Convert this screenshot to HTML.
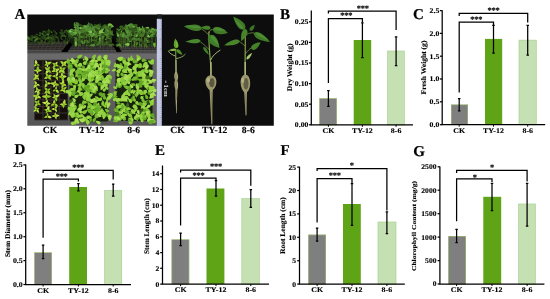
<!DOCTYPE html>
<html><head><meta charset="utf-8"><title>Figure</title>
<style>
html,body{margin:0;padding:0;background:#fff;}
body{width:550px;height:299px;overflow:hidden;font-family:"Liberation Serif", serif;}
svg{display:block;}
svg text{font-family:"Liberation Serif", serif;font-weight:bold;fill:#000;text-rendering:geometricPrecision;}
.t{font-size:7.2px;stroke:#000;stroke-width:0.12px;}
.t2{font-size:5.9px;stroke:#000;stroke-width:0.12px;}
.s{font-size:8.4px;letter-spacing:-0.25px;stroke:#000;stroke-width:0.15px;}
.L{font-size:15px;stroke:#000;stroke-width:0.2px;}
.p{font-size:9.3px;stroke:#000;stroke-width:0.15px;}
</style></head><body>
<svg width="550" height="299" viewBox="0 0 550 299">
<rect width="550" height="299" fill="#fff"/>
<defs><clipPath id="cpL"><rect x="27.3" y="14.4" width="134.7" height="111.4"/></clipPath><clipPath id="cpR"><rect x="162" y="14.4" width="111.8" height="111.4"/></clipPath><linearGradient id="flr" x1="0" y1="0" x2="0" y2="1"><stop offset="0.35" stop-color="#6b6b6b"/><stop offset="1" stop-color="#565656"/></linearGradient><filter id="bl" x="-5%" y="-5%" width="110%" height="110%"><feGaussianBlur stdDeviation="0.35"/></filter></defs>
<g id="photoA1" clip-path="url(#cpL)"><g filter="url(#bl)">
<rect x="26" y="13" width="137" height="114" fill="url(#flr)"/>
<rect x="26" y="13" width="137" height="39.8" fill="#070707"/>
<path d="M26 42.3L70.5 41.2L61.5 52L26 52Z" fill="#2a2724"/>
<path d="M73 43.5L111 44.5L119.5 52L67.5 52Z" fill="#2b2926"/>
<path d="M118 45.5L158 45.5L158 52L121.5 52Z" fill="#2d2b29"/>
<path d="M31.6 42L27.8 51.5" stroke="#4a4744" stroke-width="0.5"/>
<path d="M35.9 42L32.1 51.5" stroke="#4a4744" stroke-width="0.5"/>
<path d="M40.2 42L36.4 51.5" stroke="#4a4744" stroke-width="0.5"/>
<path d="M44.5 42L40.7 51.5" stroke="#4a4744" stroke-width="0.5"/>
<path d="M48.8 42L45.0 51.5" stroke="#4a4744" stroke-width="0.5"/>
<path d="M53.1 42L49.3 51.5" stroke="#4a4744" stroke-width="0.5"/>
<path d="M57.4 42L53.6 51.5" stroke="#4a4744" stroke-width="0.5"/>
<path d="M61.7 42L57.9 51.5" stroke="#4a4744" stroke-width="0.5"/>
<path d="M66.0 42L62.2 51.5" stroke="#4a4744" stroke-width="0.5"/>
<path d="M70.3 42L66.5 51.5" stroke="#4a4744" stroke-width="0.5"/>
<path d="M26 44.3L66.7 43.699999999999996" stroke="#4d4a47" stroke-width="0.5"/>
<path d="M26 46.8L64.7 46.199999999999996" stroke="#4d4a47" stroke-width="0.5"/>
<path d="M26 49.3L62.7 48.699999999999996" stroke="#4d4a47" stroke-width="0.5"/>
<path d="M75.0 44.5L73.8 51.5" stroke="#484644" stroke-width="0.5"/>
<path d="M79.0 44.5L78.0 51.5" stroke="#484644" stroke-width="0.5"/>
<path d="M83.0 44.5L82.2 51.5" stroke="#484644" stroke-width="0.5"/>
<path d="M87.0 44.5L86.5 51.5" stroke="#484644" stroke-width="0.5"/>
<path d="M91.0 44.5L90.8 51.5" stroke="#484644" stroke-width="0.5"/>
<path d="M95.0 44.5L95.0 51.5" stroke="#484644" stroke-width="0.5"/>
<path d="M99.0 44.5L99.2 51.5" stroke="#484644" stroke-width="0.5"/>
<path d="M103.0 44.5L103.5 51.5" stroke="#484644" stroke-width="0.5"/>
<path d="M107.0 44.5L107.8 51.5" stroke="#484644" stroke-width="0.5"/>
<path d="M111.0 44.5L112.0 51.5" stroke="#484644" stroke-width="0.5"/>
<path d="M121.0 46L121.8 51.5" stroke="#484644" stroke-width="0.5"/>
<path d="M124.9 46L125.7 51.5" stroke="#484644" stroke-width="0.5"/>
<path d="M128.8 46L129.6 51.5" stroke="#484644" stroke-width="0.5"/>
<path d="M132.7 46L133.5 51.5" stroke="#484644" stroke-width="0.5"/>
<path d="M136.6 46L137.4 51.5" stroke="#484644" stroke-width="0.5"/>
<path d="M140.5 46L141.3 51.5" stroke="#484644" stroke-width="0.5"/>
<path d="M144.4 46L145.2 51.5" stroke="#484644" stroke-width="0.5"/>
<path d="M148.3 46L149.1 51.5" stroke="#484644" stroke-width="0.5"/>
<path d="M152.2 46L153.0 51.5" stroke="#484644" stroke-width="0.5"/>
<path d="M156.1 46L156.9 51.5" stroke="#484644" stroke-width="0.5"/>
<path d="M70 48.2H115M120 48.6H157" stroke="#4c4a48" stroke-width="0.5"/>
<path d="M26 50.9H61.5M68 50.9H118.5M122 50.9H157" stroke="#5c5c5c" stroke-width="1.1"/>
<rect x="26" y="51.8" width="137" height="1.6" fill="#4a4a4a"/>
<path d="M61.2 52L70.6 40.8L73.4 42L67.4 52Z" fill="#040404"/>
<path d="M110.6 39L113 39L120.6 52L116.6 52Z" fill="#050505"/>
<path d="M70 42L72 33L78 29L96 28L110 30L112 40L112 45L72 44.5Z" fill="#16220f"/>
<path d="M117 45.5L116 32L124 27L140 27L156 31L157 46Z" fill="#17230f"/>
<path d="M89.6 33.4L90.2 45.9" stroke="#6f9c45" stroke-width="0.6" opacity="0.75"/>
<path d="M91.8 33.5L91.4 46.0" stroke="#6f9c45" stroke-width="0.6" opacity="0.75"/>
<path d="M96.6 34.8L96.1 45.4" stroke="#6f9c45" stroke-width="0.6" opacity="0.75"/>
<path d="M75.5 34.9L75.8 44.6" stroke="#6f9c45" stroke-width="0.6" opacity="0.75"/>
<path d="M110.3 35.8L110.5 46.3" stroke="#6f9c45" stroke-width="0.6" opacity="0.75"/>
<path d="M78.1 30.1L78.2 44.7" stroke="#6f9c45" stroke-width="0.6" opacity="0.75"/>
<path d="M79.4 31.5L78.9 45.9" stroke="#6f9c45" stroke-width="0.6" opacity="0.75"/>
<path d="M89.2 35.1L89.2 46.4" stroke="#6f9c45" stroke-width="0.6" opacity="0.75"/>
<path d="M91.5 34.0L91.4 45.3" stroke="#6f9c45" stroke-width="0.6" opacity="0.75"/>
<path d="M110.9 36.0L111.3 46.6" stroke="#6f9c45" stroke-width="0.6" opacity="0.75"/>
<path d="M84.3 31.4L84.0 44.7" stroke="#6f9c45" stroke-width="0.6" opacity="0.75"/>
<path d="M101.9 32.4L102.3 45.7" stroke="#6f9c45" stroke-width="0.6" opacity="0.75"/>
<path d="M109.4 35.1L108.8 45.1" stroke="#6f9c45" stroke-width="0.6" opacity="0.75"/>
<path d="M107.5 32.8L108.1 45.7" stroke="#6f9c45" stroke-width="0.6" opacity="0.75"/>
<path d="M74.8 33.8L75.2 45.3" stroke="#6f9c45" stroke-width="0.6" opacity="0.75"/>
<path d="M75.4 32.0L76.0 46.8" stroke="#6f9c45" stroke-width="0.6" opacity="0.75"/>
<path d="M76.6 31.5L76.1 44.7" stroke="#6f9c45" stroke-width="0.6" opacity="0.75"/>
<path d="M103.1 31.1L103.2 45.8" stroke="#6f9c45" stroke-width="0.6" opacity="0.75"/>
<path d="M79.4 34.4L79.0 46.4" stroke="#6f9c45" stroke-width="0.6" opacity="0.75"/>
<path d="M76.5 32.5L76.2 45.3" stroke="#6f9c45" stroke-width="0.6" opacity="0.75"/>
<path d="M109.9 34.8L109.6 47.2" stroke="#6f9c45" stroke-width="0.6" opacity="0.75"/>
<path d="M80.2 32.4L80.6 46.4" stroke="#6f9c45" stroke-width="0.6" opacity="0.75"/>
<path d="M75.9 35.9L75.6 45.3" stroke="#6f9c45" stroke-width="0.6" opacity="0.75"/>
<path d="M102.1 32.0L101.9 44.7" stroke="#6f9c45" stroke-width="0.6" opacity="0.75"/>
<path d="M75.5 33.5L75.2 46.3" stroke="#6f9c45" stroke-width="0.6" opacity="0.75"/>
<path d="M86.5 32.7L87.0 46.0" stroke="#6f9c45" stroke-width="0.6" opacity="0.75"/>
<path d="M94.4 35.2L94.0 45.0" stroke="#6f9c45" stroke-width="0.6" opacity="0.75"/>
<path d="M107.4 34.9L107.1 45.1" stroke="#6f9c45" stroke-width="0.6" opacity="0.75"/>
<path d="M100.8 35.6L100.5 47.4" stroke="#6f9c45" stroke-width="0.6" opacity="0.75"/>
<path d="M106.4 33.6L106.3 44.8" stroke="#6f9c45" stroke-width="0.6" opacity="0.75"/>
<path d="M119.5 36.8L119.2 47.3" stroke="#668f40" stroke-width="0.55" opacity="0.7"/>
<path d="M127.8 36.1L127.9 46.2" stroke="#668f40" stroke-width="0.55" opacity="0.7"/>
<path d="M124.7 35.6L124.2 46.1" stroke="#668f40" stroke-width="0.55" opacity="0.7"/>
<path d="M139.3 36.3L139.4 46.2" stroke="#668f40" stroke-width="0.55" opacity="0.7"/>
<path d="M152.9 33.0L152.4 46.2" stroke="#668f40" stroke-width="0.55" opacity="0.7"/>
<path d="M134.9 32.3L134.6 46.4" stroke="#668f40" stroke-width="0.55" opacity="0.7"/>
<path d="M139.7 32.7L139.6 47.7" stroke="#668f40" stroke-width="0.55" opacity="0.7"/>
<path d="M155.3 35.3L155.4 47.0" stroke="#668f40" stroke-width="0.55" opacity="0.7"/>
<path d="M123.3 32.2L122.9 47.8" stroke="#668f40" stroke-width="0.55" opacity="0.7"/>
<path d="M144.6 36.8L144.2 47.1" stroke="#668f40" stroke-width="0.55" opacity="0.7"/>
<path d="M136.3 35.7L136.1 48.0" stroke="#668f40" stroke-width="0.55" opacity="0.7"/>
<path d="M120.9 34.7L121.1 47.8" stroke="#668f40" stroke-width="0.55" opacity="0.7"/>
<path d="M146.0 35.5L146.3 47.8" stroke="#668f40" stroke-width="0.55" opacity="0.7"/>
<path d="M131.4 35.4L131.8 47.7" stroke="#668f40" stroke-width="0.55" opacity="0.7"/>
<path d="M133.9 36.0L134.2 46.9" stroke="#668f40" stroke-width="0.55" opacity="0.7"/>
<path d="M141.7 33.9L141.8 47.0" stroke="#668f40" stroke-width="0.55" opacity="0.7"/>
<path d="M121.0 35.2L121.5 47.7" stroke="#668f40" stroke-width="0.55" opacity="0.7"/>
<path d="M145.7 33.9L145.9 47.0" stroke="#668f40" stroke-width="0.55" opacity="0.7"/>
<path d="M134.7 36.2L134.3 47.4" stroke="#668f40" stroke-width="0.55" opacity="0.7"/>
<path d="M119.1 35.0L119.1 46.1" stroke="#668f40" stroke-width="0.55" opacity="0.7"/>
<path d="M144.5 34.5L144.7 47.8" stroke="#668f40" stroke-width="0.55" opacity="0.7"/>
<path d="M127.7 32.1L127.5 47.2" stroke="#668f40" stroke-width="0.55" opacity="0.7"/>
<path d="M125.7 32.8L126.1 47.1" stroke="#668f40" stroke-width="0.55" opacity="0.7"/>
<path d="M134.8 36.5L134.6 47.2" stroke="#668f40" stroke-width="0.55" opacity="0.7"/>
<path d="M125.5 34.2L125.8 47.8" stroke="#668f40" stroke-width="0.55" opacity="0.7"/>
<path d="M151.5 33.9L151.5 46.3" stroke="#668f40" stroke-width="0.55" opacity="0.7"/>
<path d="M123.2 34.5L123.5 47.6" stroke="#668f40" stroke-width="0.55" opacity="0.7"/>
<path d="M145.0 36.8L144.8 45.9" stroke="#668f40" stroke-width="0.55" opacity="0.7"/>
<path d="M135.1 33.4L134.8 46.5" stroke="#668f40" stroke-width="0.55" opacity="0.7"/>
<path d="M141.8 34.5L141.6 47.6" stroke="#668f40" stroke-width="0.55" opacity="0.7"/>
<path d="M65.3 38.4V42.7" stroke="#4d6e30" stroke-width="0.5" opacity="0.6"/>
<path d="M29.2 39.6V42.6" stroke="#4d6e30" stroke-width="0.5" opacity="0.6"/>
<path d="M54.9 38.7V43.3" stroke="#4d6e30" stroke-width="0.5" opacity="0.6"/>
<path d="M58.1 37.1V42.8" stroke="#4d6e30" stroke-width="0.5" opacity="0.6"/>
<path d="M45.3 37.1V44.6" stroke="#4d6e30" stroke-width="0.5" opacity="0.6"/>
<path d="M37.0 37.4V42.6" stroke="#4d6e30" stroke-width="0.5" opacity="0.6"/>
<path d="M51.9 38.3V44.1" stroke="#4d6e30" stroke-width="0.5" opacity="0.6"/>
<path d="M52.9 39.4V44.9" stroke="#4d6e30" stroke-width="0.5" opacity="0.6"/>
<path d="M54.0 37.6V43.7" stroke="#4d6e30" stroke-width="0.5" opacity="0.6"/>
<path d="M34.8 37.0V43.7" stroke="#4d6e30" stroke-width="0.5" opacity="0.6"/>
<path d="M55.1 37.5V43.2" stroke="#4d6e30" stroke-width="0.5" opacity="0.6"/>
<path d="M41.1 39.1V43.8" stroke="#4d6e30" stroke-width="0.5" opacity="0.6"/>
<path d="M51.3 39.3V43.5" stroke="#4d6e30" stroke-width="0.5" opacity="0.6"/>
<path d="M58.1 39.7V42.7" stroke="#4d6e30" stroke-width="0.5" opacity="0.6"/>
<path d="M63.4 39.2V42.8" stroke="#4d6e30" stroke-width="0.5" opacity="0.6"/>
<path d="M45.2 38.9V44.8" stroke="#4d6e30" stroke-width="0.5" opacity="0.6"/>
<path d="M42.3 38.7V44.7" stroke="#4d6e30" stroke-width="0.5" opacity="0.6"/>
<path d="M58.3 39.8V43.7" stroke="#4d6e30" stroke-width="0.5" opacity="0.6"/>
<path d="M52.8 37.6V44.3" stroke="#4d6e30" stroke-width="0.5" opacity="0.6"/>
<path d="M59.1 38.9V44.3" stroke="#4d6e30" stroke-width="0.5" opacity="0.6"/>
<path d="M36.1 39.7V45.0" stroke="#4d6e30" stroke-width="0.5" opacity="0.6"/>
<path d="M65.1 38.6V44.5" stroke="#4d6e30" stroke-width="0.5" opacity="0.6"/>
<path d="M40.2 39.7V44.6" stroke="#4d6e30" stroke-width="0.5" opacity="0.6"/>
<path d="M41.2 37.2V43.6" stroke="#4d6e30" stroke-width="0.5" opacity="0.6"/>
<path d="M48.9 39.3V43.7" stroke="#4d6e30" stroke-width="0.5" opacity="0.6"/>
<path d="M29.1 39.4V42.7" stroke="#4d6e30" stroke-width="0.5" opacity="0.6"/>
<path d="M61.2 36.5C60.2 36.7 60.5 37.9 61.2 38.9C61.9 37.9 62.2 36.8 61.2 36.5Z" fill="#223616"/>
<path d="M67.1 38.3C66.2 38.9 67.0 40.4 68.1 41.6C68.4 40.0 68.3 38.3 67.1 38.3Z" fill="#283d19"/>
<path d="M47.6 42.6C48.0 43.5 49.3 43.0 50.4 42.2C49.1 41.7 47.7 41.6 47.6 42.6Z" fill="#283d19"/>
<path d="M67.2 40.1C67.4 41.1 68.8 40.8 70.0 40.2C68.9 39.5 67.5 39.2 67.2 40.1Z" fill="#1f3014"/>
<path d="M47.8 38.0C47.0 38.9 48.2 40.0 49.6 40.6C49.5 39.0 49.0 37.5 47.8 38.0Z" fill="#223616"/>
<path d="M38.8 40.3C38.9 39.5 37.9 39.3 36.9 39.3C37.5 40.2 38.2 40.9 38.8 40.3Z" fill="#223616"/>
<path d="M52.8 42.0C52.1 42.5 52.7 43.3 53.6 43.9C53.8 42.9 53.7 41.9 52.8 42.0Z" fill="#2f4a1c"/>
<path d="M37.2 38.7C36.1 38.6 36.0 40.0 36.3 41.3C37.4 40.4 38.1 39.3 37.2 38.7Z" fill="#223616"/>
<path d="M25.4 41.1C25.7 42.4 27.2 42.1 28.7 41.3C27.3 40.3 25.8 39.8 25.4 41.1Z" fill="#34521f"/>
<path d="M53.9 43.0C54.1 42.1 53.1 41.9 51.9 42.0C52.5 43.0 53.3 43.7 53.9 43.0Z" fill="#3a621c"/>
<path d="M34.0 44.0C34.7 44.9 36.1 44.1 37.2 43.0C35.6 42.7 34.0 42.9 34.0 44.0Z" fill="#223616"/>
<path d="M50.9 40.9C50.3 40.3 49.5 41.0 48.9 42.0C50.0 42.0 51.1 41.8 50.9 40.9Z" fill="#44701f"/>
<path d="M29.5 39.7C29.6 40.9 31.1 40.9 32.6 40.4C31.5 39.3 30.1 38.6 29.5 39.7Z" fill="#34521f"/>
<path d="M54.2 42.3C53.6 41.6 52.6 42.4 51.8 43.4C53.0 43.5 54.3 43.2 54.2 42.3Z" fill="#2f5218"/>
<path d="M53.0 37.2C52.6 36.3 51.2 36.8 50.0 37.6C51.4 38.1 52.8 38.2 53.0 37.2Z" fill="#34521f"/>
<path d="M41.5 41.0C41.7 41.7 42.6 41.4 43.4 40.8C42.5 40.5 41.6 40.4 41.5 41.0Z" fill="#1f3014"/>
<path d="M50.1 37.3C50.4 35.9 48.7 35.6 47.0 35.9C47.9 37.4 49.2 38.5 50.1 37.3Z" fill="#283d19"/>
<path d="M49.7 43.9C49.8 42.7 48.2 42.6 46.6 42.9C47.7 44.0 49.1 44.8 49.7 43.9Z" fill="#2f4a1c"/>
<path d="M66.2 41.8C66.3 40.5 64.7 40.4 63.2 40.9C64.2 42.1 65.6 43.0 66.2 41.8Z" fill="#1f3014"/>
<path d="M27.7 40.5C28.1 39.4 26.7 38.9 25.2 39.0C25.9 40.3 26.9 41.3 27.7 40.5Z" fill="#223616"/>
<path d="M51.5 39.0C50.4 38.9 50.3 40.2 50.6 41.4C51.7 40.7 52.5 39.7 51.5 39.0Z" fill="#34521f"/>
<path d="M32.0 38.5C32.0 37.5 30.7 37.6 29.5 38.1C30.4 38.9 31.6 39.5 32.0 38.5Z" fill="#2f4a1c"/>
<path d="M48.8 39.1C48.3 40.4 49.9 41.0 51.6 41.1C51.0 39.5 49.8 38.2 48.8 39.1Z" fill="#1f3014"/>
<path d="M44.3 43.1C44.1 42.0 42.8 42.3 41.7 43.0C42.8 43.8 44.0 44.2 44.3 43.1Z" fill="#2c4a14"/>
<path d="M39.2 38.3C38.3 38.0 37.9 39.1 37.8 40.3C38.9 39.8 39.8 39.0 39.2 38.3Z" fill="#2f4a1c"/>
<path d="M28.6 42.4C28.5 41.2 27.1 41.2 25.8 41.7C26.8 42.7 28.0 43.4 28.6 42.4Z" fill="#1f3014"/>
<path d="M50.5 42.0C51.0 42.8 52.0 42.1 52.7 41.2C51.6 40.9 50.4 40.9 50.5 42.0Z" fill="#1f3014"/>
<path d="M66.6 40.4C65.7 41.2 66.7 42.1 67.9 42.7C68.0 41.3 67.7 40.0 66.6 40.4Z" fill="#1f3014"/>
<path d="M36.3 37.1C36.2 36.2 34.9 36.2 33.6 36.6C34.6 37.4 35.9 38.0 36.3 37.1Z" fill="#223616"/>
<path d="M42.0 40.1C40.9 40.4 41.3 42.0 42.1 43.3C42.7 41.9 43.0 40.4 42.0 40.1Z" fill="#4b7a22"/>
<path d="M52.3 38.9C52.5 39.9 53.6 39.7 54.7 39.1C53.7 38.4 52.6 38.0 52.3 38.9Z" fill="#283d19"/>
<path d="M47.0 40.9C47.1 41.8 48.2 41.7 49.2 41.2C48.4 40.5 47.4 40.1 47.0 40.9Z" fill="#1f3014"/>
<path d="M37.3 37.9C36.6 36.8 35.3 37.7 34.3 39.0C35.8 39.4 37.4 39.3 37.3 37.9Z" fill="#283d19"/>
<path d="M39.9 39.6C39.8 40.5 40.8 40.6 41.9 40.3C41.3 39.5 40.4 38.8 39.9 39.6Z" fill="#2f4a1c"/>
<path d="M42.1 37.4C42.2 38.3 43.3 38.2 44.2 37.7C43.4 37.0 42.4 36.6 42.1 37.4Z" fill="#2f4a1c"/>
<path d="M52.8 39.8C52.6 38.9 51.4 39.1 50.3 39.6C51.3 40.3 52.4 40.7 52.8 39.8Z" fill="#1f3014"/>
<path d="M30.8 39.1C30.8 38.1 29.3 38.0 27.9 38.3C28.9 39.3 30.2 40.0 30.8 39.1Z" fill="#3a621c"/>
<path d="M42.4 40.5C41.6 40.3 41.2 41.4 41.1 42.6C42.1 42.0 43.0 41.2 42.4 40.5Z" fill="#2c4a14"/>
<path d="M48.2 42.7C48.0 43.6 49.2 44.1 50.4 44.2C49.8 43.1 48.9 42.1 48.2 42.7Z" fill="#2f4a1c"/>
<path d="M25.7 41.0C25.6 42.3 27.0 42.3 28.4 41.9C27.5 40.7 26.3 40.0 25.7 41.0Z" fill="#4b7a22"/>
<path d="M32.6 36.6C32.4 37.8 33.7 37.9 35.0 37.6C34.3 36.5 33.2 35.7 32.6 36.6Z" fill="#1f3014"/>
<path d="M54.1 41.3C53.6 41.9 54.3 42.5 55.2 43.0C55.2 42.0 54.8 41.1 54.1 41.3Z" fill="#2f4a1c"/>
<path d="M29.3 40.3C28.6 40.8 29.3 41.6 30.1 42.2C30.3 41.2 30.2 40.2 29.3 40.3Z" fill="#223616"/>
<path d="M43.9 37.2C42.5 37.1 42.4 38.8 42.8 40.5C44.2 39.4 45.1 37.9 43.9 37.2Z" fill="#1f3014"/>
<path d="M44.8 41.0C43.6 40.6 43.2 42.0 43.3 43.6C44.7 42.9 45.8 41.9 44.8 41.0Z" fill="#34521f"/>
<path d="M41.5 35.7C40.8 36.2 41.5 37.0 42.4 37.5C42.5 36.4 42.3 35.4 41.5 35.7Z" fill="#283d19"/>
<path d="M41.5 39.2C41.2 38.2 39.9 38.6 38.7 39.3C39.9 39.9 41.3 40.1 41.5 39.2Z" fill="#283d19"/>
<path d="M67.1 41.6C66.7 40.9 65.9 41.3 65.2 42.0C66.1 42.3 67.0 42.3 67.1 41.6Z" fill="#283d19"/>
<path d="M53.8 39.6C53.4 38.7 52.1 39.2 51.0 40.0C52.3 40.5 53.6 40.7 53.8 39.6Z" fill="#34521f"/>
<path d="M48.8 38.4C48.5 37.0 46.9 37.3 45.4 38.2C46.8 39.3 48.4 39.9 48.8 38.4Z" fill="#2c4a14"/>
<path d="M26.6 43.1C26.9 44.3 28.4 44.0 29.8 43.2C28.5 42.4 26.9 42.0 26.6 43.1Z" fill="#283d19"/>
<path d="M67.0 42.5C66.5 41.2 64.9 41.8 63.6 42.8C65.1 43.5 66.7 43.7 67.0 42.5Z" fill="#2f4a1c"/>
<path d="M30.8 42.4C30.8 43.5 32.4 43.6 33.9 43.3C32.8 42.3 31.4 41.5 30.8 42.4Z" fill="#283d19"/>
<path d="M24.6 43.4C25.6 44.4 26.7 43.2 27.5 41.7C25.8 41.6 24.2 42.0 24.6 43.4Z" fill="#2c4a14"/>
<path d="M29.1 40.7C28.2 41.4 29.1 42.5 30.2 43.2C30.4 41.9 30.1 40.5 29.1 40.7Z" fill="#223616"/>
<path d="M33.9 39.8C33.8 40.7 35.1 41.0 36.4 40.8C35.6 39.8 34.5 39.0 33.9 39.8Z" fill="#223616"/>
<path d="M54.4 36.8C54.4 37.4 55.4 37.4 56.3 37.2C55.6 36.6 54.7 36.2 54.4 36.8Z" fill="#1f3014"/>
<path d="M64.6 40.3C63.7 40.1 63.3 41.4 63.4 42.7C64.5 42.0 65.3 41.0 64.6 40.3Z" fill="#34521f"/>
<path d="M31.2 40.0C30.8 41.4 32.4 41.9 34.2 41.8C33.4 40.2 32.3 39.0 31.2 40.0Z" fill="#283d19"/>
<path d="M43.7 37.5C43.7 36.6 42.5 36.7 41.4 37.1C42.3 37.8 43.4 38.2 43.7 37.5Z" fill="#283d19"/>
<path d="M53.3 36.0C52.3 36.3 52.7 37.7 53.4 38.9C54.0 37.6 54.3 36.2 53.3 36.0Z" fill="#283d19"/>
<path d="M26.1 43.7C26.6 44.7 27.8 44.1 28.7 43.2C27.5 42.7 26.2 42.6 26.1 43.7Z" fill="#283d19"/>
<path d="M61.1 39.9C61.8 40.5 62.6 39.6 63.1 38.5C62.0 38.6 60.8 39.0 61.1 39.9Z" fill="#34521f"/>
<path d="M50.4 38.4C50.2 37.6 49.2 37.8 48.2 38.2C49.1 38.8 50.1 39.1 50.4 38.4Z" fill="#2f5218"/>
<path d="M51.3 37.5C51.6 38.9 53.1 38.5 54.5 37.7C53.2 36.7 51.7 36.2 51.3 37.5Z" fill="#283d19"/>
<path d="M68.0 40.7C68.7 41.8 70.0 40.8 70.9 39.6C69.3 39.2 67.8 39.4 68.0 40.7Z" fill="#283d19"/>
<path d="M35.4 39.8C35.2 40.8 36.6 41.3 38.1 41.3C37.3 40.0 36.2 39.0 35.4 39.8Z" fill="#283d19"/>
<path d="M37.8 39.9C37.2 39.2 36.1 40.0 35.2 41.0C36.5 41.1 37.9 40.9 37.8 39.9Z" fill="#1f3014"/>
<path d="M66.4 35.2C65.6 35.9 66.6 37.1 67.8 37.9C67.9 36.4 67.5 35.0 66.4 35.2Z" fill="#1f3014"/>
<path d="M46.6 37.8C45.1 37.6 45.0 39.2 45.4 40.8C46.8 39.9 47.7 38.6 46.6 37.8Z" fill="#4b7a22"/>
<path d="M51.9 41.2C51.3 41.5 51.6 42.3 52.2 43.1C52.5 42.2 52.5 41.3 51.9 41.2Z" fill="#2f4a1c"/>
<path d="M47.5 38.1C47.6 39.1 49.0 39.0 50.3 38.6C49.2 37.7 47.9 37.2 47.5 38.1Z" fill="#223616"/>
<path d="M53.6 40.2C53.7 39.2 52.4 39.1 51.2 39.4C52.0 40.4 53.1 41.1 53.6 40.2Z" fill="#2c4a14"/>
<path d="M62.9 41.2C62.0 41.4 62.2 42.7 62.8 43.8C63.5 42.7 63.9 41.5 62.9 41.2Z" fill="#223616"/>
<path d="M66.7 39.0C66.8 38.2 65.8 38.2 64.8 38.5C65.5 39.2 66.3 39.7 66.7 39.0Z" fill="#2f5218"/>
<path d="M35.8 41.8C35.5 42.7 36.5 43.1 37.7 43.0C37.3 42.0 36.5 41.1 35.8 41.8Z" fill="#223616"/>
<path d="M67.5 40.9C66.0 41.1 66.4 42.9 67.3 44.4C68.3 43.0 68.9 41.3 67.5 40.9Z" fill="#3a621c"/>
<path d="M55.1 38.6C54.4 38.4 54.1 39.4 54.0 40.3C54.9 39.8 55.6 39.1 55.1 38.6Z" fill="#2f5218"/>
<path d="M38.1 41.7C38.3 42.3 39.2 42.0 40.0 41.5C39.2 41.2 38.2 41.0 38.1 41.7Z" fill="#34521f"/>
<path d="M37.4 38.1C36.7 37.4 35.7 38.2 35.0 39.2C36.2 39.3 37.5 39.0 37.4 38.1Z" fill="#3a621c"/>
<path d="M37.4 42.3C37.3 43.4 38.9 43.8 40.6 43.6C39.6 42.4 38.2 41.4 37.4 42.3Z" fill="#34521f"/>
<path d="M35.9 40.4C35.2 39.7 34.4 40.4 33.9 41.4C35.0 41.6 36.1 41.3 35.9 40.4Z" fill="#538c36"/>
<path d="M63.4 41.0C63.1 41.8 64.1 42.1 65.2 42.0C64.7 41.1 64.0 40.3 63.4 41.0Z" fill="#2f5218"/>
<path d="M57.1 36.8C56.4 37.1 56.8 38.1 57.5 38.9C57.8 38.0 57.8 36.9 57.1 36.8Z" fill="#1f3014"/>
<path d="M50.8 37.9C50.8 38.9 52.0 38.8 53.1 38.3C52.3 37.5 51.2 36.9 50.8 37.9Z" fill="#1f3014"/>
<path d="M44.9 38.9C44.2 39.4 44.9 40.6 45.8 41.5C46.0 40.2 45.8 38.9 44.9 38.9Z" fill="#2f4a1c"/>
<path d="M68.6 38.4C69.2 39.0 70.0 38.2 70.4 37.2C69.3 37.2 68.3 37.6 68.6 38.4Z" fill="#34521f"/>
<path d="M42.7 41.7C41.8 42.1 42.4 43.3 43.2 44.3C43.6 43.1 43.6 41.8 42.7 41.7Z" fill="#1f3014"/>
<path d="M47.1 40.0C47.4 41.3 49.0 40.9 50.4 40.1C49.0 39.2 47.4 38.7 47.1 40.0Z" fill="#223616"/>
<path d="M34.9 39.0C34.7 40.4 36.3 40.5 37.8 40.1C36.9 38.8 35.6 37.9 34.9 39.0Z" fill="#4b7a22"/>
<path d="M46.3 31.0C46.5 32.4 48.1 32.1 49.6 31.3C48.3 30.3 46.7 29.7 46.3 31.0Z" fill="#223616"/>
<path d="M50.0 35.6C49.1 34.6 47.6 35.7 46.4 37.1C48.2 37.2 50.1 36.9 50.0 35.6Z" fill="#1f3014"/>
<path d="M41.0 32.2C40.5 31.2 39.3 31.9 38.3 33.0C39.7 33.4 41.1 33.3 41.0 32.2Z" fill="#283d19"/>
<path d="M31.4 38.2C32.5 39.4 33.8 38.0 34.7 36.2C32.7 36.1 30.9 36.6 31.4 38.2Z" fill="#34521f"/>
<path d="M70.5 32.9C71.2 31.8 69.8 31.0 68.3 30.7C68.6 32.2 69.4 33.6 70.5 32.9Z" fill="#223616"/>
<path d="M45.8 31.3C45.8 30.3 44.7 30.3 43.6 30.7C44.3 31.6 45.3 32.2 45.8 31.3Z" fill="#1f3014"/>
<path d="M65.6 32.4C65.7 33.7 67.1 33.5 68.5 32.8C67.4 31.8 66.1 31.2 65.6 32.4Z" fill="#4b7a22"/>
<path d="M54.9 37.4C55.3 38.8 56.9 38.2 58.3 37.2C56.8 36.3 55.1 35.9 54.9 37.4Z" fill="#2f4a1c"/>
<path d="M37.8 39.2C38.8 38.1 37.5 36.8 35.9 35.9C35.9 37.8 36.4 39.6 37.8 39.2Z" fill="#6eae42"/>
<path d="M65.4 32.1C65.0 31.2 63.6 31.8 62.5 32.6C63.8 33.0 65.3 33.1 65.4 32.1Z" fill="#4b7a22"/>
<path d="M44.9 37.2C44.1 36.2 42.7 37.3 41.6 38.7C43.4 38.8 45.1 38.5 44.9 37.2Z" fill="#2f5218"/>
<path d="M25.6 37.0C25.4 38.0 26.8 38.3 28.2 38.3C27.4 37.2 26.3 36.3 25.6 37.0Z" fill="#34521f"/>
<path d="M37.7 34.1C37.2 33.2 36.1 33.8 35.3 34.7C36.4 35.1 37.7 35.1 37.7 34.1Z" fill="#34521f"/>
<path d="M38.4 38.5C39.2 37.5 37.9 36.3 36.5 35.5C36.7 37.2 37.3 38.8 38.4 38.5Z" fill="#2f4a1c"/>
<path d="M35.1 37.0C36.1 37.3 36.6 36.0 36.8 34.6C35.5 35.2 34.5 36.2 35.1 37.0Z" fill="#1f3014"/>
<path d="M64.9 30.4C64.5 31.8 66.2 32.3 68.0 32.3C67.2 30.7 66.0 29.4 64.9 30.4Z" fill="#2f5218"/>
<path d="M44.1 32.8C44.8 32.0 43.7 31.0 42.4 30.3C42.6 31.8 43.1 33.1 44.1 32.8Z" fill="#44701f"/>
<path d="M54.6 32.5C55.4 32.8 55.8 31.6 55.9 30.5C54.9 31.0 54.0 31.8 54.6 32.5Z" fill="#2f5218"/>
<path d="M64.3 32.5C65.8 33.4 66.8 31.6 67.1 29.6C65.1 30.0 63.4 31.0 64.3 32.5Z" fill="#2f5218"/>
<path d="M26.4 39.5C28.0 39.6 28.1 37.6 27.6 35.7C26.1 37.0 25.1 38.7 26.4 39.5Z" fill="#538c36"/>
<path d="M26.2 38.8C26.9 39.3 27.8 38.4 28.5 37.4C27.2 37.5 26.0 37.9 26.2 38.8Z" fill="#2c4a14"/>
<path d="M43.9 37.6C43.5 37.0 42.5 37.4 41.7 38.1C42.7 38.4 43.9 38.4 43.9 37.6Z" fill="#2f4a1c"/>
<path d="M34.7 37.2C34.9 38.0 36.2 37.8 37.4 37.3C36.3 36.7 35.0 36.4 34.7 37.2Z" fill="#34521f"/>
<path d="M66.2 37.5C66.9 36.3 65.4 35.3 63.6 34.6C64.0 36.4 64.9 38.1 66.2 37.5Z" fill="#3a621c"/>
<path d="M62.9 32.6C63.9 31.8 63.0 30.4 61.7 29.4C61.4 31.0 61.5 32.7 62.9 32.6Z" fill="#283d19"/>
<path d="M40.6 38.2C42.0 39.0 43.0 37.3 43.3 35.3C41.3 35.8 39.6 36.8 40.6 38.2Z" fill="#223616"/>
<path d="M49.2 36.8C49.8 36.1 48.9 35.4 47.9 34.9C47.9 36.1 48.3 37.1 49.2 36.8Z" fill="#2f4a1c"/>
<path d="M43.5 36.6C43.3 35.5 42.0 35.8 40.9 36.4C41.9 37.3 43.1 37.7 43.5 36.6Z" fill="#2f4a1c"/>
<path d="M62.6 29.8C61.9 28.8 60.7 29.7 59.9 30.9C61.3 31.2 62.8 31.0 62.6 29.8Z" fill="#2f4a1c"/>
<path d="M43.2 34.7C42.7 35.9 44.2 36.4 45.7 36.4C45.1 34.9 44.2 33.8 43.2 34.7Z" fill="#2f4a1c"/>
<path d="M57.6 39.5C58.4 39.7 58.8 38.6 58.8 37.4C57.8 38.0 57.0 38.9 57.6 39.5Z" fill="#2f4a1c"/>
<path d="M37.3 37.8C37.2 36.8 35.7 36.8 34.4 37.1C35.5 38.1 36.8 38.7 37.3 37.8Z" fill="#1f3014"/>
<path d="M49.8 39.4C51.3 39.6 51.5 37.6 51.2 35.7C49.7 36.9 48.6 38.5 49.8 39.4Z" fill="#2f4a1c"/>
<path d="M38.9 33.0C39.1 34.0 40.3 33.7 41.5 33.1C40.4 32.4 39.2 32.0 38.9 33.0Z" fill="#2f4a1c"/>
<path d="M46.0 38.5C46.3 39.6 47.5 39.2 48.6 38.5C47.5 37.7 46.2 37.4 46.0 38.5Z" fill="#34521f"/>
<path d="M53.7 34.5C53.4 35.7 54.8 35.9 56.1 35.7C55.5 34.5 54.4 33.5 53.7 34.5Z" fill="#1f3014"/>
<path d="M69.3 34.4C69.1 33.1 67.3 33.4 65.8 34.1C67.2 35.1 68.9 35.6 69.3 34.4Z" fill="#2f4a1c"/>
<path d="M24.7 37.6C24.6 39.2 26.5 39.2 28.3 38.6C27.1 37.2 25.5 36.1 24.7 37.6Z" fill="#40702a"/>
<path d="M43.3 37.5C44.4 37.6 44.5 36.3 44.1 34.9C43.0 35.7 42.3 36.8 43.3 37.5Z" fill="#2f4a1c"/>
<path d="M61.0 34.2C62.3 34.4 62.5 32.7 62.3 31.0C61.0 32.0 60.0 33.4 61.0 34.2Z" fill="#283d19"/>
<path d="M36.3 38.9C37.1 37.9 35.9 36.8 34.3 36.2C34.4 37.9 35.0 39.4 36.3 38.9Z" fill="#223616"/>
<path d="M46.9 33.1C46.6 34.2 47.9 34.6 49.3 34.6C48.7 33.4 47.7 32.4 46.9 33.1Z" fill="#2f4a1c"/>
<path d="M44.5 39.4C45.4 39.5 45.6 38.2 45.4 37.0C44.4 37.8 43.7 38.8 44.5 39.4Z" fill="#44701f"/>
<path d="M50.2 31.4C51.1 30.2 49.7 29.1 48.0 28.4C48.1 30.2 48.8 31.9 50.2 31.4Z" fill="#2c4a14"/>
<path d="M48.9 36.1C49.6 35.4 48.7 34.6 47.5 34.1C47.5 35.3 47.9 36.5 48.9 36.1Z" fill="#223616"/>
<path d="M51.5 36.5C52.5 36.8 53.1 35.3 53.3 33.8C52.0 34.6 50.9 35.7 51.5 36.5Z" fill="#223616"/>
<path d="M40.8 35.9C41.8 35.3 41.1 33.8 40.1 32.5C39.6 34.1 39.6 35.8 40.8 35.9Z" fill="#283d19"/>
<path d="M61.1 34.8C60.8 36.6 62.9 36.8 64.9 36.3C63.7 34.6 62.1 33.4 61.1 34.8Z" fill="#44701f"/>
<path d="M47.5 33.1C47.8 33.9 49.0 33.6 50.1 32.9C48.9 32.5 47.7 32.3 47.5 33.1Z" fill="#223616"/>
<path d="M64.2 32.9C65.3 32.8 65.3 31.2 64.9 29.8C64.0 30.9 63.3 32.3 64.2 32.9Z" fill="#2f4a1c"/>
<path d="M28.2 39.4C29.6 38.6 28.6 36.9 27.1 35.6C26.5 37.5 26.5 39.5 28.2 39.4Z" fill="#2f5218"/>
<path d="M30.2 39.7C31.2 39.2 30.6 37.7 29.6 36.5C29.1 38.0 29.0 39.6 30.2 39.7Z" fill="#2f4a1c"/>
<path d="M58.2 38.6C59.1 37.2 57.4 36.1 55.4 35.6C55.8 37.6 56.7 39.4 58.2 38.6Z" fill="#2f4a1c"/>
<path d="M30.1 39.7C31.2 40.2 31.9 38.7 32.1 37.0C30.6 37.7 29.3 38.7 30.1 39.7Z" fill="#2c4a14"/>
<path d="M33.5 34.9C33.6 35.9 34.9 35.8 36.2 35.3C35.1 34.5 33.9 34.0 33.5 34.9Z" fill="#223616"/>
<path d="M37.1 37.9C37.9 37.1 36.9 36.2 35.6 35.6C35.5 37.0 35.9 38.3 37.1 37.9Z" fill="#223616"/>
<path d="M51.3 34.5C51.8 35.3 52.8 34.7 53.6 33.9C52.5 33.6 51.3 33.6 51.3 34.5Z" fill="#283d19"/>
<path d="M25.0 38.1C25.5 39.5 27.1 38.8 28.3 37.6C26.8 36.8 25.1 36.6 25.0 38.1Z" fill="#1f3014"/>
<path d="M44.4 33.6C45.3 34.4 46.6 33.1 47.5 31.6C45.8 31.8 44.0 32.4 44.4 33.6Z" fill="#283d19"/>
<path d="M46.9 35.5C48.0 35.0 47.3 33.6 46.3 32.4C45.9 33.8 45.8 35.4 46.9 35.5Z" fill="#283d19"/>
<path d="M56.7 35.6C56.1 34.4 54.2 35.0 52.5 36.1C54.4 36.8 56.4 37.0 56.7 35.6Z" fill="#283d19"/>
<path d="M49.1 32.8C50.2 32.2 49.4 30.5 48.2 29.2C47.9 30.9 47.9 32.7 49.1 32.8Z" fill="#2f5218"/>
<path d="M43.7 31.2C43.6 32.3 45.0 32.5 46.4 32.3C45.6 31.2 44.4 30.3 43.7 31.2Z" fill="#2f5218"/>
<path d="M40.3 34.8C39.7 34.1 38.8 34.9 38.2 36.0C39.4 36.0 40.6 35.7 40.3 34.8Z" fill="#223616"/>
<path d="M48.0 37.7C47.3 36.8 46.0 37.9 45.0 39.2C46.6 39.2 48.2 38.8 48.0 37.7Z" fill="#34521f"/>
<path d="M47.7 32.4C47.2 33.8 48.8 34.3 50.5 34.3C49.9 32.7 48.7 31.4 47.7 32.4Z" fill="#2c4a14"/>
<path d="M31.8 36.8C32.2 37.5 33.2 37.0 34.0 36.3C32.9 36.1 31.8 36.1 31.8 36.8Z" fill="#2f4a1c"/>
<path d="M30.7 37.7C30.4 36.7 29.2 37.0 28.2 37.7C29.3 38.4 30.4 38.7 30.7 37.7Z" fill="#34521f"/>
<path d="M67.3 31.8C68.3 31.1 67.5 29.6 66.2 28.5C65.9 30.1 66.1 31.8 67.3 31.8Z" fill="#223616"/>
<path d="M39.4 34.0C40.1 34.9 41.2 34.0 42.0 32.9C40.6 32.7 39.2 32.9 39.4 34.0Z" fill="#2f5218"/>
<path d="M38.5 35.4C38.8 36.4 40.1 36.1 41.2 35.3C40.0 34.6 38.8 34.3 38.5 35.4Z" fill="#44701f"/>
<path d="M69.3 34.3C70.1 33.3 68.8 32.2 67.2 31.6C67.5 33.2 68.1 34.8 69.3 34.3Z" fill="#2f4a1c"/>
<path d="M27.4 38.2C28.2 38.7 28.9 37.5 29.3 36.3C28.0 36.7 26.9 37.4 27.4 38.2Z" fill="#1f3014"/>
<path d="M27.9 38.9C28.6 40.1 30.3 39.3 31.6 38.1C29.9 37.5 28.0 37.5 27.9 38.9Z" fill="#68a83c"/>
<path d="M26.5 37.7C26.6 39.1 28.2 39.0 29.7 38.2C28.5 37.0 27.0 36.3 26.5 37.7Z" fill="#2c4a14"/>
<path d="M45.1 37.9C46.7 36.9 45.4 35.2 43.7 33.9C43.2 36.0 43.3 38.1 45.1 37.9Z" fill="#2c4a14"/>
<path d="M59.4 32.5C59.1 34.2 61.1 34.5 63.1 34.1C62.0 32.5 60.4 31.2 59.4 32.5Z" fill="#2c4a14"/>
<path d="M38.1 38.8C38.9 40.0 40.2 39.0 41.2 37.6C39.6 37.2 37.9 37.3 38.1 38.8Z" fill="#2f4a1c"/>
<path d="M47.4 33.0C48.3 32.3 47.4 31.1 46.2 30.2C46.0 31.7 46.2 33.2 47.4 33.0Z" fill="#223616"/>
<path d="M31.4 39.1C32.0 38.3 31.0 37.5 29.9 37.0C30.0 38.3 30.4 39.5 31.4 39.1Z" fill="#34521f"/>
<path d="M62.0 34.5C63.2 35.0 63.9 33.5 64.1 31.8C62.6 32.4 61.2 33.5 62.0 34.5Z" fill="#223616"/>
<path d="M52.4 32.4C52.5 31.4 51.3 31.4 50.2 31.8C50.9 32.7 51.9 33.3 52.4 32.4Z" fill="#5a9439"/>
<path d="M45.1 35.7C46.1 36.2 46.7 35.1 47.0 33.7C45.7 34.0 44.5 34.7 45.1 35.7Z" fill="#34521f"/>
<path d="M49.1 34.4C48.4 33.2 47.1 33.9 46.1 35.1C47.5 35.7 49.1 35.8 49.1 34.4Z" fill="#4b7a22"/>
<path d="M40.6 35.0C41.5 35.1 41.8 33.8 41.6 32.6C40.7 33.4 40.0 34.4 40.6 35.0Z" fill="#2f4a1c"/>
<path d="M29.6 37.0C29.6 38.1 30.9 38.0 32.1 37.5C31.2 36.6 30.1 36.0 29.6 37.0Z" fill="#2f4a1c"/>
<path d="M62.2 38.0C62.0 37.1 60.8 37.4 59.7 37.9C60.7 38.6 61.9 38.9 62.2 38.0Z" fill="#34521f"/>
<path d="M59.7 33.2C60.7 33.3 60.8 32.2 60.5 31.0C59.5 31.7 58.9 32.7 59.7 33.2Z" fill="#283d19"/>
<path d="M65.9 34.5C66.6 35.5 68.0 34.6 69.1 33.4C67.5 33.1 65.9 33.3 65.9 34.5Z" fill="#1f3014"/>
<path d="M29.3 38.1C29.8 39.1 30.8 38.5 31.7 37.5C30.5 37.1 29.3 37.0 29.3 38.1Z" fill="#223616"/>
<path d="M52.9 38.4C52.6 36.9 50.9 37.3 49.3 38.3C50.8 39.4 52.5 39.9 52.9 38.4Z" fill="#2f4a1c"/>
<path d="M51.2 38.8C52.1 39.7 53.6 38.6 54.7 37.1C52.9 37.0 51.0 37.5 51.2 38.8Z" fill="#2f4a1c"/>
<path d="M35.9 34.4C36.1 35.3 37.5 35.1 38.6 34.5C37.5 33.9 36.2 33.5 35.9 34.4Z" fill="#34521f"/>
<path d="M68.0 36.0C68.9 37.1 70.5 35.9 71.7 34.4C69.8 34.2 67.8 34.5 68.0 36.0Z" fill="#2f4a1c"/>
<path d="M67.0 29.6C67.0 30.6 68.1 30.5 69.2 30.1C68.4 29.3 67.4 28.7 67.0 29.6Z" fill="#1f3014"/>
<path d="M69.6 31.1C68.9 30.2 67.7 31.0 66.8 32.1C68.2 32.3 69.6 32.1 69.6 31.1Z" fill="#34521f"/>
<path d="M43.7 37.6C44.0 36.4 42.4 36.0 40.9 35.9C41.7 37.3 42.8 38.4 43.7 37.6Z" fill="#223616"/>
<path d="M34.4 38.0C34.6 39.1 35.8 38.9 37.0 38.4C36.0 37.5 34.8 37.1 34.4 38.0Z" fill="#283d19"/>
<path d="M30.6 37.4C29.9 36.3 28.4 37.2 27.1 38.5C28.9 38.8 30.7 38.6 30.6 37.4Z" fill="#1f3014"/>
<path d="M45.4 39.2C45.8 38.2 44.4 37.7 43.0 37.6C43.6 38.9 44.6 39.9 45.4 39.2Z" fill="#283d19"/>
<path d="M43.5 35.2C44.6 34.2 43.4 33.0 41.8 32.2C41.8 33.9 42.2 35.6 43.5 35.2Z" fill="#40702a"/>
<path d="M67.4 31.5C67.7 30.4 66.4 30.1 65.1 30.2C65.7 31.4 66.6 32.3 67.4 31.5Z" fill="#44701f"/>
<path d="M66.7 31.9C67.5 32.5 68.2 31.4 68.5 30.3C67.3 30.5 66.2 31.0 66.7 31.9Z" fill="#44701f"/>
<path d="M31.6 39.9C33.3 40.2 33.6 38.1 33.3 36.1C31.5 37.3 30.2 38.9 31.6 39.9Z" fill="#34521f"/>
<path d="M63.8 33.7C63.6 32.4 61.8 32.5 60.0 33.0C61.4 34.2 63.2 34.9 63.8 33.7Z" fill="#2f4a1c"/>
<path d="M52.5 30.8C52.7 32.2 54.2 32.0 55.7 31.2C54.4 30.2 53.0 29.5 52.5 30.8Z" fill="#223616"/>
<path d="M70.7 29.9C69.9 28.8 68.4 29.9 67.3 31.3C69.1 31.6 70.9 31.2 70.7 29.9Z" fill="#44782e"/>
<path d="M34.1 37.8C34.4 39.1 36.0 38.6 37.3 37.7C35.9 36.9 34.3 36.6 34.1 37.8Z" fill="#34521f"/>
<path d="M51.3 36.9C52.2 36.2 51.3 35.2 50.1 34.5C50.0 35.8 50.2 37.1 51.3 36.9Z" fill="#223616"/>
<path d="M36.3 39.5C37.5 40.0 38.1 38.5 38.2 37.0C36.7 37.5 35.5 38.5 36.3 39.5Z" fill="#44701f"/>
<path d="M35.1 37.1C35.7 38.1 36.7 37.4 37.6 36.5C36.3 36.0 35.1 36.0 35.1 37.1Z" fill="#34521f"/>
<path d="M53.7 37.2C54.9 37.6 55.5 36.0 55.6 34.2C54.1 35.0 52.8 36.2 53.7 37.2Z" fill="#223616"/>
<path d="M29.2 38.4C29.9 37.9 29.2 37.0 28.2 36.4C28.1 37.5 28.4 38.6 29.2 38.4Z" fill="#44701f"/>
<path d="M33.7 38.0C34.5 38.4 35.1 37.4 35.4 36.3C34.3 36.6 33.3 37.2 33.7 38.0Z" fill="#4b7a22"/>
<path d="M49.8 37.5C49.1 36.2 47.6 37.1 46.4 38.4C48.1 38.9 49.8 38.9 49.8 37.5Z" fill="#44701f"/>
<path d="M60.7 37.5C61.6 38.1 62.3 37.0 62.6 35.8C61.3 36.0 60.2 36.6 60.7 37.5Z" fill="#34521f"/>
<path d="M57.0 34.5C58.1 33.1 56.4 31.9 54.4 31.3C54.6 33.4 55.4 35.3 57.0 34.5Z" fill="#283d19"/>
<path d="M53.6 37.9C54.4 37.1 53.4 36.2 52.1 35.6C52.1 37.0 52.5 38.3 53.6 37.9Z" fill="#2f5218"/>
<path d="M52.8 37.7C52.2 36.5 50.6 37.2 49.3 38.3C50.9 38.9 52.6 39.0 52.8 37.7Z" fill="#34521f"/>
<path d="M58.6 36.3C59.2 37.3 60.6 36.5 61.7 35.4C60.2 35.1 58.6 35.1 58.6 36.3Z" fill="#1f3014"/>
<path d="M67.4 33.8C68.4 32.5 66.7 31.3 64.8 30.6C65.1 32.6 65.9 34.5 67.4 33.8Z" fill="#1f3014"/>
<path d="M63.1 36.2C64.3 36.7 64.8 35.2 64.8 33.6C63.4 34.2 62.2 35.3 63.1 36.2Z" fill="#2f4a1c"/>
<path d="M29.4 38.8C30.2 37.7 28.9 36.8 27.2 36.4C27.4 38.0 28.1 39.5 29.4 38.8Z" fill="#44782e"/>
<path d="M30.0 38.2C31.3 39.1 32.2 37.6 32.7 35.8C30.9 36.1 29.3 36.9 30.0 38.2Z" fill="#223616"/>
<path d="M69.2 36.0C70.2 36.3 70.6 35.1 70.6 33.8C69.4 34.3 68.4 35.2 69.2 36.0Z" fill="#1f3014"/>
<path d="M55.5 33.9C55.9 34.9 57.3 34.5 58.6 33.8C57.3 33.2 55.8 32.9 55.5 33.9Z" fill="#223616"/>
<path d="M57.1 34.6C57.8 34.0 57.0 33.0 56.1 32.3C55.9 33.5 56.1 34.7 57.1 34.6Z" fill="#34521f"/>
<path d="M33.2 35.5C32.8 34.6 31.3 35.1 30.1 35.9C31.5 36.4 33.0 36.5 33.2 35.5Z" fill="#2c4a14"/>
<path d="M70.1 39.4C71.5 38.4 70.3 36.8 68.7 35.6C68.3 37.6 68.5 39.6 70.1 39.4Z" fill="#3a621c"/>
<path d="M35.5 37.7C36.1 38.9 37.8 38.2 39.1 37.1C37.5 36.5 35.7 36.3 35.5 37.7Z" fill="#2f4a1c"/>
<path d="M97.4 31.5C95.3 31.5 95.3 34.2 96.1 36.7C98.0 34.9 99.3 32.6 97.4 31.5Z" fill="#68a83c"/>
<path d="M110.0 34.2C109.7 32.9 107.9 33.1 106.2 33.7C107.7 34.8 109.4 35.4 110.0 34.2Z" fill="#44701f"/>
<path d="M82.0 43.2C82.1 41.1 79.7 41.2 77.4 42.0C79.0 43.9 81.0 45.1 82.0 43.2Z" fill="#223616"/>
<path d="M79.6 39.6C79.2 40.9 80.9 41.6 82.7 41.7C81.9 40.1 80.7 38.7 79.6 39.6Z" fill="#2f5218"/>
<path d="M106.0 41.5C104.3 41.3 104.2 43.4 104.6 45.5C106.2 44.2 107.4 42.4 106.0 41.5Z" fill="#44701f"/>
<path d="M99.8 37.7C97.9 38.7 99.0 40.7 100.9 42.3C101.8 40.0 101.9 37.7 99.8 37.7Z" fill="#2f5218"/>
<path d="M83.0 38.1C81.3 37.6 80.6 39.8 80.6 42.1C82.6 41.0 84.3 39.4 83.0 38.1Z" fill="#2c4a14"/>
<path d="M100.7 34.1C100.3 33.0 98.8 33.4 97.5 34.3C98.9 35.0 100.4 35.3 100.7 34.1Z" fill="#1f3014"/>
<path d="M75.8 36.4C75.0 34.4 72.6 35.4 70.7 37.1C73.0 38.2 75.6 38.5 75.8 36.4Z" fill="#4b7a22"/>
<path d="M68.6 38.3C69.4 39.8 71.7 38.7 73.5 37.1C71.2 36.5 68.7 36.5 68.6 38.3Z" fill="#1f3014"/>
<path d="M72.4 34.9C73.6 36.8 75.9 35.4 77.7 33.3C75.1 32.5 72.3 32.6 72.4 34.9Z" fill="#44701f"/>
<path d="M109.3 36.8C109.8 34.7 107.2 34.2 104.6 34.5C106.0 36.7 107.9 38.4 109.3 36.8Z" fill="#2f5218"/>
<path d="M88.1 40.9C86.5 42.1 88.0 44.0 89.9 45.4C90.3 43.0 90.0 40.7 88.1 40.9Z" fill="#2f4a1c"/>
<path d="M103.8 42.3C102.6 42.7 103.1 44.4 103.9 45.9C104.7 44.3 105.0 42.6 103.8 42.3Z" fill="#3a621c"/>
<path d="M103.8 34.2C101.6 34.3 101.6 37.1 102.4 39.7C104.4 37.8 105.7 35.3 103.8 34.2Z" fill="#4b7a22"/>
<path d="M112.5 33.3C112.1 31.7 110.1 32.2 108.4 33.3C110.2 34.4 112.1 34.9 112.5 33.3Z" fill="#1f3014"/>
<path d="M85.9 45.7C87.3 47.0 89.0 45.2 90.1 43.1C87.6 43.1 85.3 43.8 85.9 45.7Z" fill="#44701f"/>
<path d="M81.4 32.8C80.7 31.8 79.0 32.6 77.6 33.7C79.4 34.1 81.3 34.0 81.4 32.8Z" fill="#34521f"/>
<path d="M77.5 33.4C76.4 33.7 76.6 35.4 77.3 36.9C78.2 35.5 78.6 33.8 77.5 33.4Z" fill="#40702a"/>
<path d="M99.9 37.1C98.3 37.5 98.7 39.6 99.7 41.4C100.8 39.6 101.4 37.6 99.9 37.1Z" fill="#6eae42"/>
<path d="M84.4 36.6C83.9 34.9 81.9 35.6 80.1 36.8C82.0 37.9 84.0 38.3 84.4 36.6Z" fill="#5a9439"/>
<path d="M100.7 39.3C98.8 38.8 98.0 41.3 98.0 43.9C100.3 42.7 102.2 40.8 100.7 39.3Z" fill="#4b8232"/>
<path d="M74.7 33.4C72.4 32.9 71.6 35.8 71.7 38.7C74.3 37.3 76.4 35.1 74.7 33.4Z" fill="#1f3014"/>
<path d="M95.6 35.3C95.8 32.8 92.9 32.7 90.1 33.5C92.0 35.8 94.3 37.4 95.6 35.3Z" fill="#4b7a22"/>
<path d="M97.2 40.7C97.1 39.3 95.4 39.3 93.7 39.9C95.0 41.1 96.6 41.9 97.2 40.7Z" fill="#44701f"/>
<path d="M110.2 43.9C110.2 45.5 112.7 45.6 114.9 45.2C113.2 43.6 111.1 42.5 110.2 43.9Z" fill="#44701f"/>
<path d="M75.5 45.0C76.7 46.7 78.5 45.3 79.8 43.3C77.4 42.7 75.1 43.0 75.5 45.0Z" fill="#2f5218"/>
<path d="M86.1 39.8C84.0 39.2 83.3 41.7 83.4 44.3C85.8 43.2 87.7 41.4 86.1 39.8Z" fill="#538c36"/>
<path d="M105.3 41.7C103.4 41.7 103.3 44.4 103.9 46.8C105.7 45.0 107.0 42.7 105.3 41.7Z" fill="#2f4a1c"/>
<path d="M84.8 42.3C86.1 43.5 87.6 41.9 88.5 39.9C86.3 39.9 84.3 40.6 84.8 42.3Z" fill="#2f5218"/>
<path d="M81.2 39.6C79.3 39.7 79.5 41.8 80.4 43.8C82.0 42.2 82.9 40.4 81.2 39.6Z" fill="#2c4a14"/>
<path d="M108.7 36.8C108.9 38.0 110.4 37.8 111.7 37.2C110.5 36.3 109.1 35.8 108.7 36.8Z" fill="#34521f"/>
<path d="M87.6 36.5C86.7 35.3 85.4 36.4 84.3 37.8C86.1 38.1 87.8 37.8 87.6 36.5Z" fill="#4b7a22"/>
<path d="M98.9 39.8C99.2 38.4 97.2 37.6 95.0 37.4C96.1 39.2 97.7 40.8 98.9 39.8Z" fill="#2c4a14"/>
<path d="M94.3 43.7C95.9 45.3 97.8 43.4 98.9 40.9C96.2 40.8 93.7 41.6 94.3 43.7Z" fill="#2f5218"/>
<path d="M78.8 41.8C79.7 43.0 81.0 41.8 82.0 40.3C80.2 40.1 78.5 40.4 78.8 41.8Z" fill="#3a621c"/>
<path d="M81.6 33.9C80.7 34.7 81.8 36.0 83.1 36.9C83.1 35.3 82.7 33.7 81.6 33.9Z" fill="#40702a"/>
<path d="M74.1 40.2C74.6 41.8 76.8 41.2 78.7 40.0C76.8 39.0 74.5 38.5 74.1 40.2Z" fill="#44782e"/>
<path d="M86.9 40.3C85.4 41.7 87.2 43.9 89.5 45.4C89.6 42.7 88.9 40.0 86.9 40.3Z" fill="#44782e"/>
<path d="M109.6 31.6C108.2 31.6 108.1 33.6 108.5 35.4C109.9 34.1 110.8 32.4 109.6 31.6Z" fill="#223616"/>
<path d="M107.7 35.4C106.2 35.4 106.2 37.3 106.7 39.1C108.1 37.8 109.0 36.2 107.7 35.4Z" fill="#4b7a22"/>
<path d="M106.0 39.0C105.5 41.6 108.3 42.0 111.3 41.4C109.7 38.8 107.5 36.9 106.0 39.0Z" fill="#223616"/>
<path d="M93.6 32.0C92.1 33.0 93.2 35.4 94.9 37.3C95.5 34.8 95.4 32.1 93.6 32.0Z" fill="#2f4a1c"/>
<path d="M92.2 44.4C92.1 42.3 89.1 42.2 86.3 43.0C88.4 45.0 91.1 46.3 92.2 44.4Z" fill="#34521f"/>
<path d="M96.1 40.5C94.7 40.9 95.2 42.5 96.2 43.9C97.1 42.4 97.4 40.7 96.1 40.5Z" fill="#2f5218"/>
<path d="M91.3 44.4C90.7 42.6 88.1 43.3 85.8 44.6C88.1 45.7 90.8 46.2 91.3 44.4Z" fill="#223616"/>
<path d="M77.7 41.7C77.9 43.8 80.6 43.5 83.1 42.4C81.0 40.7 78.5 39.7 77.7 41.7Z" fill="#34521f"/>
<path d="M77.5 31.3C76.0 31.4 75.9 33.5 76.4 35.5C77.8 34.0 78.8 32.1 77.5 31.3Z" fill="#1f3014"/>
<path d="M107.7 35.5C108.7 37.0 110.9 35.7 112.6 34.0C110.2 33.5 107.7 33.7 107.7 35.5Z" fill="#1f3014"/>
<path d="M89.2 32.2C87.7 33.7 89.5 35.3 91.8 36.3C91.8 33.8 91.1 31.5 89.2 32.2Z" fill="#538c36"/>
<path d="M107.0 37.9C107.6 39.6 110.0 38.8 112.0 37.4C109.8 36.4 107.3 36.1 107.0 37.9Z" fill="#44701f"/>
<path d="M81.5 40.3C79.9 41.4 81.3 43.5 83.2 45.0C83.7 42.7 83.4 40.2 81.5 40.3Z" fill="#4b8232"/>
<path d="M93.4 34.7C93.8 33.4 92.2 32.8 90.5 32.8C91.2 34.3 92.3 35.6 93.4 34.7Z" fill="#34521f"/>
<path d="M93.9 42.8C93.2 41.0 91.3 41.9 89.6 43.3C91.6 44.3 93.7 44.7 93.9 42.8Z" fill="#1f3014"/>
<path d="M71.8 36.4C70.5 36.8 71.1 38.4 72.2 39.6C72.9 38.2 73.2 36.5 71.8 36.4Z" fill="#283d19"/>
<path d="M90.8 35.5C89.5 34.3 88.2 35.9 87.4 37.9C89.5 37.9 91.5 37.2 90.8 35.5Z" fill="#283d19"/>
<path d="M75.6 41.5C74.0 42.1 74.7 44.6 76.1 46.8C77.0 44.5 77.4 41.9 75.6 41.5Z" fill="#78b848"/>
<path d="M111.7 36.3C110.6 35.2 109.5 36.5 108.7 38.1C110.5 38.2 112.2 37.7 111.7 36.3Z" fill="#283d19"/>
<path d="M103.9 44.8C104.5 46.0 106.1 45.2 107.4 44.0C105.7 43.4 103.9 43.4 103.9 44.8Z" fill="#3a621c"/>
<path d="M109.6 39.1C108.5 40.4 110.1 41.6 112.0 42.3C111.9 40.3 111.1 38.5 109.6 39.1Z" fill="#34521f"/>
<path d="M93.9 40.7C94.1 39.4 92.2 38.9 90.4 39.0C91.5 40.5 93.0 41.7 93.9 40.7Z" fill="#44701f"/>
<path d="M96.4 45.4C98.0 46.8 100.1 44.8 101.5 42.3C98.7 42.5 95.9 43.4 96.4 45.4Z" fill="#40702a"/>
<path d="M104.7 39.7C105.4 40.6 106.9 39.7 108.1 38.5C106.4 38.2 104.6 38.5 104.7 39.7Z" fill="#4b7a22"/>
<path d="M95.1 45.0C94.4 42.7 91.7 43.7 89.5 45.5C92.0 46.8 94.7 47.4 95.1 45.0Z" fill="#538c36"/>
<path d="M77.5 36.6C77.4 34.9 75.2 34.9 73.1 35.6C74.7 37.2 76.7 38.2 77.5 36.6Z" fill="#1f3014"/>
<path d="M79.3 36.1C78.9 37.5 80.6 37.9 82.3 37.8C81.5 36.3 80.3 35.1 79.3 36.1Z" fill="#4b7a22"/>
<path d="M110.1 34.9C110.4 33.3 108.6 33.0 106.6 33.2C107.6 34.9 109.0 36.1 110.1 34.9Z" fill="#538c36"/>
<path d="M112.1 43.2C111.8 41.7 109.9 42.0 108.1 42.9C109.7 44.0 111.6 44.7 112.1 43.2Z" fill="#1f3014"/>
<path d="M90.7 33.9C90.1 31.9 87.5 32.7 85.4 34.1C87.7 35.4 90.3 36.0 90.7 33.9Z" fill="#223616"/>
<path d="M90.5 36.6C90.5 35.2 88.8 35.3 87.2 35.8C88.4 37.1 89.9 37.8 90.5 36.6Z" fill="#44782e"/>
<path d="M76.5 33.3C78.4 33.5 78.9 30.9 78.6 28.3C76.6 29.9 75.1 32.1 76.5 33.3Z" fill="#68a83c"/>
<path d="M99.3 31.9C101.2 30.1 99.0 27.8 96.2 26.3C96.0 29.5 96.8 32.6 99.3 31.9Z" fill="#283d19"/>
<path d="M101.0 36.8C104.0 37.0 104.1 33.5 103.1 30.1C100.3 32.3 98.5 35.3 101.0 36.8Z" fill="#44701f"/>
<path d="M107.0 26.1C105.6 24.8 103.6 26.7 102.1 28.9C104.8 28.7 107.4 27.9 107.0 26.1Z" fill="#5a9439"/>
<path d="M99.0 30.1C99.9 29.2 98.7 27.8 97.3 26.8C97.3 28.5 97.8 30.3 99.0 30.1Z" fill="#283d19"/>
<path d="M107.8 29.7C106.8 28.3 105.2 29.6 104.0 31.3C106.1 31.7 108.1 31.5 107.8 29.7Z" fill="#538c36"/>
<path d="M75.7 28.7C78.6 29.2 79.1 25.9 78.5 22.4C75.5 24.2 73.3 26.8 75.7 28.7Z" fill="#40702a"/>
<path d="M74.1 35.6C74.6 33.2 71.4 32.5 68.3 32.7C70.0 35.4 72.4 37.5 74.1 35.6Z" fill="#223616"/>
<path d="M96.8 33.5C95.5 31.4 93.2 33.0 91.6 35.3C94.3 36.1 97.1 35.9 96.8 33.5Z" fill="#44701f"/>
<path d="M106.6 24.8C105.1 22.9 102.7 24.7 101.0 27.1C103.9 27.6 106.9 27.2 106.6 24.8Z" fill="#2f5218"/>
<path d="M76.2 26.6C76.0 28.4 78.5 28.9 81.0 28.8C79.4 26.8 77.3 25.3 76.2 26.6Z" fill="#538c36"/>
<path d="M112.2 24.2C111.0 22.9 109.3 24.5 108.1 26.4C110.4 26.4 112.6 25.8 112.2 24.2Z" fill="#44701f"/>
<path d="M106.9 28.5C108.8 29.4 110.2 26.9 110.8 24.3C108.2 25.1 105.9 26.7 106.9 28.5Z" fill="#44701f"/>
<path d="M105.5 32.3C106.8 31.2 105.5 29.7 103.8 28.8C103.6 30.7 103.9 32.6 105.5 32.3Z" fill="#2f5218"/>
<path d="M101.3 26.9C101.0 28.5 103.1 29.2 105.3 29.2C104.2 27.3 102.5 25.8 101.3 26.9Z" fill="#2c4a14"/>
<path d="M101.5 27.1C101.5 29.0 104.3 29.3 107.0 28.9C105.1 27.0 102.6 25.6 101.5 27.1Z" fill="#44782e"/>
<path d="M84.0 31.6C85.8 32.0 86.7 29.5 87.0 26.9C84.8 28.3 82.9 30.2 84.0 31.6Z" fill="#44701f"/>
<path d="M88.5 32.0C88.3 34.9 91.6 34.9 94.8 33.8C92.7 31.2 89.9 29.4 88.5 32.0Z" fill="#80c04e"/>
<path d="M91.2 33.8C93.8 34.7 94.9 31.5 95.0 28.2C91.9 29.6 89.4 31.8 91.2 33.8Z" fill="#2c4a14"/>
<path d="M73.4 33.9C75.9 34.3 76.5 31.2 76.2 28.0C73.6 29.8 71.6 32.3 73.4 33.9Z" fill="#68a83c"/>
<path d="M98.6 31.7C98.9 33.3 100.8 32.8 102.4 31.8C100.8 30.6 99.0 30.0 98.6 31.7Z" fill="#40702a"/>
<path d="M111.6 28.0C112.8 26.6 111.0 24.9 108.7 23.7C109.0 26.2 109.9 28.6 111.6 28.0Z" fill="#4b8232"/>
<path d="M97.5 37.4C99.6 35.3 97.1 32.9 93.8 31.5C93.6 35.0 94.5 38.4 97.5 37.4Z" fill="#538c36"/>
<path d="M100.7 28.5C101.3 26.6 98.6 25.5 95.8 25.2C97.1 27.7 99.1 29.8 100.7 28.5Z" fill="#2f5218"/>
<path d="M102.4 35.8C103.8 36.3 104.8 34.4 105.2 32.2C103.3 33.1 101.6 34.5 102.4 35.8Z" fill="#5a9439"/>
<path d="M105.4 33.3C103.9 31.5 101.7 33.3 100.2 35.8C103.1 36.1 105.9 35.6 105.4 33.3Z" fill="#2f5218"/>
<path d="M107.8 32.9C107.3 35.8 110.6 36.1 113.9 35.5C112.1 32.7 109.5 30.6 107.8 32.9Z" fill="#1f3014"/>
<path d="M93.2 34.0C94.1 32.9 92.6 31.7 90.9 31.0C91.0 32.9 91.8 34.6 93.2 34.0Z" fill="#2f5218"/>
<path d="M100.1 26.8C99.5 29.1 102.4 30.0 105.4 30.0C103.9 27.4 101.8 25.2 100.1 26.8Z" fill="#2c4a14"/>
<path d="M111.6 33.6C111.3 31.8 109.3 32.1 107.5 33.1C109.1 34.5 111.0 35.3 111.6 33.6Z" fill="#5a9439"/>
<path d="M79.7 25.7C80.7 23.8 78.1 22.4 75.3 21.8C76.2 24.5 77.9 26.9 79.7 25.7Z" fill="#44782e"/>
<path d="M109.2 35.9C111.7 36.8 113.1 33.5 113.3 30.1C110.1 31.5 107.5 33.8 109.2 35.9Z" fill="#2f5218"/>
<path d="M99.5 29.5C100.7 27.8 98.5 26.3 96.0 25.5C96.4 28.1 97.7 30.4 99.5 29.5Z" fill="#5a9439"/>
<path d="M86.2 32.0C87.8 29.8 85.0 27.6 81.8 26.3C82.3 29.7 83.7 33.0 86.2 32.0Z" fill="#44782e"/>
<path d="M93.0 27.9C92.3 30.1 95.3 31.2 98.4 31.4C97.0 28.7 94.8 26.3 93.0 27.9Z" fill="#40702a"/>
<path d="M107.9 31.3C110.0 31.2 109.9 28.5 109.1 26.0C107.3 27.9 106.1 30.3 107.9 31.3Z" fill="#80c04e"/>
<path d="M77.9 25.7C76.7 24.4 74.8 26.0 73.5 28.0C75.9 28.1 78.3 27.5 77.9 25.7Z" fill="#64a23c"/>
<path d="M94.8 30.9C95.2 32.7 97.2 32.2 98.9 31.0C97.2 29.7 95.2 29.1 94.8 30.9Z" fill="#44782e"/>
<path d="M79.5 29.3C81.1 30.3 82.3 28.3 82.9 26.0C80.6 26.5 78.6 27.6 79.5 29.3Z" fill="#78b848"/>
<path d="M72.2 31.9C71.9 33.1 73.7 33.7 75.5 33.9C74.6 32.3 73.2 31.0 72.2 31.9Z" fill="#6eae42"/>
<path d="M69.3 34.8C70.2 37.1 73.2 36.2 75.9 34.3C73.0 32.9 69.8 32.3 69.3 34.8Z" fill="#64a23c"/>
<path d="M82.8 29.7C84.8 30.3 85.5 27.8 85.4 25.3C83.1 26.4 81.3 28.2 82.8 29.7Z" fill="#538c36"/>
<path d="M85.5 35.2C87.0 34.4 86.0 32.1 84.6 30.3C83.9 32.6 83.8 35.0 85.5 35.2Z" fill="#283d19"/>
<path d="M107.0 30.9C106.4 32.5 108.6 33.4 110.9 33.6C110.0 31.5 108.4 29.7 107.0 30.9Z" fill="#4b7a22"/>
<path d="M84.8 25.9C84.5 28.4 87.9 29.0 91.3 28.6C89.2 26.0 86.4 23.9 84.8 25.9Z" fill="#3a621c"/>
<path d="M83.0 30.4C81.3 28.2 78.8 30.3 77.0 33.1C80.3 33.6 83.5 33.1 83.0 30.4Z" fill="#44782e"/>
<path d="M103.7 35.4C105.0 36.2 106.2 34.4 106.9 32.4C104.8 33.0 103.0 34.1 103.7 35.4Z" fill="#223616"/>
<path d="M81.0 35.6C82.4 34.6 81.1 32.8 79.5 31.4C79.2 33.5 79.4 35.7 81.0 35.6Z" fill="#6eae42"/>
<path d="M96.4 35.1C97.3 33.6 95.4 32.4 93.2 31.8C93.7 34.0 94.8 36.0 96.4 35.1Z" fill="#3a621c"/>
<path d="M73.2 33.2C73.6 35.2 75.7 34.6 77.6 33.3C75.7 32.0 73.6 31.3 73.2 33.2Z" fill="#68a83c"/>
<path d="M111.0 31.7C111.5 29.3 108.2 28.2 104.8 28.0C106.6 31.0 109.1 33.4 111.0 31.7Z" fill="#538c36"/>
<path d="M107.0 30.9C105.7 29.6 103.7 31.2 102.2 33.2C104.7 33.3 107.2 32.7 107.0 30.9Z" fill="#40702a"/>
<path d="M76.6 30.7C78.1 29.9 77.2 28.3 75.8 27.1C75.1 28.8 75.0 30.7 76.6 30.7Z" fill="#6eae42"/>
<path d="M82.7 30.3C84.7 30.5 85.0 28.0 84.6 25.5C82.6 27.1 81.1 29.2 82.7 30.3Z" fill="#538c36"/>
<path d="M81.1 34.1C84.1 35.1 85.1 31.7 84.9 28.1C81.6 29.5 78.9 31.9 81.1 34.1Z" fill="#44782e"/>
<path d="M100.4 29.7C101.0 31.0 103.0 30.3 104.7 29.1C102.7 28.4 100.6 28.3 100.4 29.7Z" fill="#40702a"/>
<path d="M102.3 32.7C102.9 34.7 105.9 34.1 108.5 32.7C105.9 31.3 102.9 30.7 102.3 32.7Z" fill="#40702a"/>
<path d="M96.1 28.1C96.0 26.1 93.7 26.3 91.5 27.2C93.2 28.9 95.3 29.9 96.1 28.1Z" fill="#2f5218"/>
<path d="M109.2 34.8C108.7 32.8 105.9 33.2 103.4 34.4C105.7 35.9 108.4 36.7 109.2 34.8Z" fill="#4b8232"/>
<path d="M73.4 29.5C71.3 27.5 69.2 30.0 68.0 33.1C71.3 33.1 74.4 32.1 73.4 29.5Z" fill="#80c04e"/>
<path d="M80.6 33.4C82.4 34.1 83.3 32.0 83.4 29.7C81.2 30.4 79.4 31.8 80.6 33.4Z" fill="#4b7a22"/>
<path d="M92.4 29.8C93.9 31.3 96.1 29.4 97.7 27.1C94.8 27.0 92.0 27.7 92.4 29.8Z" fill="#3a621c"/>
<path d="M110.6 30.5C110.5 28.7 108.4 28.9 106.4 29.9C108.0 31.4 109.9 32.3 110.6 30.5Z" fill="#5a9439"/>
<path d="M94.1 24.4C93.5 26.4 96.2 27.4 98.9 27.7C97.7 25.2 95.7 23.1 94.1 24.4Z" fill="#2f5218"/>
<path d="M91.4 33.3C91.0 31.2 88.3 31.7 85.9 32.9C88.1 34.5 90.8 35.3 91.4 33.3Z" fill="#4b7a22"/>
<path d="M85.4 33.3C85.9 35.8 89.3 35.3 92.4 33.9C89.6 32.0 86.3 30.9 85.4 33.3Z" fill="#538c36"/>
<path d="M106.5 30.7C108.1 29.5 106.6 27.0 104.6 25.0C104.1 27.8 104.4 30.7 106.5 30.7Z" fill="#4b8232"/>
<path d="M85.7 30.7C85.3 28.6 82.4 28.9 79.7 30.0C82.1 31.7 84.9 32.6 85.7 30.7Z" fill="#44701f"/>
<path d="M101.1 32.6C103.7 33.3 104.6 30.1 104.5 26.7C101.6 28.3 99.2 30.7 101.1 32.6Z" fill="#40702a"/>
<path d="M89.3 26.5C91.1 25.7 90.1 23.6 88.4 21.9C87.5 24.1 87.3 26.4 89.3 26.5Z" fill="#5a9439"/>
<path d="M87.5 32.2C86.1 30.8 84.6 32.5 83.6 34.6C85.9 34.7 88.1 34.1 87.5 32.2Z" fill="#4b7a22"/>
<path d="M82.1 25.6C82.2 27.9 85.5 28.1 88.7 27.3C86.3 25.1 83.3 23.6 82.1 25.6Z" fill="#40702a"/>
<path d="M72.3 37.7C73.9 35.7 71.3 33.5 68.2 32.1C68.6 35.5 69.8 38.6 72.3 37.7Z" fill="#2f5218"/>
<path d="M95.4 38.0C97.5 37.9 97.8 34.7 97.4 31.7C95.2 33.9 93.7 36.7 95.4 38.0Z" fill="#4b7a22"/>
<path d="M108.9 30.0C110.4 28.3 108.3 26.3 105.7 25.0C105.8 27.9 106.7 30.7 108.9 30.0Z" fill="#44701f"/>
<path d="M88.3 33.1C90.6 34.2 91.7 31.4 91.8 28.4C89.0 29.3 86.6 31.1 88.3 33.1Z" fill="#2c4a14"/>
<path d="M93.7 36.6C94.6 34.4 91.9 33.4 89.0 33.3C90.1 35.9 92.0 38.1 93.7 36.6Z" fill="#5a9439"/>
<path d="M87.6 27.4C89.0 27.7 89.7 25.8 89.8 23.8C88.1 24.8 86.7 26.3 87.6 27.4Z" fill="#6eae42"/>
<path d="M112.4 26.5C112.4 24.1 109.8 24.3 107.3 25.3C109.1 27.3 111.4 28.6 112.4 26.5Z" fill="#44782e"/>
<path d="M100.6 27.7C101.6 26.1 99.6 24.7 97.3 24.0C97.8 26.4 98.9 28.5 100.6 27.7Z" fill="#40702a"/>
<path d="M80.6 32.8C81.9 33.3 82.7 31.6 83.0 29.7C81.2 30.5 79.7 31.7 80.6 32.8Z" fill="#44782e"/>
<path d="M81.9 36.0C83.2 37.6 85.2 36.0 86.8 34.0C84.2 33.6 81.6 34.0 81.9 36.0Z" fill="#2f5218"/>
<path d="M95.4 26.9C94.2 25.4 92.5 26.8 91.3 28.8C93.5 29.1 95.8 28.8 95.4 26.9Z" fill="#5a9439"/>
<path d="M80.9 33.0C81.2 31.0 78.6 30.7 76.2 31.1C77.7 33.1 79.7 34.6 80.9 33.0Z" fill="#4b7a22"/>
<path d="M82.8 27.0C83.8 25.1 81.5 24.1 79.0 23.8C79.6 26.3 81.0 28.3 82.8 27.0Z" fill="#2c4a14"/>
<path d="M95.3 34.0C95.8 36.1 98.8 35.5 101.4 34.2C98.8 32.7 96.0 31.9 95.3 34.0Z" fill="#538c36"/>
<path d="M93.7 29.2C95.1 27.5 92.9 25.4 90.3 23.9C90.5 26.9 91.6 29.8 93.7 29.2Z" fill="#538c36"/>
<path d="M96.0 28.5C96.5 26.7 94.0 25.9 91.4 25.7C92.7 28.0 94.6 29.8 96.0 28.5Z" fill="#44782e"/>
<path d="M88.0 36.2C89.8 34.9 88.1 32.3 86.0 30.2C85.5 33.2 85.9 36.2 88.0 36.2Z" fill="#44782e"/>
<path d="M96.0 31.3C96.1 29.6 93.6 29.1 91.1 29.3C92.8 31.2 94.9 32.6 96.0 31.3Z" fill="#4b8232"/>
<path d="M80.7 34.6C82.2 33.3 80.6 31.6 78.6 30.4C78.3 32.8 78.7 35.0 80.7 34.6Z" fill="#5a9439"/>
<path d="M84.0 25.6C83.6 27.3 85.5 27.7 87.5 27.5C86.5 25.7 85.1 24.4 84.0 25.6Z" fill="#4b8232"/>
<path d="M99.8 24.9C98.6 23.4 96.5 24.9 95.0 26.9C97.5 27.2 100.0 26.7 99.8 24.9Z" fill="#44701f"/>
<path d="M93.0 28.1C95.0 26.5 93.0 24.4 90.5 23.0C90.1 25.9 90.6 28.7 93.0 28.1Z" fill="#40702a"/>
<path d="M91.2 29.9C92.7 30.2 93.2 28.2 93.2 26.1C91.4 27.2 90.1 28.9 91.2 29.9Z" fill="#5a9439"/>
<path d="M107.7 24.5C107.3 27.6 110.7 27.8 114.1 26.9C112.1 24.0 109.4 22.0 107.7 24.5Z" fill="#78b848"/>
<path d="M112.2 34.3C114.1 32.1 111.6 30.1 108.5 28.9C108.5 32.2 109.6 35.3 112.2 34.3Z" fill="#44701f"/>
<path d="M99.7 36.5C101.4 35.1 99.7 33.2 97.4 31.8C97.1 34.5 97.6 37.0 99.7 36.5Z" fill="#64a23c"/>
<path d="M92.3 33.8C92.7 35.3 94.7 34.9 96.6 34.0C94.8 32.9 92.8 32.3 92.3 33.8Z" fill="#78b848"/>
<path d="M91.7 28.4C93.5 26.6 91.3 24.4 88.5 23.0C88.4 26.2 89.3 29.2 91.7 28.4Z" fill="#34521f"/>
<path d="M97.2 27.5C96.8 26.1 94.6 26.5 92.7 27.4C94.6 28.4 96.7 29.0 97.2 27.5Z" fill="#538c36"/>
<path d="M80.0 34.9C81.1 36.7 83.1 35.3 84.6 33.4C82.3 32.7 79.8 32.8 80.0 34.9Z" fill="#2c4a14"/>
<path d="M85.0 29.1C86.6 29.3 87.0 27.0 86.7 24.8C85.0 26.2 83.7 28.1 85.0 29.1Z" fill="#40702a"/>
<path d="M111.1 28.5C111.9 27.1 110.2 26.1 108.3 25.6C108.8 27.5 109.7 29.2 111.1 28.5Z" fill="#2f4a1c"/>
<path d="M91.9 29.8C92.4 31.9 94.8 31.2 96.8 29.7C94.7 28.3 92.4 27.7 91.9 29.8Z" fill="#4b8232"/>
<path d="M109.2 30.8C111.2 30.9 111.6 27.9 111.2 25.0C109.1 27.0 107.5 29.5 109.2 30.8Z" fill="#3a621c"/>
<path d="M69.9 32.8C69.4 35.4 72.4 35.7 75.4 35.1C73.7 32.5 71.4 30.7 69.9 32.8Z" fill="#4b8232"/>
<path d="M83.7 27.0C84.5 28.9 86.8 27.9 88.7 26.2C86.4 25.1 83.9 24.9 83.7 27.0Z" fill="#68a83c"/>
<path d="M70.9 30.0C70.8 32.0 73.4 32.3 75.9 31.9C74.2 29.9 72.0 28.5 70.9 30.0Z" fill="#44782e"/>
<path d="M86.3 35.0C87.8 34.9 87.8 32.9 87.2 31.1C85.9 32.5 85.0 34.2 86.3 35.0Z" fill="#80c04e"/>
<path d="M74.0 25.3C73.7 26.6 75.6 27.3 77.6 27.4C76.5 25.7 75.1 24.3 74.0 25.3Z" fill="#2f5218"/>
<path d="M103.3 32.5C105.0 32.7 105.4 30.4 105.2 28.1C103.4 29.5 102.0 31.4 103.3 32.5Z" fill="#1f3014"/>
<path d="M87.7 34.6C89.3 33.3 87.7 31.6 85.5 30.4C85.2 32.8 85.6 35.1 87.7 34.6Z" fill="#2f4a1c"/>
<path d="M92.3 32.4C92.7 29.9 89.5 29.3 86.3 29.7C88.2 32.4 90.8 34.4 92.3 32.4Z" fill="#80c04e"/>
<path d="M86.8 31.4C87.0 29.1 84.3 29.0 81.6 29.7C83.4 31.8 85.6 33.3 86.8 31.4Z" fill="#4b7a22"/>
<path d="M100.7 26.4C102.1 25.6 101.0 23.9 99.5 22.7C99.1 24.6 99.2 26.5 100.7 26.4Z" fill="#2f5218"/>
<path d="M89.5 23.9C88.2 22.6 86.8 24.2 85.9 26.2C88.1 26.3 90.1 25.6 89.5 23.9Z" fill="#44782e"/>
<path d="M75.3 29.8C76.3 31.3 78.6 30.0 80.3 28.3C77.9 27.8 75.3 28.0 75.3 29.8Z" fill="#538c36"/>
<path d="M98.8 33.4C100.8 34.6 102.8 31.9 104.0 28.8C100.8 29.6 97.8 31.2 98.8 33.4Z" fill="#78b848"/>
<path d="M98.7 31.2C98.7 33.1 101.6 33.4 104.2 32.9C102.3 31.0 99.8 29.6 98.7 31.2Z" fill="#80c04e"/>
<path d="M75.5 26.9C77.4 25.8 76.1 23.6 74.1 22.0C73.3 24.4 73.3 27.0 75.5 26.9Z" fill="#4b8232"/>
<path d="M89.8 30.4C90.4 27.5 87.1 27.0 83.8 27.7C85.5 30.6 88.0 32.7 89.8 30.4Z" fill="#538c36"/>
<path d="M77.5 30.2C78.6 29.3 77.6 27.7 76.2 26.5C75.9 28.3 76.1 30.2 77.5 30.2Z" fill="#44782e"/>
<path d="M88.8 31.2C91.3 31.5 91.6 28.6 90.9 25.7C88.5 27.4 86.7 29.8 88.8 31.2Z" fill="#538c36"/>
<path d="M97.3 34.7C99.4 33.0 97.3 30.2 94.5 28.2C94.0 31.6 94.5 35.1 97.3 34.7Z" fill="#78b848"/>
<path d="M113.8 35.2C114.1 33.7 111.9 33.0 109.7 32.9C110.9 34.8 112.6 36.3 113.8 35.2Z" fill="#44782e"/>
<path d="M99.7 34.8C99.5 33.4 97.7 33.6 96.0 34.2C97.4 35.4 99.1 36.1 99.7 34.8Z" fill="#34521f"/>
<path d="M98.0 33.7C100.1 31.8 97.7 29.1 94.7 27.3C94.5 30.8 95.4 34.3 98.0 33.7Z" fill="#2c4a14"/>
<path d="M96.2 34.2C97.6 33.0 96.1 31.2 94.2 30.0C93.9 32.3 94.4 34.5 96.2 34.2Z" fill="#5a9439"/>
<path d="M94.4 34.0C95.7 35.1 97.3 33.4 98.2 31.4C96.0 31.6 93.9 32.4 94.4 34.0Z" fill="#40702a"/>
<path d="M149.5 42.1C150.2 40.2 147.8 39.4 145.4 39.2C146.4 41.5 148.0 43.3 149.5 42.1Z" fill="#538c36"/>
<path d="M141.7 40.1C141.9 38.7 140.2 38.4 138.4 38.7C139.4 40.1 140.8 41.2 141.7 40.1Z" fill="#44701f"/>
<path d="M116.4 46.4C117.4 47.4 118.7 46.2 119.6 44.6C117.7 44.5 116.0 44.9 116.4 46.4Z" fill="#5a9439"/>
<path d="M132.0 36.3C131.0 36.1 130.6 37.5 130.5 39.0C131.7 38.2 132.7 37.1 132.0 36.3Z" fill="#1f3014"/>
<path d="M134.8 37.9C133.5 36.5 131.8 38.1 130.6 40.1C132.9 40.3 135.2 39.8 134.8 37.9Z" fill="#4b8232"/>
<path d="M124.9 40.6C124.8 41.7 126.5 42.0 128.0 41.8C127.0 40.6 125.6 39.7 124.9 40.6Z" fill="#2f5218"/>
<path d="M119.7 40.6C118.9 41.3 119.9 42.4 121.1 43.1C121.2 41.7 120.8 40.3 119.7 40.6Z" fill="#2f5218"/>
<path d="M127.3 39.0C127.8 40.8 130.0 40.2 132.0 39.0C130.0 37.8 127.8 37.2 127.3 39.0Z" fill="#4b7a22"/>
<path d="M136.5 37.0C136.8 35.6 135.2 35.2 133.4 35.3C134.3 36.8 135.5 38.0 136.5 37.0Z" fill="#40702a"/>
<path d="M122.3 42.2C123.2 43.8 124.9 42.7 126.2 41.0C124.2 40.4 122.2 40.5 122.3 42.2Z" fill="#3a621c"/>
<path d="M141.5 39.4C140.4 39.2 140.2 40.7 140.3 42.2C141.5 41.3 142.4 40.1 141.5 39.4Z" fill="#4b7a22"/>
<path d="M139.8 36.5C138.7 34.9 136.5 36.2 134.7 38.1C137.2 38.7 139.8 38.5 139.8 36.5Z" fill="#283d19"/>
<path d="M158.0 35.4C157.2 33.5 154.7 34.5 152.7 36.2C155.1 37.3 157.8 37.6 158.0 35.4Z" fill="#3a621c"/>
<path d="M138.4 34.0C137.9 32.5 135.8 33.0 134.0 34.1C135.9 35.1 138.0 35.5 138.4 34.0Z" fill="#2f4a1c"/>
<path d="M146.9 36.4C145.7 37.6 147.3 39.3 149.3 40.4C149.3 38.1 148.6 35.9 146.9 36.4Z" fill="#223616"/>
<path d="M137.6 42.1C135.7 41.9 135.6 44.0 136.2 46.2C138.0 44.9 139.2 43.1 137.6 42.1Z" fill="#4b7a22"/>
<path d="M148.3 44.0C147.4 45.1 148.9 46.4 150.6 47.2C150.4 45.3 149.7 43.5 148.3 44.0Z" fill="#2f4a1c"/>
<path d="M140.8 34.2C141.3 35.5 142.8 34.9 144.1 33.8C142.6 33.1 141.0 32.9 140.8 34.2Z" fill="#40702a"/>
<path d="M156.0 33.0C154.2 33.4 154.8 35.5 155.9 37.3C157.1 35.5 157.7 33.4 156.0 33.0Z" fill="#40702a"/>
<path d="M129.1 45.8C129.7 44.1 127.8 43.5 125.7 43.5C126.5 45.4 127.7 47.0 129.1 45.8Z" fill="#4b8232"/>
<path d="M139.3 44.5C139.2 45.6 140.7 46.0 142.2 45.9C141.3 44.7 140.1 43.7 139.3 44.5Z" fill="#538c36"/>
<path d="M121.3 32.5C120.1 33.5 121.4 35.1 123.1 36.1C123.3 34.2 122.8 32.2 121.3 32.5Z" fill="#2f4a1c"/>
<path d="M145.8 43.7C144.4 44.7 145.7 46.7 147.4 48.2C147.7 45.9 147.5 43.7 145.8 43.7Z" fill="#44701f"/>
<path d="M125.2 35.1C124.8 33.2 122.6 33.8 120.7 35.0C122.6 36.4 124.7 37.0 125.2 35.1Z" fill="#1f3014"/>
<path d="M115.6 45.4C116.4 47.2 118.6 46.1 120.3 44.5C118.1 43.5 115.7 43.4 115.6 45.4Z" fill="#3a621c"/>
<path d="M137.4 46.8C137.9 47.6 139.2 47.0 140.2 46.1C138.9 45.8 137.5 45.8 137.4 46.8Z" fill="#2f5218"/>
<path d="M150.5 34.6C150.7 36.0 152.3 35.7 153.7 34.9C152.4 33.9 151.0 33.3 150.5 34.6Z" fill="#5a9439"/>
<path d="M151.8 34.7C151.5 36.3 153.7 36.7 155.8 36.5C154.5 34.8 152.8 33.4 151.8 34.7Z" fill="#4b8232"/>
<path d="M128.6 37.8C129.1 35.4 126.4 35.0 123.7 35.5C125.1 37.9 127.2 39.7 128.6 37.8Z" fill="#4b8232"/>
<path d="M123.2 38.0C123.6 36.7 121.8 36.0 119.9 35.7C120.8 37.4 122.2 38.8 123.2 38.0Z" fill="#34521f"/>
<path d="M140.4 35.8C140.8 33.8 138.3 33.3 135.8 33.6C137.2 35.7 139.2 37.3 140.4 35.8Z" fill="#3a621c"/>
<path d="M144.9 38.8C145.3 39.8 146.8 39.3 148.1 38.4C146.7 37.8 145.1 37.6 144.9 38.8Z" fill="#4b7a22"/>
<path d="M149.5 43.9C149.5 45.2 151.4 45.3 153.3 44.9C151.9 43.6 150.2 42.7 149.5 43.9Z" fill="#283d19"/>
<path d="M129.1 38.4C129.2 39.9 130.8 39.8 132.4 39.1C131.2 37.9 129.8 37.1 129.1 38.4Z" fill="#283d19"/>
<path d="M118.9 40.2C118.0 39.3 116.6 40.5 115.7 42.0C117.4 42.0 119.2 41.4 118.9 40.2Z" fill="#2f4a1c"/>
<path d="M118.7 38.0C118.2 36.8 116.8 37.6 115.8 38.7C117.2 39.3 118.7 39.4 118.7 38.0Z" fill="#223616"/>
<path d="M128.8 42.2C128.2 42.9 129.2 43.9 130.5 44.6C130.3 43.2 129.8 41.9 128.8 42.2Z" fill="#3a621c"/>
<path d="M136.7 39.6C137.4 40.5 138.6 39.6 139.5 38.5C138.1 38.3 136.6 38.6 136.7 39.6Z" fill="#80c04e"/>
<path d="M121.2 43.0C119.1 42.9 119.3 45.2 120.1 47.3C121.9 45.8 123.0 43.8 121.2 43.0Z" fill="#34521f"/>
<path d="M139.5 35.5C139.3 33.3 136.7 33.7 134.4 34.8C136.3 36.5 138.7 37.5 139.5 35.5Z" fill="#2f5218"/>
<path d="M150.6 40.9C149.4 39.6 147.6 41.0 146.4 42.9C148.6 43.1 150.9 42.6 150.6 40.9Z" fill="#40702a"/>
<path d="M135.6 41.7C135.6 40.5 134.1 40.4 132.6 40.8C133.6 41.9 134.9 42.6 135.6 41.7Z" fill="#4b7a22"/>
<path d="M119.1 43.6C118.1 44.7 119.5 46.2 121.2 47.3C121.2 45.3 120.5 43.3 119.1 43.6Z" fill="#538c36"/>
<path d="M134.3 39.0C134.4 41.1 137.0 41.0 139.5 40.2C137.6 38.3 135.3 37.1 134.3 39.0Z" fill="#44782e"/>
<path d="M158.3 35.3C157.6 34.2 156.1 35.0 154.8 36.1C156.4 36.5 158.2 36.5 158.3 35.3Z" fill="#2f5218"/>
<path d="M120.0 39.9C120.7 41.3 122.3 40.4 123.6 39.0C121.9 38.4 120.0 38.3 120.0 39.9Z" fill="#2f4a1c"/>
<path d="M144.5 43.9C145.1 42.3 143.0 41.6 140.9 41.6C141.8 43.5 143.3 45.1 144.5 43.9Z" fill="#2f5218"/>
<path d="M143.8 35.8C145.1 37.4 146.9 35.9 148.1 33.8C145.7 33.3 143.4 33.7 143.8 35.8Z" fill="#44701f"/>
<path d="M132.6 34.2C131.7 33.2 130.6 34.3 129.9 35.7C131.5 35.9 133.0 35.5 132.6 34.2Z" fill="#283d19"/>
<path d="M134.8 45.0C134.3 44.1 133.1 44.7 132.0 45.7C133.3 46.0 134.8 46.0 134.8 45.0Z" fill="#4b7a22"/>
<path d="M147.0 33.1C145.4 33.9 146.3 35.8 147.8 37.3C148.6 35.3 148.7 33.2 147.0 33.1Z" fill="#3a621c"/>
<path d="M131.9 41.1C131.5 39.5 129.4 39.9 127.5 40.9C129.3 42.1 131.4 42.7 131.9 41.1Z" fill="#5a9439"/>
<path d="M142.4 35.5C141.4 35.4 141.2 36.9 141.3 38.3C142.3 37.4 143.2 36.1 142.4 35.5Z" fill="#44701f"/>
<path d="M143.4 35.9C143.6 34.4 141.8 34.0 139.9 34.3C140.9 35.8 142.4 37.0 143.4 35.9Z" fill="#34521f"/>
<path d="M144.3 41.4C143.3 39.8 141.5 41.1 140.2 43.0C142.4 43.5 144.6 43.4 144.3 41.4Z" fill="#223616"/>
<path d="M142.5 40.0C141.0 40.8 142.0 43.2 143.5 45.1C144.2 42.7 144.3 40.2 142.5 40.0Z" fill="#2f4a1c"/>
<path d="M117.0 38.2C115.5 39.7 117.4 41.6 119.7 42.8C119.7 40.2 119.0 37.7 117.0 38.2Z" fill="#2c4a14"/>
<path d="M129.7 44.5C129.1 42.3 126.7 43.0 124.5 44.5C126.7 46.0 129.2 46.7 129.7 44.5Z" fill="#80c04e"/>
<path d="M142.4 44.2C143.3 45.0 144.4 43.8 145.1 42.4C143.5 42.4 142.0 43.0 142.4 44.2Z" fill="#2f5218"/>
<path d="M129.3 40.7C130.1 41.5 131.4 40.5 132.3 39.2C130.7 39.2 129.2 39.6 129.3 40.7Z" fill="#2f5218"/>
<path d="M153.5 35.0C153.9 33.7 152.4 33.3 150.8 33.4C151.5 34.8 152.6 35.9 153.5 35.0Z" fill="#34521f"/>
<path d="M154.2 42.6C152.1 43.4 153.0 45.8 154.8 47.9C156.0 45.5 156.4 42.9 154.2 42.6Z" fill="#68a83c"/>
<path d="M138.0 33.8C137.9 35.5 139.9 35.5 141.8 34.8C140.5 33.3 138.8 32.3 138.0 33.8Z" fill="#2f5218"/>
<path d="M134.1 33.7C133.3 34.3 134.2 35.5 135.3 36.4C135.3 35.0 135.1 33.6 134.1 33.7Z" fill="#2f5218"/>
<path d="M154.5 34.1C153.3 33.5 152.6 35.1 152.3 36.8C153.9 36.2 155.3 35.1 154.5 34.1Z" fill="#4b7a22"/>
<path d="M142.9 33.4C142.3 35.2 144.8 36.1 147.4 36.3C146.2 34.0 144.4 32.1 142.9 33.4Z" fill="#2f4a1c"/>
<path d="M122.7 33.9C121.3 35.0 122.6 36.7 124.4 38.0C124.8 35.8 124.5 33.6 122.7 33.9Z" fill="#44782e"/>
<path d="M132.2 40.3C132.3 41.6 134.2 41.5 136.0 41.0C134.5 39.9 132.8 39.2 132.2 40.3Z" fill="#34521f"/>
<path d="M119.7 44.8C119.2 43.8 118.0 44.4 117.0 45.4C118.3 45.9 119.7 46.0 119.7 44.8Z" fill="#5a9439"/>
<path d="M148.3 41.2C149.4 42.3 151.3 41.0 152.8 39.2C150.5 39.1 148.2 39.6 148.3 41.2Z" fill="#223616"/>
<path d="M129.3 29.1C130.6 31.3 133.1 29.7 134.9 27.3C132.0 26.5 129.1 26.6 129.3 29.1Z" fill="#34521f"/>
<path d="M136.4 29.5C136.0 27.5 133.6 28.1 131.5 29.4C133.5 30.8 135.9 31.5 136.4 29.5Z" fill="#2f5218"/>
<path d="M130.0 36.0C130.0 34.1 127.8 34.2 125.7 35.0C127.2 36.7 129.1 37.8 130.0 36.0Z" fill="#4b8232"/>
<path d="M135.6 34.6C136.9 33.2 135.0 31.1 132.7 29.7C132.8 32.4 133.6 35.1 135.6 34.6Z" fill="#3a621c"/>
<path d="M150.5 33.2C151.8 33.5 152.3 31.8 152.2 30.0C150.7 31.0 149.5 32.3 150.5 33.2Z" fill="#4b8232"/>
<path d="M128.1 31.6C127.7 33.8 130.3 34.2 132.9 33.7C131.5 31.4 129.5 29.7 128.1 31.6Z" fill="#223616"/>
<path d="M140.3 34.7C140.2 33.2 138.4 33.3 136.8 34.0C138.1 35.3 139.7 36.0 140.3 34.7Z" fill="#223616"/>
<path d="M126.8 30.1C127.5 28.5 125.3 27.3 123.0 26.8C123.8 29.1 125.3 31.1 126.8 30.1Z" fill="#5a9439"/>
<path d="M138.4 34.0C140.4 35.1 141.4 32.7 141.6 30.1C139.1 30.8 137.0 32.2 138.4 34.0Z" fill="#4b8232"/>
<path d="M133.4 28.7C132.7 27.1 130.1 28.0 128.0 29.4C130.4 30.3 133.1 30.5 133.4 28.7Z" fill="#2f4a1c"/>
<path d="M153.5 32.2C153.1 29.5 150.0 30.0 147.2 31.5C149.6 33.6 152.6 34.7 153.5 32.2Z" fill="#40702a"/>
<path d="M132.0 35.0C133.6 34.1 132.5 32.2 130.8 30.6C130.1 32.8 130.1 35.0 132.0 35.0Z" fill="#2f5218"/>
<path d="M145.1 35.0C146.5 35.1 146.5 33.3 146.1 31.7C144.8 32.8 143.9 34.3 145.1 35.0Z" fill="#2c4a14"/>
<path d="M142.2 34.2C141.4 32.2 139.0 33.2 137.0 34.9C139.4 36.0 142.0 36.3 142.2 34.2Z" fill="#34521f"/>
<path d="M155.4 34.5C154.4 33.3 153.2 34.5 152.3 36.0C154.0 36.2 155.7 36.0 155.4 34.5Z" fill="#34521f"/>
<path d="M126.6 37.1C128.0 37.6 128.6 35.8 128.7 34.0C127.0 34.8 125.6 36.1 126.6 37.1Z" fill="#44782e"/>
<path d="M138.1 27.0C138.0 25.9 136.3 26.0 134.8 26.5C136.1 27.4 137.7 28.0 138.1 27.0Z" fill="#44701f"/>
<path d="M148.6 33.6C150.0 33.7 150.2 31.9 149.9 30.1C148.5 31.3 147.4 32.8 148.6 33.6Z" fill="#34521f"/>
<path d="M121.0 34.6C122.1 33.1 120.4 31.9 118.2 31.4C118.5 33.5 119.3 35.5 121.0 34.6Z" fill="#2f5218"/>
<path d="M129.2 27.9C131.2 29.2 132.6 26.7 133.1 24.0C130.3 24.5 127.9 25.9 129.2 27.9Z" fill="#5a9439"/>
<path d="M154.5 32.3C155.4 31.6 154.6 30.0 153.4 28.8C153.1 30.5 153.3 32.3 154.5 32.3Z" fill="#4b7a22"/>
<path d="M126.5 31.4C127.2 33.0 129.6 32.2 131.7 30.9C129.4 30.0 126.9 29.7 126.5 31.4Z" fill="#64a23c"/>
<path d="M140.9 28.7C140.4 31.0 143.4 31.6 146.5 31.4C144.8 28.8 142.4 26.8 140.9 28.7Z" fill="#538c36"/>
<path d="M149.8 32.5C150.3 30.4 147.7 29.8 145.0 29.9C146.4 32.2 148.4 34.0 149.8 32.5Z" fill="#4b7a22"/>
<path d="M117.6 34.7C119.2 35.0 119.6 33.0 119.5 31.0C117.8 32.0 116.4 33.6 117.6 34.7Z" fill="#2c4a14"/>
<path d="M124.3 28.0C124.2 29.7 126.5 29.9 128.7 29.4C127.2 27.7 125.3 26.5 124.3 28.0Z" fill="#80c04e"/>
<path d="M121.0 32.8C120.1 31.2 117.8 32.3 116.0 34.0C118.4 34.7 120.9 34.7 121.0 32.8Z" fill="#2f5218"/>
<path d="M132.3 36.0C133.1 35.0 131.6 33.8 130.0 33.1C130.3 34.8 131.1 36.5 132.3 36.0Z" fill="#5a9439"/>
<path d="M146.1 30.7C145.3 29.1 143.5 30.2 142.2 31.8C144.2 32.5 146.2 32.5 146.1 30.7Z" fill="#2f5218"/>
<path d="M153.0 29.8C153.9 28.8 152.7 27.7 151.2 27.1C151.3 28.7 151.8 30.2 153.0 29.8Z" fill="#40702a"/>
<path d="M153.7 31.0C153.9 28.6 150.9 28.3 148.0 29.0C149.9 31.2 152.4 32.9 153.7 31.0Z" fill="#40702a"/>
<path d="M116.3 33.6C117.6 33.8 118.1 32.1 118.0 30.4C116.5 31.3 115.4 32.7 116.3 33.6Z" fill="#2f5218"/>
<path d="M138.7 33.0C140.4 33.2 140.6 31.0 140.3 28.9C138.6 30.3 137.4 32.0 138.7 33.0Z" fill="#40702a"/>
<path d="M118.7 34.8C119.0 36.3 121.1 35.9 122.9 35.1C121.2 34.0 119.2 33.4 118.7 34.8Z" fill="#3a621c"/>
<path d="M141.9 29.6C142.4 31.4 144.9 30.9 147.2 29.6C145.0 28.3 142.5 27.7 141.9 29.6Z" fill="#4b7a22"/>
<path d="M121.1 29.1C122.2 28.3 121.1 27.0 119.7 26.0C119.5 27.7 119.8 29.4 121.1 29.1Z" fill="#44782e"/>
<path d="M126.0 28.9C125.8 30.3 127.4 30.5 129.0 30.2C128.0 28.8 126.8 27.9 126.0 28.9Z" fill="#4b8232"/>
<path d="M151.1 31.5C152.7 33.5 155.0 31.6 156.6 29.0C153.6 28.5 150.7 29.0 151.1 31.5Z" fill="#6eae42"/>
<path d="M122.1 34.6C122.8 36.0 125.1 35.2 127.0 33.9C124.8 33.2 122.4 33.0 122.1 34.6Z" fill="#34521f"/>
<path d="M129.6 34.4C130.7 32.5 128.3 31.0 125.6 30.4C126.2 33.1 127.6 35.5 129.6 34.4Z" fill="#538c36"/>
<path d="M136.0 25.0C135.1 23.3 132.7 24.3 130.8 25.9C133.1 26.8 135.7 26.9 136.0 25.0Z" fill="#2f5218"/>
<path d="M137.5 24.5C135.8 22.9 133.7 25.0 132.2 27.6C135.1 27.6 138.0 26.6 137.5 24.5Z" fill="#3a621c"/>
<path d="M136.4 32.3C137.5 31.5 136.4 29.9 135.1 28.6C134.8 30.5 135.1 32.4 136.4 32.3Z" fill="#538c36"/>
<path d="M150.2 34.3C152.2 32.7 150.2 30.4 147.6 28.9C147.2 31.9 147.7 34.9 150.2 34.3Z" fill="#223616"/>
<path d="M158.9 30.7C158.9 28.5 156.3 28.6 153.8 29.5C155.6 31.5 157.9 32.7 158.9 30.7Z" fill="#538c36"/>
<path d="M145.5 36.0C147.8 36.6 148.5 33.7 148.4 30.8C145.8 32.3 143.8 34.5 145.5 36.0Z" fill="#78b848"/>
<path d="M126.9 29.3C128.0 27.6 125.8 26.0 123.3 25.1C123.9 27.7 125.1 30.1 126.9 29.3Z" fill="#2c4a14"/>
<path d="M121.8 36.9C123.6 35.5 121.9 33.3 119.6 31.8C119.1 34.5 119.5 37.2 121.8 36.9Z" fill="#4b7a22"/>
<path d="M146.8 33.9C147.9 32.0 145.6 30.5 142.9 29.7C143.5 32.4 144.9 34.9 146.8 33.9Z" fill="#1f3014"/>
<path d="M127.0 31.0C127.4 33.3 130.3 32.8 132.9 31.5C130.6 29.8 127.8 28.8 127.0 31.0Z" fill="#44782e"/>
<path d="M146.0 34.2C145.1 33.4 143.8 34.7 142.9 36.3C144.7 36.1 146.4 35.4 146.0 34.2Z" fill="#44782e"/>
<path d="M138.2 30.9C137.4 29.3 135.3 30.2 133.6 31.8C135.7 32.6 138.1 32.8 138.2 30.9Z" fill="#2f4a1c"/>
<path d="M156.5 36.2C156.9 34.6 154.7 34.1 152.5 34.2C153.7 36.0 155.4 37.4 156.5 36.2Z" fill="#223616"/>
<path d="M125.2 34.3C125.9 33.1 124.1 31.8 122.2 31.1C122.8 33.1 123.9 34.9 125.2 34.3Z" fill="#2f4a1c"/>
<path d="M149.3 27.4C148.1 25.7 145.6 27.1 143.7 29.2C146.5 29.7 149.3 29.5 149.3 27.4Z" fill="#80c04e"/>
<path d="M117.9 34.4C118.9 33.6 117.9 32.2 116.6 31.0C116.3 32.8 116.5 34.5 117.9 34.4Z" fill="#538c36"/>
<path d="M128.9 25.5C129.4 27.3 131.9 26.7 134.1 25.5C131.9 24.3 129.4 23.7 128.9 25.5Z" fill="#40702a"/>
<path d="M136.8 35.6C136.5 34.0 134.5 34.3 132.6 35.3C134.3 36.5 136.3 37.1 136.8 35.6Z" fill="#4b8232"/>
<path d="M137.1 31.5C138.5 32.1 139.1 30.4 139.0 28.5C137.3 29.2 136.0 30.4 137.1 31.5Z" fill="#2c4a14"/>
<path d="M122.4 28.2C121.4 27.0 119.7 28.4 118.5 30.1C120.6 30.3 122.7 29.8 122.4 28.2Z" fill="#44701f"/>
<path d="M127.8 25.6C129.0 27.3 131.4 25.9 133.3 23.9C130.6 23.4 127.8 23.6 127.8 25.6Z" fill="#44782e"/>
<path d="M133.4 26.0C134.4 24.2 132.3 23.2 130.0 22.8C130.5 25.1 131.8 27.1 133.4 26.0Z" fill="#44701f"/>
<path d="M124.3 35.3C123.4 34.0 121.5 35.2 120.1 36.7C122.2 37.0 124.3 36.8 124.3 35.3Z" fill="#3a621c"/>
<path d="M127.3 33.5C128.1 34.7 129.7 33.7 131.0 32.3C129.2 31.9 127.3 32.0 127.3 33.5Z" fill="#5a9439"/>
<path d="M134.3 29.1C133.3 27.7 131.7 28.9 130.5 30.5C132.5 30.9 134.5 30.7 134.3 29.1Z" fill="#3a621c"/>
<path d="M128.5 25.6C129.4 27.5 131.6 26.3 133.3 24.4C130.9 23.5 128.5 23.4 128.5 25.6Z" fill="#538c36"/>
<path d="M142.1 28.7C141.7 27.2 139.6 27.6 137.8 28.6C139.6 29.6 141.6 30.2 142.1 28.7Z" fill="#2c4a14"/>
<path d="M121.5 29.3C122.3 30.4 123.7 29.3 124.8 27.9C123.0 27.6 121.3 27.9 121.5 29.3Z" fill="#40702a"/>
<path d="M120.2 33.1C121.4 33.5 122.1 31.9 122.3 30.1C120.7 30.9 119.4 32.1 120.2 33.1Z" fill="#68a83c"/>
<path d="M137.1 31.2C137.3 32.4 139.1 32.3 140.7 31.8C139.3 30.8 137.7 30.1 137.1 31.2Z" fill="#2c4a14"/>
<path d="M149.7 31.6C149.8 32.8 151.4 32.7 152.9 32.2C151.7 31.2 150.2 30.5 149.7 31.6Z" fill="#4b7a22"/>
<path d="M153.9 30.4C154.7 29.1 153.1 28.3 151.4 28.1C151.8 29.8 152.7 31.2 153.9 30.4Z" fill="#538c36"/>
<path d="M130.2 33.6C128.7 32.4 126.7 34.5 125.4 36.9C128.1 36.6 130.7 35.5 130.2 33.6Z" fill="#4b8232"/>
<path d="M116.9 36.1C117.6 37.6 119.3 36.8 120.7 35.4C119.0 34.7 117.0 34.5 116.9 36.1Z" fill="#40702a"/>
<path d="M142.3 32.8C144.7 33.8 145.8 30.8 145.9 27.6C142.9 28.8 140.5 30.8 142.3 32.8Z" fill="#538c36"/>
<path d="M134.3 30.4C134.0 31.8 135.6 32.0 137.2 31.8C136.4 30.3 135.2 29.3 134.3 30.4Z" fill="#4b8232"/>
<path d="M123.9 29.9C125.0 28.3 122.9 26.4 120.5 25.1C120.9 27.8 122.1 30.5 123.9 29.9Z" fill="#44701f"/>
<path d="M142.7 31.9C143.7 32.8 144.9 31.5 145.7 29.9C143.9 30.0 142.3 30.6 142.7 31.9Z" fill="#64a23c"/>
<path d="M145.5 34.3C144.6 36.8 147.5 37.6 150.5 37.5C149.3 34.8 147.3 32.5 145.5 34.3Z" fill="#80c04e"/>
<path d="M146.4 34.8C145.4 33.8 143.8 35.0 142.7 36.6C144.7 36.7 146.6 36.2 146.4 34.8Z" fill="#6eae42"/>
<path d="M119.5 27.5C120.6 29.1 122.3 27.7 123.4 25.8C121.3 25.4 119.1 25.6 119.5 27.5Z" fill="#3a621c"/>
<path d="M131.3 37.8C132.3 36.5 130.5 35.0 128.5 34.1C128.8 36.3 129.8 38.4 131.3 37.8Z" fill="#3a621c"/>
<path d="M145.5 30.2C146.4 31.8 148.5 30.6 150.2 28.8C147.8 28.2 145.4 28.3 145.5 30.2Z" fill="#2f4a1c"/>
<path d="M140.0 31.7C141.3 29.8 138.8 27.9 136.0 26.8C136.6 29.8 138.0 32.5 140.0 31.7Z" fill="#44782e"/>
<path d="M127.1 32.2C128.8 32.8 129.8 30.4 130.2 28.0C128.1 29.1 126.1 30.8 127.1 32.2Z" fill="#5a9439"/>
<path d="M151.1 30.8C149.9 29.6 147.9 31.1 146.3 33.0C148.8 33.1 151.3 32.5 151.1 30.8Z" fill="#44782e"/>
<path d="M152.0 32.2C151.0 31.3 149.4 32.7 148.3 34.4C150.3 34.3 152.3 33.6 152.0 32.2Z" fill="#3a621c"/>
<path d="M158.0 36.6C158.1 35.4 156.4 35.1 154.8 35.3C155.8 36.5 157.2 37.5 158.0 36.6Z" fill="#4b8232"/>
<path d="M124.4 31.4C125.8 30.4 124.5 28.4 122.8 26.9C122.4 29.2 122.6 31.5 124.4 31.4Z" fill="#1f3014"/>
<path d="M119.1 35.2C120.6 33.7 118.7 31.7 116.3 30.3C116.3 33.0 117.1 35.7 119.1 35.2Z" fill="#2f4a1c"/>
<path d="M132.4 28.2C133.4 26.6 131.4 25.3 129.2 24.7C129.7 26.9 130.8 29.0 132.4 28.2Z" fill="#44782e"/>
<path d="M145.1 34.3C146.4 33.1 145.0 31.7 143.2 30.8C143.0 32.8 143.5 34.7 145.1 34.3Z" fill="#6eae42"/>
<path d="M150.2 32.4C152.2 33.3 153.6 30.6 154.1 27.7C151.3 28.7 148.9 30.5 150.2 32.4Z" fill="#68a83c"/>
<path d="M128.7 30.3C129.8 28.6 127.9 27.4 125.6 26.8C125.9 29.2 127.0 31.2 128.7 30.3Z" fill="#44782e"/>
<path d="M118.4 36.9C120.1 36.0 118.9 34.1 117.3 32.7C116.5 34.8 116.5 36.9 118.4 36.9Z" fill="#68a83c"/>
<path d="M120.2 30.5C120.5 28.6 118.1 28.2 115.7 28.5C117.1 30.5 119.0 32.0 120.2 30.5Z" fill="#40702a"/>
<path d="M155.5 34.8C155.5 32.9 153.1 32.8 150.7 33.4C152.4 35.2 154.5 36.4 155.5 34.8Z" fill="#1f3014"/>
<path d="M135.7 31.1C136.7 29.8 135.2 28.8 133.4 28.2C133.5 30.1 134.2 31.8 135.7 31.1Z" fill="#2f5218"/>
<path d="M142.5 33.2C143.5 34.7 145.9 33.5 147.8 31.8C145.3 31.2 142.6 31.4 142.5 33.2Z" fill="#44782e"/>
<path d="M140.1 34.1C141.2 32.6 139.4 31.3 137.2 30.5C137.4 32.8 138.3 34.9 140.1 34.1Z" fill="#538c36"/>
<path d="M151.4 29.8C150.1 28.2 148.1 29.9 146.7 32.1C149.3 32.4 151.9 32.0 151.4 29.8Z" fill="#4b7a22"/>
<path d="M155.0 34.6C156.2 32.5 153.6 31.0 150.7 30.4C151.3 33.4 152.8 35.9 155.0 34.6Z" fill="#4b7a22"/>
<path d="M120.1 28.1C120.0 29.5 121.7 29.6 123.4 29.1C122.3 27.7 120.9 26.8 120.1 28.1Z" fill="#2c4a14"/>
<path d="M119.7 32.1C119.4 33.8 121.9 34.3 124.3 34.2C122.8 32.3 120.8 30.8 119.7 32.1Z" fill="#44701f"/>
<path d="M127.5 29.1C129.4 27.8 127.8 25.5 125.6 23.7C124.9 26.5 125.1 29.3 127.5 29.1Z" fill="#4b8232"/>
<path d="M136.3 37.1C137.9 37.2 138.3 34.9 138.2 32.6C136.5 34.1 135.1 36.1 136.3 37.1Z" fill="#78b848"/>
<path d="M130.8 30.5C131.9 29.0 129.9 27.5 127.7 26.6C128.0 29.0 129.1 31.2 130.8 30.5Z" fill="#2f5218"/>
<path d="M149.9 36.6C151.4 38.0 153.6 35.9 155.1 33.5C152.3 33.7 149.5 34.7 149.9 36.6Z" fill="#538c36"/>
<path d="M118.8 34.0C120.4 34.4 120.9 32.4 120.9 30.4C119.1 31.3 117.6 32.8 118.8 34.0Z" fill="#2c4a14"/>
<path d="M137.7 30.1C138.7 31.6 141.0 30.4 142.9 28.8C140.4 28.2 137.8 28.3 137.7 30.1Z" fill="#6eae42"/>
<path d="M137.9 29.6C139.4 30.3 140.1 28.4 140.2 26.5C138.4 27.1 136.8 28.3 137.9 29.6Z" fill="#64a23c"/>
<path d="M123.0 37.5C125.3 37.3 125.1 34.6 124.0 32.1C122.1 34.1 120.9 36.5 123.0 37.5Z" fill="#5a9439"/>
<path d="M125.4 28.3C124.8 27.1 123.3 27.9 122.0 29.0C123.6 29.6 125.4 29.7 125.4 28.3Z" fill="#4b7a22"/>
<path d="M154.1 31.6C153.8 29.7 151.7 30.1 149.7 31.1C151.4 32.5 153.5 33.3 154.1 31.6Z" fill="#68a83c"/>
<path d="M126.9 25.9C127.6 27.4 129.8 26.5 131.5 25.1C129.4 24.4 127.1 24.3 126.9 25.9Z" fill="#5a9439"/>
<path d="M155.8 37.8C157.1 37.2 156.3 35.5 155.1 34.0C154.5 35.8 154.4 37.7 155.8 37.8Z" fill="#223616"/>
<path d="M138.4 31.3C140.1 30.4 139.0 28.2 137.3 26.5C136.5 28.8 136.4 31.3 138.4 31.3Z" fill="#4b8232"/>
<path d="M144.9 36.9C147.3 38.0 148.4 35.1 148.6 32.0C145.6 33.0 143.2 34.9 144.9 36.9Z" fill="#40702a"/>
<path d="M136.4 34.2C137.7 35.9 139.6 34.3 140.9 32.2C138.5 31.8 136.0 32.2 136.4 34.2Z" fill="#40702a"/>
<path d="M143.6 33.8C144.9 32.5 143.3 30.8 141.4 29.6C141.3 31.9 141.9 34.2 143.6 33.8Z" fill="#44701f"/>
<path d="M144.6 37.5C147.0 37.5 147.0 34.6 146.1 31.9C144.0 33.8 142.5 36.3 144.6 37.5Z" fill="#223616"/>
<path d="M132.3 26.2C132.1 27.5 133.9 27.7 135.6 27.5C134.6 26.1 133.1 25.1 132.3 26.2Z" fill="#78b848"/>
<path d="M129.6 36.2C131.4 34.9 129.8 32.2 127.6 30.2C127.1 33.1 127.4 36.2 129.6 36.2Z" fill="#4b8232"/>
<path d="M147.7 32.0C149.0 30.3 146.7 28.2 144.0 26.8C144.4 29.8 145.6 32.7 147.7 32.0Z" fill="#2c4a14"/>
<path d="M154.4 31.1C154.3 29.6 152.4 29.8 150.7 30.6C152.1 31.9 153.9 32.6 154.4 31.1Z" fill="#44782e"/>
<path d="M127.8 33.6C129.1 32.3 127.3 30.4 125.2 29.0C125.2 31.5 126.0 34.1 127.8 33.6Z" fill="#5a9439"/>
<path d="M154.1 31.8C153.6 33.4 155.8 34.2 158.0 34.4C157.0 32.4 155.4 30.7 154.1 31.8Z" fill="#34521f"/>
<path d="M139.4 36.0C140.5 38.0 143.0 36.6 144.9 34.5C142.2 33.7 139.3 33.8 139.4 36.0Z" fill="#4b7a22"/>
<path d="M153.7 32.3C154.7 33.6 156.6 32.4 158.1 30.7C155.9 30.4 153.6 30.6 153.7 32.3Z" fill="#40702a"/>
<path d="M143.4 28.8C144.5 27.9 143.3 26.4 141.9 25.2C141.7 27.1 142.1 29.0 143.4 28.8Z" fill="#5a9439"/>
<rect x="34.2" y="59.800000000000004" width="33.800000000000004" height="60.599999999999994" fill="#2f2f2f"/>
<rect x="35.0" y="60.6" width="32.2" height="58.99999999999999" fill="#19110b"/>
<path d="M43.0 60.6V119.6" stroke="#3c3a38" stroke-width="0.8"/>
<path d="M51.1 60.6V119.6" stroke="#3c3a38" stroke-width="0.8"/>
<path d="M59.2 60.6V119.6" stroke="#3c3a38" stroke-width="0.8"/>
<path d="M35.0 67.2H67.2" stroke="#3c3a38" stroke-width="0.8"/>
<path d="M35.0 73.7H67.2" stroke="#3c3a38" stroke-width="0.8"/>
<path d="M35.0 80.3H67.2" stroke="#3c3a38" stroke-width="0.8"/>
<path d="M35.0 86.8H67.2" stroke="#3c3a38" stroke-width="0.8"/>
<path d="M35.0 93.4H67.2" stroke="#3c3a38" stroke-width="0.8"/>
<path d="M35.0 99.9H67.2" stroke="#3c3a38" stroke-width="0.8"/>
<path d="M35.0 106.5H67.2" stroke="#3c3a38" stroke-width="0.8"/>
<path d="M35.0 113.0H67.2" stroke="#3c3a38" stroke-width="0.8"/>
<path d="M36.7 64.4C36.5 66.0 38.2 66.0 39.8 65.5C38.9 64.1 37.6 63.1 36.7 64.4Z" fill="#8cc428"/>
<path d="M36.4 64.4C35.3 63.3 34.3 64.6 33.7 66.2C35.4 66.3 37.0 65.9 36.4 64.4Z" fill="#a6d634"/>
<path d="M36.5 64.1C38.5 63.3 37.4 61.3 35.6 59.7C34.6 61.8 34.4 64.1 36.5 64.1Z" fill="#c0e650"/>
<path d="M47.3 64.2C45.8 64.6 46.4 66.3 47.5 67.6C48.5 66.2 48.9 64.5 47.3 64.2Z" fill="#c0e650"/>
<path d="M47.2 64.1C46.3 62.9 45.0 64.0 44.2 65.5C45.9 65.9 47.5 65.6 47.2 64.1Z" fill="#8cc428"/>
<path d="M47.2 63.9C48.6 62.7 47.3 61.4 45.5 60.6C45.2 62.5 45.5 64.4 47.2 63.9Z" fill="#c0e650"/>
<path d="M47.5 64.0C48.8 65.7 50.6 64.2 51.7 62.1C49.4 61.6 47.1 61.8 47.5 64.0Z" fill="#a6d634"/>
<path d="M55.7 64.6C55.1 66.3 56.9 66.7 58.8 66.4C58.1 64.7 56.8 63.4 55.7 64.6Z" fill="#a6d634"/>
<path d="M55.4 64.7C53.7 63.9 53.0 65.7 52.9 67.8C54.9 67.3 56.6 66.2 55.4 64.7Z" fill="#8cc428"/>
<path d="M55.3 64.5C55.8 62.8 54.0 62.5 52.1 62.9C53.0 64.6 54.3 65.8 55.3 64.5Z" fill="#8cc428"/>
<path d="M55.6 64.4C57.1 65.1 57.7 63.4 57.6 61.6C55.9 62.2 54.5 63.2 55.6 64.4Z" fill="#c0e650"/>
<path d="M63.9 64.1C63.1 65.5 64.7 66.2 66.5 66.4C66.1 64.6 65.3 63.2 63.9 64.1Z" fill="#a6d634"/>
<path d="M63.7 64.1C62.3 63.3 61.5 64.9 61.4 66.7C63.2 66.4 64.7 65.5 63.7 64.1Z" fill="#b4e03e"/>
<path d="M63.7 63.8C64.7 62.0 62.6 61.1 60.3 60.9C60.8 63.2 61.9 65.1 63.7 63.8Z" fill="#a6d634"/>
<path d="M64.0 63.8C65.7 65.0 66.8 63.1 67.1 60.8C64.8 61.1 62.9 62.1 64.0 63.8Z" fill="#b4e03e"/>
<path d="M37.7 70.4C38.0 72.4 40.1 71.8 42.0 70.6C40.2 69.1 38.2 68.4 37.7 70.4Z" fill="#a6d634"/>
<path d="M37.5 70.6C35.8 70.9 36.3 72.6 37.4 74.1C38.5 72.7 39.1 71.0 37.5 70.6Z" fill="#b4e03e"/>
<path d="M37.3 70.4C36.9 68.8 35.3 69.4 33.9 70.5C35.4 71.5 37.0 72.0 37.3 70.4Z" fill="#b4e03e"/>
<path d="M37.5 70.2C39.7 70.0 39.3 67.8 38.1 65.7C36.5 67.4 35.5 69.4 37.5 70.2Z" fill="#8cc428"/>
<path d="M48.1 70.2C47.2 71.9 49.2 72.7 51.3 72.8C50.8 70.7 49.6 68.9 48.1 70.2Z" fill="#8cc428"/>
<path d="M47.9 70.2C45.8 69.7 45.4 71.9 45.8 74.2C47.9 73.1 49.5 71.6 47.9 70.2Z" fill="#c0e650"/>
<path d="M47.8 69.9C48.7 68.3 46.9 67.4 44.8 67.3C45.2 69.3 46.3 71.0 47.8 69.9Z" fill="#a6d634"/>
<path d="M48.0 69.9C49.9 70.3 50.2 68.3 49.7 66.2C47.9 67.2 46.5 68.7 48.0 69.9Z" fill="#8cc428"/>
<path d="M55.6 70.6C54.6 71.9 56.1 72.8 57.9 73.3C57.8 71.4 57.1 69.7 55.6 70.6Z" fill="#b4e03e"/>
<path d="M55.3 70.5C54.3 68.9 52.7 70.1 51.5 71.8C53.5 72.4 55.5 72.4 55.3 70.5Z" fill="#a6d634"/>
<path d="M55.3 70.2C56.7 68.7 54.9 67.4 52.7 66.8C52.7 69.1 53.5 71.1 55.3 70.2Z" fill="#98cc2c"/>
<path d="M55.7 70.3C56.8 72.1 58.6 70.7 59.8 68.8C57.6 68.1 55.4 68.3 55.7 70.3Z" fill="#b4e03e"/>
<path d="M62.3 69.9C60.7 71.4 62.4 72.9 64.6 73.8C64.9 71.5 64.4 69.3 62.3 69.9Z" fill="#a6d634"/>
<path d="M62.0 69.9C60.3 68.6 59.1 70.5 58.5 72.8C60.9 72.7 63.0 71.8 62.0 69.9Z" fill="#a6d634"/>
<path d="M62.1 69.6C63.4 68.0 61.6 66.8 59.4 66.2C59.5 68.5 60.2 70.5 62.1 69.6Z" fill="#98cc2c"/>
<path d="M62.4 69.6C63.6 71.0 64.9 69.6 65.7 67.7C63.7 67.4 61.8 67.9 62.4 69.6Z" fill="#8cc428"/>
<path d="M37.1 77.3C36.0 78.5 37.4 79.5 39.1 80.0C39.1 78.3 38.6 76.7 37.1 77.3Z" fill="#a6d634"/>
<path d="M36.8 77.3C35.2 75.9 33.9 77.7 33.2 79.9C35.5 80.0 37.7 79.3 36.8 77.3Z" fill="#a6d634"/>
<path d="M36.9 77.0C38.2 75.5 36.4 74.3 34.3 73.7C34.3 75.9 35.1 77.9 36.9 77.0Z" fill="#b4e03e"/>
<path d="M37.1 77.0C38.5 77.5 38.9 76.0 38.7 74.3C37.2 74.9 36.0 76.0 37.1 77.0Z" fill="#b4e03e"/>
<path d="M48.2 76.8C47.1 78.5 49.0 79.5 51.2 79.8C50.9 77.6 49.9 75.7 48.2 76.8Z" fill="#98cc2c"/>
<path d="M47.8 76.8C46.4 75.2 44.9 76.9 44.0 79.0C46.3 79.3 48.5 78.8 47.8 76.8Z" fill="#98cc2c"/>
<path d="M47.9 76.5C49.3 75.1 47.8 73.7 45.7 73.0C45.5 75.1 46.1 77.2 47.9 76.5Z" fill="#8cc428"/>
<path d="M48.2 76.6C49.2 78.2 50.8 76.9 51.9 75.2C49.9 74.6 47.9 74.7 48.2 76.6Z" fill="#a6d634"/>
<path d="M56.2 76.2C54.5 77.5 55.9 79.1 57.9 80.2C58.4 78.0 58.2 75.8 56.2 76.2Z" fill="#98cc2c"/>
<path d="M55.9 76.1C55.4 74.2 53.5 74.9 51.9 76.3C53.6 77.5 55.6 77.9 55.9 76.1Z" fill="#98cc2c"/>
<path d="M56.2 75.9C57.9 76.4 58.3 74.5 58.1 72.5C56.2 73.3 54.8 74.7 56.2 75.9Z" fill="#c0e650"/>
<path d="M62.5 76.7C60.4 77.4 61.4 79.5 63.0 81.3C64.2 79.2 64.7 77.0 62.5 76.7Z" fill="#8cc428"/>
<path d="M62.3 76.5C61.6 74.8 59.8 75.6 58.4 77.1C60.2 78.1 62.2 78.4 62.3 76.5Z" fill="#98cc2c"/>
<path d="M62.4 76.3C64.2 75.5 63.2 73.7 61.5 72.3C60.6 74.3 60.5 76.3 62.4 76.3Z" fill="#a6d634"/>
<path d="M62.7 76.5C63.2 78.4 65.1 77.7 66.8 76.4C65.1 75.1 63.0 74.6 62.7 76.5Z" fill="#c0e650"/>
<path d="M36.8 84.4C36.7 86.0 38.3 86.0 40.0 85.4C38.9 84.0 37.6 83.0 36.8 84.4Z" fill="#c0e650"/>
<path d="M36.5 84.5C34.6 83.5 33.7 85.6 33.6 87.9C35.9 87.4 37.8 86.2 36.5 84.5Z" fill="#b4e03e"/>
<path d="M36.5 84.2C37.9 82.9 36.5 81.6 34.5 80.7C34.3 82.8 34.7 84.8 36.5 84.2Z" fill="#b4e03e"/>
<path d="M47.2 83.3C47.5 85.1 49.4 84.7 51.2 83.5C49.6 82.2 47.7 81.4 47.2 83.3Z" fill="#c0e650"/>
<path d="M46.9 83.4C44.8 82.9 44.4 85.1 44.8 87.5C47.0 86.5 48.6 84.8 46.9 83.4Z" fill="#a6d634"/>
<path d="M46.9 83.1C48.1 82.0 46.8 80.9 45.1 80.2C45.0 82.0 45.4 83.6 46.9 83.1Z" fill="#98cc2c"/>
<path d="M54.9 84.0C54.7 86.2 57.0 86.1 59.2 85.3C57.8 83.4 55.9 82.2 54.9 84.0Z" fill="#98cc2c"/>
<path d="M54.6 84.2C52.9 84.0 52.9 85.8 53.6 87.6C55.1 86.5 56.1 85.0 54.6 84.2Z" fill="#c0e650"/>
<path d="M54.5 83.9C54.4 81.9 52.3 82.1 50.2 83.1C51.7 84.8 53.6 85.8 54.5 83.9Z" fill="#b4e03e"/>
<path d="M54.7 83.8C56.5 83.8 56.3 81.9 55.5 80.2C54.0 81.5 53.1 83.1 54.7 83.8Z" fill="#a6d634"/>
<path d="M63.1 84.2C62.8 85.9 64.6 86.1 66.4 85.7C65.5 84.0 64.2 82.8 63.1 84.2Z" fill="#a6d634"/>
<path d="M62.9 84.3C61.0 84.4 61.3 86.4 62.3 88.3C63.8 86.8 64.7 85.0 62.9 84.3Z" fill="#a6d634"/>
<path d="M62.8 84.0C63.1 82.3 61.2 82.2 59.3 82.7C60.4 84.4 61.9 85.5 62.8 84.0Z" fill="#a6d634"/>
<path d="M63.0 83.9C65.0 83.6 64.5 81.4 63.2 79.5C61.8 81.3 61.0 83.3 63.0 83.9Z" fill="#b4e03e"/>
<path d="M37.6 90.9C36.1 92.1 37.5 93.6 39.4 94.6C39.8 92.5 39.5 90.4 37.6 90.9Z" fill="#c0e650"/>
<path d="M37.4 90.8C36.3 89.6 35.2 90.9 34.5 92.5C36.2 92.7 37.9 92.3 37.4 90.8Z" fill="#c0e650"/>
<path d="M37.5 90.5C39.1 89.6 38.0 88.0 36.3 86.8C35.6 88.7 35.6 90.7 37.5 90.5Z" fill="#98cc2c"/>
<path d="M37.7 90.7C38.5 92.2 40.0 91.2 41.1 89.8C39.4 89.1 37.6 89.0 37.7 90.7Z" fill="#98cc2c"/>
<path d="M47.7 90.7C46.2 92.3 48.0 93.7 50.2 94.5C50.4 92.1 49.7 89.9 47.7 90.7Z" fill="#98cc2c"/>
<path d="M47.4 90.7C45.7 89.6 44.7 91.5 44.3 93.7C46.6 93.4 48.5 92.5 47.4 90.7Z" fill="#98cc2c"/>
<path d="M47.4 90.4C48.4 88.7 46.5 87.8 44.3 87.6C44.7 89.7 45.8 91.6 47.4 90.4Z" fill="#8cc428"/>
<path d="M47.7 90.5C49.0 91.5 50.1 90.0 50.5 88.2C48.7 88.3 47.0 88.9 47.7 90.5Z" fill="#8cc428"/>
<path d="M55.9 89.9C54.8 91.6 56.7 92.6 59.0 92.9C58.6 90.7 57.6 88.7 55.9 89.9Z" fill="#b4e03e"/>
<path d="M55.5 89.8C54.5 88.6 53.3 89.8 52.5 91.4C54.3 91.7 56.0 91.4 55.5 89.8Z" fill="#8cc428"/>
<path d="M55.7 89.6C57.5 89.7 57.4 87.8 56.7 86.1C55.2 87.2 54.2 88.8 55.7 89.6Z" fill="#8cc428"/>
<path d="M63.5 89.6C62.0 90.9 63.5 92.4 65.5 93.2C65.8 91.1 65.4 89.0 63.5 89.6Z" fill="#b4e03e"/>
<path d="M63.2 89.5C62.1 88.1 60.7 89.4 59.8 91.2C61.8 91.6 63.7 91.3 63.2 89.5Z" fill="#a6d634"/>
<path d="M63.3 89.3C64.3 88.1 63.0 87.2 61.3 86.7C61.3 88.4 61.9 89.9 63.3 89.3Z" fill="#8cc428"/>
<path d="M63.5 89.3C65.1 90.5 66.2 88.8 66.8 86.7C64.6 86.8 62.7 87.5 63.5 89.3Z" fill="#98cc2c"/>
<path d="M37.6 96.3C37.0 98.2 39.0 98.5 41.1 98.2C40.2 96.3 38.8 94.9 37.6 96.3Z" fill="#c0e650"/>
<path d="M37.3 96.4C35.3 95.7 34.8 97.9 35.0 100.2C37.2 99.3 38.8 97.9 37.3 96.4Z" fill="#b4e03e"/>
<path d="M37.2 96.2C36.9 94.0 34.7 94.5 32.6 95.7C34.4 97.4 36.5 98.3 37.2 96.2Z" fill="#98cc2c"/>
<path d="M37.4 96.0C39.4 96.1 39.4 94.1 38.6 92.0C36.8 93.4 35.7 95.1 37.4 96.0Z" fill="#98cc2c"/>
<path d="M46.9 96.8C47.6 98.8 49.6 97.9 51.3 96.3C49.3 95.2 47.1 94.7 46.9 96.8Z" fill="#8cc428"/>
<path d="M46.7 97.0C45.0 97.0 45.2 98.8 45.9 100.4C47.3 99.2 48.2 97.7 46.7 97.0Z" fill="#8cc428"/>
<path d="M46.5 96.8C46.3 94.7 44.0 95.1 41.9 96.3C43.6 98.0 45.8 98.9 46.5 96.8Z" fill="#a6d634"/>
<path d="M46.7 96.7C48.4 96.2 47.7 94.4 46.4 92.9C45.3 94.5 44.9 96.4 46.7 96.7Z" fill="#a6d634"/>
<path d="M55.7 97.3C53.8 98.2 54.9 100.2 56.7 101.7C57.7 99.5 57.9 97.3 55.7 97.3Z" fill="#8cc428"/>
<path d="M55.5 97.1C54.8 95.5 53.2 96.4 52.0 97.8C53.7 98.6 55.4 98.8 55.5 97.1Z" fill="#a6d634"/>
<path d="M55.6 96.9C56.8 95.7 55.4 94.5 53.6 93.7C53.4 95.7 53.9 97.5 55.6 96.9Z" fill="#a6d634"/>
<path d="M55.8 97.0C57.3 98.4 58.7 96.8 59.6 94.6C57.3 94.4 55.1 95.0 55.8 97.0Z" fill="#c0e650"/>
<path d="M37.6 103.3C37.0 105.1 38.9 105.5 40.9 105.3C40.1 103.4 38.8 102.0 37.6 103.3Z" fill="#8cc428"/>
<path d="M37.3 103.4C35.5 102.7 34.9 104.6 34.9 106.8C37.0 106.1 38.6 104.8 37.3 103.4Z" fill="#a6d634"/>
<path d="M37.3 103.1C38.2 101.6 36.4 100.7 34.4 100.6C34.8 102.5 35.8 104.2 37.3 103.1Z" fill="#8cc428"/>
<path d="M37.5 103.1C39.1 103.7 39.5 101.9 39.4 100.0C37.6 100.7 36.3 101.9 37.5 103.1Z" fill="#8cc428"/>
<path d="M46.5 103.4C44.7 104.1 45.6 106.0 47.2 107.5C48.2 105.6 48.5 103.5 46.5 103.4Z" fill="#98cc2c"/>
<path d="M46.3 103.2C46.3 101.2 44.2 101.4 42.1 102.3C43.6 104.0 45.5 105.0 46.3 103.2Z" fill="#c0e650"/>
<path d="M46.5 103.1C48.3 103.1 48.2 101.2 47.4 99.4C45.9 100.7 44.9 102.3 46.5 103.1Z" fill="#c0e650"/>
<path d="M46.7 103.3C46.9 105.2 48.9 104.8 50.7 103.8C49.2 102.3 47.3 101.4 46.7 103.3Z" fill="#c0e650"/>
<path d="M54.5 104.0C53.8 105.9 55.9 106.4 58.2 106.2C57.3 104.1 55.9 102.5 54.5 104.0Z" fill="#98cc2c"/>
<path d="M54.1 103.9C53.1 102.5 51.7 103.8 50.8 105.5C52.7 105.9 54.5 105.7 54.1 103.9Z" fill="#98cc2c"/>
<path d="M54.3 103.7C56.2 103.2 55.6 101.2 54.2 99.4C52.9 101.2 52.3 103.3 54.3 103.7Z" fill="#a6d634"/>
<path d="M63.9 104.2C64.0 105.7 65.7 105.4 67.2 104.5C65.9 103.3 64.4 102.6 63.9 104.2Z" fill="#98cc2c"/>
<path d="M63.7 104.3C61.8 104.5 62.2 106.4 63.3 108.2C64.6 106.7 65.4 104.9 63.7 104.3Z" fill="#98cc2c"/>
<path d="M63.5 104.2C63.0 102.5 61.2 103.2 59.8 104.5C61.5 105.6 63.3 105.9 63.5 104.2Z" fill="#b4e03e"/>
<path d="M63.8 103.9C65.9 104.1 65.9 101.7 65.0 99.5C63.1 101.0 61.8 102.9 63.8 103.9Z" fill="#b4e03e"/>
<path d="M36.7 109.8C35.5 111.2 37.1 112.3 39.0 112.9C39.0 110.8 38.3 109.0 36.7 109.8Z" fill="#b4e03e"/>
<path d="M36.4 109.7C35.2 108.4 33.9 109.8 33.2 111.6C35.1 111.8 36.9 111.4 36.4 109.7Z" fill="#b4e03e"/>
<path d="M36.4 109.4C37.8 108.2 36.3 106.9 34.4 106.1C34.2 108.1 34.7 110.0 36.4 109.4Z" fill="#a6d634"/>
<path d="M36.7 109.5C37.7 110.7 38.8 109.5 39.5 108.0C37.8 107.8 36.3 108.1 36.7 109.5Z" fill="#8cc428"/>
<path d="M47.8 110.4C47.7 112.5 50.0 112.4 52.1 111.5C50.6 109.6 48.7 108.5 47.8 110.4Z" fill="#8cc428"/>
<path d="M47.5 110.5C46.0 110.0 45.6 111.6 45.8 113.4C47.5 112.7 48.7 111.5 47.5 110.5Z" fill="#8cc428"/>
<path d="M47.4 110.3C47.5 108.6 45.8 108.7 44.1 109.5C45.2 110.9 46.7 111.7 47.4 110.3Z" fill="#a6d634"/>
<path d="M47.7 110.1C49.8 110.4 49.9 108.1 49.2 105.8C47.2 107.1 45.8 109.0 47.7 110.1Z" fill="#c0e650"/>
<path d="M55.2 109.1C54.0 110.3 55.3 111.4 57.1 112.1C57.2 110.3 56.8 108.5 55.2 109.1Z" fill="#b4e03e"/>
<path d="M54.9 109.0C54.4 107.4 52.8 108.1 51.4 109.3C53.0 110.3 54.8 110.6 54.9 109.0Z" fill="#b4e03e"/>
<path d="M55.2 108.8C57.0 109.3 57.4 107.4 57.1 105.3C55.2 106.2 53.8 107.5 55.2 108.8Z" fill="#98cc2c"/>
<path d="M47.8 116.2C47.3 118.1 49.4 118.5 51.6 118.1C50.6 116.1 49.1 114.6 47.8 116.2Z" fill="#c0e650"/>
<path d="M47.5 116.2C46.3 114.8 44.9 116.1 44.1 117.9C46.0 118.2 47.9 117.9 47.5 116.2Z" fill="#8cc428"/>
<path d="M47.6 115.9C49.1 115.5 48.5 114.0 47.5 112.7C46.5 114.1 46.1 115.7 47.6 115.9Z" fill="#8cc428"/>
<path d="M55.4 116.1C54.0 116.9 54.9 118.3 56.3 119.5C57.0 117.8 57.1 116.1 55.4 116.1Z" fill="#a6d634"/>
<path d="M55.2 116.0C54.8 114.3 53.1 114.9 51.6 116.1C53.2 117.2 54.9 117.6 55.2 116.0Z" fill="#b4e03e"/>
<path d="M55.4 115.8C57.0 115.5 56.5 113.8 55.4 112.3C54.3 113.7 53.8 115.4 55.4 115.8Z" fill="#a6d634"/>
<path d="M55.6 115.9C56.3 117.7 58.1 116.7 59.5 115.2C57.6 114.3 55.6 114.0 55.6 115.9Z" fill="#c0e650"/>
<rect x="69.5" y="58.5" width="39.0" height="63.0" rx="2" fill="#17210c"/>
<path d="M77.5 108.6C75.5 110.7 78.0 112.7 81.0 113.9C81.1 110.6 80.2 107.5 77.5 108.6Z" fill="#62a626"/>
<path d="M105.3 114.6C103.0 113.9 102.5 116.4 102.9 119.0C105.2 117.9 107.1 116.1 105.3 114.6Z" fill="#8ed03c"/>
<path d="M88.5 75.4C87.9 72.9 84.8 73.6 82.2 75.3C84.8 77.1 87.8 77.9 88.5 75.4Z" fill="#5c9e24"/>
<path d="M93.0 105.4C90.7 104.6 90.1 107.1 90.4 109.8C92.9 108.8 94.8 107.1 93.0 105.4Z" fill="#94d440"/>
<path d="M102.9 112.1C104.4 110.7 102.7 109.0 100.6 108.0C100.3 110.4 100.9 112.7 102.9 112.1Z" fill="#9cd848"/>
<path d="M108.1 86.0C108.1 84.1 105.8 84.1 103.7 84.9C105.2 86.6 107.2 87.7 108.1 86.0Z" fill="#5c9e24"/>
<path d="M80.5 85.9C78.3 88.0 80.7 89.9 83.7 90.9C84.1 87.7 83.3 84.8 80.5 85.9Z" fill="#3a621c"/>
<path d="M78.8 123.5C80.7 121.2 78.1 119.4 75.0 118.4C75.0 121.7 76.2 124.7 78.8 123.5Z" fill="#9cd848"/>
<path d="M70.3 90.8C67.1 91.2 67.9 94.5 69.8 97.5C72.1 94.8 73.4 91.7 70.3 90.8Z" fill="#9cd848"/>
<path d="M80.4 79.1C81.6 77.2 79.3 75.9 76.7 75.3C77.2 77.9 78.4 80.3 80.4 79.1Z" fill="#78bc30"/>
<path d="M86.1 117.4C86.8 120.1 89.7 119.1 92.3 117.2C89.6 115.4 86.6 114.6 86.1 117.4Z" fill="#9cd848"/>
<path d="M97.7 108.8C99.3 110.2 101.0 108.2 101.9 105.8C99.3 105.9 97.0 106.8 97.7 108.8Z" fill="#86c834"/>
<path d="M97.4 113.1C98.4 111.1 96.0 110.1 93.5 109.9C94.2 112.4 95.6 114.4 97.4 113.1Z" fill="#8ed03c"/>
<path d="M107.1 101.3C109.4 101.1 109.0 98.6 107.8 96.2C106.0 98.2 104.9 100.5 107.1 101.3Z" fill="#86c834"/>
<path d="M70.6 89.5C71.1 91.9 73.5 91.2 75.6 89.6C73.5 88.0 71.2 87.2 70.6 89.5Z" fill="#8ed03c"/>
<path d="M71.7 79.8C70.3 82.0 72.8 83.4 75.7 83.9C75.2 81.0 73.9 78.5 71.7 79.8Z" fill="#86c834"/>
<path d="M90.6 72.3C93.3 71.8 92.6 68.7 90.9 65.9C89.0 68.5 88.0 71.6 90.6 72.3Z" fill="#8ed03c"/>
<path d="M87.9 85.4C90.0 86.2 90.5 84.0 90.3 81.7C88.1 82.4 86.3 83.9 87.9 85.4Z" fill="#8ed03c"/>
<path d="M100.2 111.2C99.0 113.1 101.2 114.4 103.7 115.1C103.3 112.5 102.1 110.2 100.2 111.2Z" fill="#9cd848"/>
<path d="M73.6 65.1C74.5 67.0 76.5 65.8 78.1 63.9C75.9 63.1 73.5 63.0 73.6 65.1Z" fill="#44701f"/>
<path d="M74.4 80.2C72.8 81.4 74.2 83.3 76.1 84.7C76.6 82.4 76.4 80.0 74.4 80.2Z" fill="#86c834"/>
<path d="M70.6 80.0C71.4 82.5 73.8 81.4 75.8 79.3C73.4 77.8 70.8 77.3 70.6 80.0Z" fill="#a8de54"/>
<path d="M82.7 118.8C83.9 120.9 86.0 119.5 87.6 117.4C85.1 116.4 82.6 116.4 82.7 118.8Z" fill="#86c834"/>
<path d="M103.8 113.8C101.2 114.3 102.0 117.0 103.8 119.3C105.6 117.0 106.5 114.4 103.8 113.8Z" fill="#9cd848"/>
<path d="M74.5 124.6C76.5 125.3 77.2 123.0 77.2 120.5C74.9 121.4 73.0 123.0 74.5 124.6Z" fill="#86c834"/>
<path d="M103.7 76.6C102.7 74.1 100.1 75.5 98.0 77.6C100.7 79.0 103.6 79.3 103.7 76.6Z" fill="#94d440"/>
<path d="M84.3 76.1C81.5 75.7 81.2 78.8 81.8 82.0C84.6 80.3 86.6 77.8 84.3 76.1Z" fill="#9cd848"/>
<path d="M104.8 68.0C104.0 70.7 107.1 71.4 110.2 71.0C108.8 68.1 106.6 65.9 104.8 68.0Z" fill="#9cd848"/>
<path d="M98.7 75.6C96.5 77.7 98.9 79.9 102.0 81.2C102.3 77.8 101.5 74.7 98.7 75.6Z" fill="#5c9e24"/>
<path d="M91.4 103.8C88.6 102.3 87.2 105.4 87.0 109.0C90.5 108.2 93.4 106.4 91.4 103.8Z" fill="#86c834"/>
<path d="M93.3 77.8C90.9 76.8 90.1 79.4 90.3 82.2C93.0 81.4 95.2 79.8 93.3 77.8Z" fill="#8ed03c"/>
<path d="M91.4 77.9C93.7 79.6 95.3 77.0 95.9 73.9C92.8 74.2 90.1 75.5 91.4 77.9Z" fill="#86c834"/>
<path d="M84.3 119.3C83.7 121.7 86.6 122.3 89.6 122.0C88.1 119.3 85.9 117.3 84.3 119.3Z" fill="#8ed03c"/>
<path d="M86.0 122.5C87.2 120.3 84.7 119.2 82.0 119.1C82.6 121.8 84.0 124.0 86.0 122.5Z" fill="#44701f"/>
<path d="M95.8 110.6C95.5 113.5 98.6 113.5 101.7 112.6C99.8 109.9 97.3 108.1 95.8 110.6Z" fill="#8ed03c"/>
<path d="M73.1 104.9C71.4 107.0 73.7 108.4 76.5 108.9C76.4 106.1 75.5 103.6 73.1 104.9Z" fill="#94d440"/>
<path d="M107.7 100.9C105.4 100.2 104.6 103.0 104.8 105.9C107.5 104.6 109.5 102.6 107.7 100.9Z" fill="#94d440"/>
<path d="M98.8 67.2C96.3 69.1 98.5 71.4 101.5 72.9C102.3 69.6 101.8 66.4 98.8 67.2Z" fill="#94d440"/>
<path d="M83.5 94.4C83.8 91.7 80.9 91.6 78.0 92.6C79.7 95.1 82.1 96.8 83.5 94.4Z" fill="#9cd848"/>
<path d="M88.1 68.7C91.3 69.7 91.9 66.4 91.2 62.9C87.9 64.3 85.5 66.5 88.1 68.7Z" fill="#70b42c"/>
<path d="M96.2 115.1C96.4 117.9 99.3 117.6 102.0 116.2C99.9 113.9 97.3 112.6 96.2 115.1Z" fill="#a8de54"/>
<path d="M96.0 62.8C94.0 64.6 96.2 66.8 99.0 68.2C99.3 65.1 98.6 62.1 96.0 62.8Z" fill="#a8de54"/>
<path d="M104.5 99.7C107.0 99.2 106.2 96.9 104.5 94.8C102.9 96.9 102.1 99.2 104.5 99.7Z" fill="#70b42c"/>
<path d="M83.2 58.8C82.0 60.6 84.1 61.6 86.5 61.9C86.1 59.5 85.1 57.5 83.2 58.8Z" fill="#a8de54"/>
<path d="M72.8 113.6C75.4 113.4 74.9 110.6 73.5 108.0C71.5 110.1 70.3 112.7 72.8 113.6Z" fill="#9cd848"/>
<path d="M95.9 118.3C99.2 118.5 99.0 115.2 97.6 111.9C94.8 114.1 93.0 116.9 95.9 118.3Z" fill="#78bc30"/>
<path d="M99.7 116.1C102.7 115.4 101.6 112.5 99.4 110.1C97.4 112.7 96.6 115.7 99.7 116.1Z" fill="#9cd848"/>
<path d="M87.0 87.2C89.5 89.1 91.2 86.3 91.9 82.9C88.5 83.2 85.5 84.5 87.0 87.2Z" fill="#8ed03c"/>
<path d="M93.8 64.6C94.3 66.7 96.8 66.0 99.0 64.5C96.8 63.1 94.3 62.5 93.8 64.6Z" fill="#66aa28"/>
<path d="M108.1 103.6C105.5 104.0 106.2 106.6 107.8 108.9C109.6 106.7 110.5 104.2 108.1 103.6Z" fill="#a8de54"/>
<path d="M88.2 78.4C89.2 81.1 91.9 79.8 94.0 77.5C91.3 76.0 88.4 75.5 88.2 78.4Z" fill="#62a626"/>
<path d="M75.3 105.0C72.1 104.9 72.2 108.3 73.6 111.5C76.3 109.3 78.1 106.4 75.3 105.0Z" fill="#86c834"/>
<path d="M83.4 114.9C82.0 113.2 80.4 114.8 79.4 117.1C81.8 117.5 84.0 117.0 83.4 114.9Z" fill="#8ed03c"/>
<path d="M106.2 82.6C108.3 84.9 110.6 82.4 111.9 79.2C108.4 78.9 105.2 79.7 106.2 82.6Z" fill="#62a626"/>
<path d="M89.6 84.4C89.7 87.8 93.1 87.2 96.2 85.4C93.8 82.7 90.8 81.2 89.6 84.4Z" fill="#94d440"/>
<path d="M97.4 107.3C100.0 107.5 99.8 105.0 98.8 102.6C96.6 104.1 95.2 106.2 97.4 107.3Z" fill="#9cd848"/>
<path d="M93.7 59.5C90.8 60.6 92.3 63.4 94.7 65.6C96.3 62.7 96.8 59.7 93.7 59.5Z" fill="#62a626"/>
<path d="M108.8 112.2C110.2 109.9 107.7 108.7 104.8 108.4C105.3 111.3 106.6 113.7 108.8 112.2Z" fill="#78bc30"/>
<path d="M91.0 74.3C91.7 77.1 94.6 76.1 97.1 74.1C94.5 72.3 91.5 71.5 91.0 74.3Z" fill="#66aa28"/>
<path d="M77.4 57.9C79.4 60.0 81.5 57.8 82.7 54.8C79.5 54.5 76.5 55.2 77.4 57.9Z" fill="#86c834"/>
<path d="M82.1 84.1C80.9 81.7 78.4 83.2 76.4 85.5C79.2 86.6 82.2 86.8 82.1 84.1Z" fill="#5c9e24"/>
<path d="M70.0 103.1C70.5 106.1 73.6 105.3 76.3 103.4C73.8 101.2 70.8 100.1 70.0 103.1Z" fill="#62a626"/>
<path d="M90.9 65.7C92.9 67.6 94.6 65.3 95.5 62.5C92.5 62.4 89.8 63.2 90.9 65.7Z" fill="#66aa28"/>
<path d="M92.0 88.1C89.7 88.4 90.1 91.0 91.5 93.3C93.2 91.3 94.2 88.9 92.0 88.1Z" fill="#5c9e24"/>
<path d="M100.4 123.8C101.2 121.4 98.5 120.7 95.6 120.8C96.7 123.5 98.6 125.6 100.4 123.8Z" fill="#9cd848"/>
<path d="M104.5 60.5C102.9 62.7 105.6 64.6 108.8 65.5C108.4 62.2 107.0 59.2 104.5 60.5Z" fill="#8ed03c"/>
<path d="M73.8 87.2C71.9 88.3 73.2 90.3 75.1 91.8C76.0 89.4 76.0 87.1 73.8 87.2Z" fill="#8ed03c"/>
<path d="M78.9 95.2C80.3 97.4 82.4 95.7 83.9 93.3C81.2 92.5 78.4 92.7 78.9 95.2Z" fill="#8ed03c"/>
<path d="M83.5 95.0C81.1 96.1 82.4 98.4 84.6 100.3C85.9 97.8 86.2 95.0 83.5 95.0Z" fill="#86c834"/>
<path d="M79.5 91.6C77.2 90.0 75.8 92.5 75.2 95.5C78.2 95.3 80.9 94.0 79.5 91.6Z" fill="#94d440"/>
<path d="M85.7 98.1C85.0 100.6 87.5 100.9 90.1 100.4C89.0 97.9 87.2 96.1 85.7 98.1Z" fill="#a8de54"/>
<path d="M99.9 76.6C98.7 79.2 101.7 80.4 104.9 80.6C103.9 77.5 102.0 74.9 99.9 76.6Z" fill="#86c834"/>
<path d="M98.7 99.5C99.9 97.5 97.6 96.3 94.9 95.9C95.4 98.5 96.7 100.8 98.7 99.5Z" fill="#8ed03c"/>
<path d="M97.8 111.6C95.7 112.1 96.5 114.2 97.9 116.0C99.3 114.1 99.9 112.0 97.8 111.6Z" fill="#a8de54"/>
<path d="M100.1 112.6C102.3 113.2 102.9 110.6 102.6 107.9C100.2 109.2 98.4 111.1 100.1 112.6Z" fill="#62a626"/>
<path d="M108.7 63.5C110.8 61.4 108.5 59.6 105.5 58.7C105.2 61.8 105.9 64.6 108.7 63.5Z" fill="#a8de54"/>
<path d="M100.6 77.3C98.5 75.9 97.0 78.4 96.2 81.3C99.1 80.8 101.7 79.4 100.6 77.3Z" fill="#8ed03c"/>
<path d="M78.7 66.2C76.3 66.7 77.1 69.2 78.8 71.3C80.5 69.1 81.2 66.6 78.7 66.2Z" fill="#86c834"/>
<path d="M106.6 107.2C107.2 105.2 104.8 104.5 102.3 104.6C103.4 106.9 105.2 108.7 106.6 107.2Z" fill="#86c834"/>
<path d="M93.8 99.2C93.6 101.8 96.1 101.7 98.7 100.7C97.2 98.5 95.1 97.0 93.8 99.2Z" fill="#62a626"/>
<path d="M83.5 107.5C84.6 105.0 81.9 104.1 78.9 104.1C79.7 107.0 81.4 109.3 83.5 107.5Z" fill="#8ed03c"/>
<path d="M97.3 91.2C99.3 89.6 97.4 87.6 94.9 86.2C94.3 89.0 94.8 91.8 97.3 91.2Z" fill="#78bc30"/>
<path d="M77.5 93.5C80.1 94.4 80.9 91.4 80.7 88.2C77.8 89.4 75.5 91.5 77.5 93.5Z" fill="#9cd848"/>
<path d="M84.2 64.2C85.3 66.2 87.5 64.8 89.2 62.7C86.6 61.8 84.0 61.9 84.2 64.2Z" fill="#66aa28"/>
<path d="M89.5 73.7C91.8 72.0 89.8 69.6 87.1 68.0C86.4 71.1 86.7 74.2 89.5 73.7Z" fill="#86c834"/>
<path d="M86.8 95.3C85.0 93.8 83.8 95.8 83.3 98.2C85.7 98.1 87.9 97.3 86.8 95.3Z" fill="#8ed03c"/>
<path d="M94.4 106.9C97.8 107.2 97.7 103.9 96.4 100.6C93.5 102.5 91.5 105.2 94.4 106.9Z" fill="#5c9e24"/>
<path d="M90.4 105.9C92.0 104.2 89.9 102.6 87.4 101.7C87.4 104.4 88.3 106.8 90.4 105.9Z" fill="#78bc30"/>
<path d="M89.8 100.8C90.4 98.1 87.7 97.8 84.9 98.4C86.2 101.0 88.1 102.9 89.8 100.8Z" fill="#8ed03c"/>
<path d="M104.8 62.8C102.2 62.6 102.1 65.5 103.1 68.3C105.5 66.5 107.1 64.1 104.8 62.8Z" fill="#66aa28"/>
<path d="M78.4 93.0C76.4 90.6 74.2 92.9 72.9 96.0C76.2 96.6 79.4 96.0 78.4 93.0Z" fill="#62a626"/>
<path d="M83.2 105.0C85.4 104.6 84.7 102.4 83.2 100.5C81.6 102.4 80.9 104.6 83.2 105.0Z" fill="#78bc30"/>
<path d="M96.1 67.9C94.9 65.5 92.6 67.0 90.8 69.2C93.4 70.4 96.2 70.6 96.1 67.9Z" fill="#62a626"/>
<path d="M96.0 86.9C97.7 85.3 95.9 83.4 93.5 82.1C93.2 84.8 93.8 87.5 96.0 86.9Z" fill="#62a626"/>
<path d="M82.7 83.4C80.6 84.5 81.9 86.9 83.9 88.9C84.9 86.3 85.1 83.5 82.7 83.4Z" fill="#86c834"/>
<path d="M87.0 119.8C84.6 120.7 85.8 123.1 87.8 125.0C89.2 122.6 89.6 119.9 87.0 119.8Z" fill="#8ed03c"/>
<path d="M88.9 87.3C87.4 85.5 85.9 87.1 84.9 89.3C87.3 89.8 89.5 89.5 88.9 87.3Z" fill="#94d440"/>
<path d="M82.0 81.0C84.3 82.4 85.5 79.8 85.9 76.8C83.0 77.4 80.5 78.8 82.0 81.0Z" fill="#8ed03c"/>
<path d="M75.3 101.8C76.9 100.0 74.9 98.5 72.4 97.8C72.3 100.4 73.0 102.8 75.3 101.8Z" fill="#a8de54"/>
<path d="M88.8 91.5C90.8 93.0 92.5 90.6 93.3 87.7C90.4 88.1 87.7 89.3 88.8 91.5Z" fill="#66aa28"/>
<path d="M89.5 93.1C86.3 92.3 85.9 95.5 86.7 98.8C89.8 97.3 92.0 95.0 89.5 93.1Z" fill="#8ed03c"/>
<path d="M89.4 86.7C88.7 84.7 86.6 85.6 84.8 87.2C86.9 88.4 89.2 88.7 89.4 86.7Z" fill="#9cd848"/>
<path d="M72.3 70.0C69.2 69.5 68.9 72.9 69.7 76.3C72.7 74.4 74.8 71.8 72.3 70.0Z" fill="#94d440"/>
<path d="M77.5 65.3C75.2 67.4 77.5 69.4 80.5 70.5C81.0 67.3 80.3 64.4 77.5 65.3Z" fill="#5c9e24"/>
<path d="M85.6 105.3C83.7 104.4 82.9 106.7 82.9 109.1C85.2 108.3 87.0 106.9 85.6 105.3Z" fill="#9cd848"/>
<path d="M85.1 90.6C87.3 90.7 87.4 88.2 86.6 85.7C84.5 87.3 83.1 89.4 85.1 90.6Z" fill="#62a626"/>
<path d="M91.7 107.2C92.0 109.8 94.9 109.2 97.6 107.7C95.2 105.7 92.5 104.6 91.7 107.2Z" fill="#94d440"/>
<path d="M78.8 87.1C81.3 88.1 82.0 85.4 81.7 82.6C79.0 83.5 76.9 85.3 78.8 87.1Z" fill="#8ed03c"/>
<path d="M85.5 79.1C88.2 79.1 87.8 76.5 86.5 74.0C84.3 75.8 83.0 78.1 85.5 79.1Z" fill="#78bc30"/>
<path d="M78.5 116.8C80.0 119.0 82.0 117.2 83.2 114.7C80.5 114.0 77.8 114.2 78.5 116.8Z" fill="#94d440"/>
<path d="M98.4 76.5C100.6 78.1 102.0 75.6 102.6 72.6C99.6 72.9 97.0 74.2 98.4 76.5Z" fill="#70b42c"/>
<path d="M89.5 87.1C87.4 85.8 85.9 88.2 85.2 91.0C88.1 90.6 90.7 89.3 89.5 87.1Z" fill="#8ed03c"/>
<path d="M71.0 111.6C68.9 110.7 68.2 113.0 68.2 115.5C70.7 114.8 72.6 113.3 71.0 111.6Z" fill="#a8de54"/>
<path d="M69.3 68.3C72.4 68.0 71.7 65.1 69.9 62.4C67.6 64.7 66.4 67.4 69.3 68.3Z" fill="#78bc30"/>
<path d="M93.0 121.7C95.4 122.6 96.2 119.9 96.1 117.0C93.4 118.1 91.3 119.9 93.0 121.7Z" fill="#70b42c"/>
<path d="M90.5 71.6C90.0 69.3 87.7 70.0 85.8 71.5C87.7 73.1 90.0 73.8 90.5 71.6Z" fill="#78bc30"/>
<path d="M105.4 69.5C105.6 66.5 102.7 66.8 99.8 68.1C101.7 70.6 104.1 72.2 105.4 69.5Z" fill="#8ed03c"/>
<path d="M105.7 81.0C106.9 78.3 104.2 77.5 101.1 77.8C102.0 80.7 103.7 83.0 105.7 81.0Z" fill="#8ed03c"/>
<path d="M83.8 65.6C81.1 65.5 81.2 68.7 82.2 71.7C84.6 69.6 86.2 66.8 83.8 65.6Z" fill="#66aa28"/>
<path d="M88.4 109.7C87.0 111.1 88.7 112.8 91.0 113.8C91.1 111.4 90.4 109.0 88.4 109.7Z" fill="#94d440"/>
<path d="M74.5 90.2C71.6 89.6 71.2 92.9 71.8 96.3C74.8 94.5 76.9 92.0 74.5 90.2Z" fill="#66aa28"/>
<path d="M96.7 58.6C96.7 61.9 100.1 61.6 103.3 60.1C101.0 57.4 98.1 55.6 96.7 58.6Z" fill="#78bc30"/>
<path d="M107.8 84.5C106.5 82.1 104.0 83.8 102.1 86.2C105.0 87.2 108.0 87.2 107.8 84.5Z" fill="#9cd848"/>
<path d="M74.0 117.1C74.9 114.7 72.4 114.0 69.7 114.3C70.6 116.9 72.2 118.9 74.0 117.1Z" fill="#94d440"/>
<path d="M78.5 59.0C76.0 57.6 74.6 60.4 74.2 63.7C77.4 63.0 80.1 61.4 78.5 59.0Z" fill="#70b42c"/>
<path d="M76.3 84.4C78.8 84.1 78.3 81.2 76.9 78.6C75.1 80.9 74.0 83.6 76.3 84.4Z" fill="#86c834"/>
<path d="M89.7 90.5C89.9 87.4 86.6 87.5 83.4 88.7C85.5 91.4 88.3 93.2 89.7 90.5Z" fill="#5c9e24"/>
<path d="M98.5 112.7C98.1 110.5 95.6 111.0 93.4 112.3C95.4 114.0 97.8 114.8 98.5 112.7Z" fill="#5c9e24"/>
<path d="M88.2 71.6C90.3 73.0 91.8 70.5 92.3 67.7C89.5 68.1 86.9 69.5 88.2 71.6Z" fill="#78bc30"/>
<path d="M101.4 71.7C101.1 68.8 98.0 69.4 95.3 71.0C97.6 73.3 100.4 74.5 101.4 71.7Z" fill="#8ed03c"/>
<path d="M105.2 73.2C107.7 74.6 109.1 71.7 109.6 68.4C106.4 69.1 103.6 70.8 105.2 73.2Z" fill="#86c834"/>
<path d="M113.3 95.4C113.1 92.2 109.9 92.8 107.0 94.6C109.4 97.0 112.3 98.4 113.3 95.4Z" fill="#94d440"/>
<path d="M86.2 86.2C86.1 89.4 89.4 89.2 92.6 87.8C90.4 85.0 87.6 83.3 86.2 86.2Z" fill="#8ed03c"/>
<path d="M81.9 63.6C80.2 61.4 78.2 63.4 77.0 66.0C79.9 66.6 82.6 66.2 81.9 63.6Z" fill="#94d440"/>
<path d="M84.5 121.5C87.1 120.4 85.6 117.5 83.2 115.2C81.9 118.2 81.6 121.4 84.5 121.5Z" fill="#9cd848"/>
<path d="M103.2 76.9C101.4 76.0 100.4 78.1 100.2 80.4C102.5 79.8 104.4 78.6 103.2 76.9Z" fill="#86c834"/>
<path d="M107.6 75.1C106.1 77.6 108.9 78.8 112.0 79.0C111.4 75.9 109.9 73.3 107.6 75.1Z" fill="#8ed03c"/>
<path d="M97.9 71.5C97.7 73.9 100.0 73.7 102.3 72.7C100.8 70.7 98.9 69.5 97.9 71.5Z" fill="#62a626"/>
<path d="M71.5 63.4C72.7 65.6 74.7 64.1 76.1 62.0C73.7 61.1 71.3 61.0 71.5 63.4Z" fill="#8ed03c"/>
<path d="M68.3 81.9C67.0 84.4 69.9 85.6 73.0 85.8C72.2 82.7 70.4 80.2 68.3 81.9Z" fill="#70b42c"/>
<path d="M99.9 77.7C99.2 79.6 101.3 80.3 103.6 80.3C102.8 78.1 101.4 76.4 99.9 77.7Z" fill="#70b42c"/>
<path d="M107.2 67.6C109.9 66.5 108.5 63.7 106.1 61.4C104.6 64.3 104.2 67.5 107.2 67.6Z" fill="#94d440"/>
<path d="M99.2 72.9C100.1 75.5 102.7 74.3 104.9 72.2C102.2 70.6 99.4 70.0 99.2 72.9Z" fill="#94d440"/>
<path d="M98.7 108.3C96.1 108.7 96.7 111.4 98.3 113.9C100.2 111.7 101.2 109.0 98.7 108.3Z" fill="#a8de54"/>
<path d="M105.9 77.1C106.7 80.1 109.6 78.9 112.0 76.7C109.3 74.8 106.3 74.0 105.9 77.1Z" fill="#94d440"/>
<path d="M108.4 59.8C105.2 60.8 106.6 64.0 109.0 66.6C110.9 63.5 111.7 60.2 108.4 59.8Z" fill="#9cd848"/>
<path d="M101.9 81.7C102.2 84.1 104.9 83.7 107.5 82.4C105.3 80.5 102.7 79.5 101.9 81.7Z" fill="#94d440"/>
<path d="M69.0 76.9C65.9 77.3 66.7 80.3 68.7 83.0C70.9 80.6 72.0 77.7 69.0 76.9Z" fill="#9cd848"/>
<path d="M98.2 72.1C96.9 70.3 95.2 71.8 94.1 73.9C96.4 74.5 98.7 74.2 98.2 72.1Z" fill="#9cd848"/>
<path d="M70.2 106.8C72.8 107.4 73.3 104.4 72.8 101.5C70.2 102.9 68.2 105.1 70.2 106.8Z" fill="#94d440"/>
<path d="M73.7 108.2C71.7 106.6 69.9 109.0 68.8 111.9C71.9 111.7 74.7 110.5 73.7 108.2Z" fill="#8ed03c"/>
<path d="M88.7 76.7C85.9 78.1 87.7 80.7 90.4 82.7C91.7 79.6 91.9 76.4 88.7 76.7Z" fill="#8ed03c"/>
<path d="M68.4 63.8C71.0 62.9 69.8 60.3 67.7 58.2C66.1 60.8 65.6 63.6 68.4 63.8Z" fill="#78bc30"/>
<path d="M98.5 93.5C98.2 96.5 101.6 96.6 104.9 95.6C102.9 92.8 100.1 90.9 98.5 93.5Z" fill="#62a626"/>
<path d="M74.8 84.7C72.3 85.0 72.9 87.4 74.4 89.5C76.2 87.7 77.2 85.4 74.8 84.7Z" fill="#94d440"/>
<path d="M94.2 73.7C91.8 71.8 90.2 74.4 89.5 77.6C92.8 77.6 95.7 76.5 94.2 73.7Z" fill="#9cd848"/>
<path d="M82.0 68.8C80.1 66.5 77.8 68.7 76.2 71.7C79.5 72.2 82.7 71.6 82.0 68.8Z" fill="#a8de54"/>
<path d="M71.4 57.9C69.9 59.4 71.7 60.9 73.9 61.7C74.0 59.3 73.4 57.1 71.4 57.9Z" fill="#9cd848"/>
<path d="M103.0 91.2C105.0 92.6 106.1 90.5 106.4 88.0C103.9 88.1 101.7 89.1 103.0 91.2Z" fill="#8ed03c"/>
<path d="M104.3 58.4C102.9 60.0 104.8 61.6 107.2 62.4C107.2 59.9 106.3 57.5 104.3 58.4Z" fill="#94d440"/>
<path d="M97.9 78.0C95.6 78.5 96.4 80.7 98.0 82.5C99.5 80.6 100.2 78.4 97.9 78.0Z" fill="#86c834"/>
<path d="M103.7 80.3C101.2 81.4 102.6 83.9 104.9 85.8C106.1 83.1 106.4 80.3 103.7 80.3Z" fill="#a8de54"/>
<path d="M88.1 97.0C90.0 98.7 92.0 96.4 93.2 93.6C90.1 93.6 87.2 94.6 88.1 97.0Z" fill="#9cd848"/>
<path d="M76.6 118.1C78.8 117.3 77.8 114.9 76.0 112.8C74.7 115.2 74.3 117.9 76.6 118.1Z" fill="#66aa28"/>
<path d="M82.8 113.5C84.9 115.5 86.7 113.1 87.6 110.1C84.5 109.9 81.7 110.8 82.8 113.5Z" fill="#86c834"/>
<path d="M100.9 73.6C103.0 74.4 103.9 72.0 104.0 69.3C101.6 70.3 99.5 72.0 100.9 73.6Z" fill="#70b42c"/>
<path d="M95.0 92.8C96.2 90.6 93.8 89.6 91.0 89.3C91.6 92.0 93.0 94.3 95.0 92.8Z" fill="#86c834"/>
<path d="M82.5 65.6C82.1 63.7 79.9 64.1 78.0 65.4C79.8 66.8 81.9 67.6 82.5 65.6Z" fill="#94d440"/>
<path d="M86.8 103.1C87.5 100.7 85.0 100.2 82.3 100.6C83.4 103.1 85.1 105.0 86.8 103.1Z" fill="#86c834"/>
<path d="M96.2 108.7C99.2 109.3 99.6 106.2 98.8 102.9C95.9 104.5 93.7 106.8 96.2 108.7Z" fill="#8ed03c"/>
<path d="M73.6 79.8C71.9 77.5 69.5 79.6 67.9 82.4C71.1 83.1 74.2 82.6 73.6 79.8Z" fill="#8ed03c"/>
<path d="M105.3 60.0C103.2 58.6 101.7 61.1 101.1 63.9C104.0 63.5 106.5 62.2 105.3 60.0Z" fill="#78bc30"/>
<path d="M103.6 66.4C104.0 69.3 107.1 68.6 109.8 66.7C107.3 64.6 104.4 63.5 103.6 66.4Z" fill="#62a626"/>
<path d="M78.2 62.8C78.9 60.1 75.7 59.5 72.5 59.8C74.1 62.6 76.4 64.8 78.2 62.8Z" fill="#86c834"/>
<path d="M108.7 119.4C111.0 120.5 112.0 118.0 112.0 115.2C109.2 115.8 107.0 117.4 108.7 119.4Z" fill="#86c834"/>
<path d="M90.9 114.9C93.7 116.8 95.2 113.8 95.5 110.2C91.9 110.6 89.0 112.1 90.9 114.9Z" fill="#9cd848"/>
<path d="M100.4 70.8C102.9 70.4 102.3 67.7 100.7 65.3C98.9 67.5 98.0 70.1 100.4 70.8Z" fill="#a8de54"/>
<path d="M83.5 59.9C81.6 62.5 84.4 64.2 87.8 64.9C87.6 61.4 86.3 58.4 83.5 59.9Z" fill="#2f5218"/>
<path d="M104.2 83.9C101.7 83.0 100.9 85.9 101.0 89.0C103.8 87.8 106.1 85.7 104.2 83.9Z" fill="#9cd848"/>
<path d="M87.6 110.9C88.7 113.7 91.7 112.4 94.2 110.1C91.2 108.5 87.9 108.0 87.6 110.9Z" fill="#86c834"/>
<path d="M91.1 72.1C88.2 71.4 87.6 74.5 88.1 77.8C91.0 76.3 93.3 74.0 91.1 72.1Z" fill="#a8de54"/>
<path d="M97.7 80.5C99.9 79.7 98.8 77.7 96.9 76.1C95.7 78.2 95.3 80.5 97.7 80.5Z" fill="#8ed03c"/>
<path d="M82.5 113.2C83.7 111.3 81.6 110.2 79.2 109.9C79.5 112.4 80.5 114.5 82.5 113.2Z" fill="#9cd848"/>
<path d="M107.4 112.9C105.1 113.4 105.9 115.6 107.5 117.5C109.0 115.5 109.7 113.3 107.4 112.9Z" fill="#66aa28"/>
<path d="M110.6 83.8C111.9 81.8 109.4 80.4 106.7 79.8C107.2 82.6 108.5 85.0 110.6 83.8Z" fill="#70b42c"/>
<path d="M73.2 74.0C70.7 72.8 69.4 75.8 69.2 79.0C72.3 78.0 74.9 76.1 73.2 74.0Z" fill="#9cd848"/>
<path d="M87.2 96.2C89.5 97.1 90.2 94.5 90.0 91.8C87.5 92.8 85.5 94.5 87.2 96.2Z" fill="#70b42c"/>
<path d="M72.0 76.7C70.3 78.8 72.7 80.6 75.6 81.5C75.5 78.5 74.4 75.7 72.0 76.7Z" fill="#a8de54"/>
<path d="M77.6 118.3C75.0 117.1 74.1 119.9 74.3 123.0C77.2 122.1 79.5 120.3 77.6 118.3Z" fill="#a8de54"/>
<path d="M88.7 120.7C86.3 120.4 86.4 122.8 87.3 125.1C89.4 123.7 90.7 121.9 88.7 120.7Z" fill="#8ed03c"/>
<path d="M83.3 78.0C86.1 77.2 84.9 74.2 82.9 71.7C81.2 74.5 80.6 77.6 83.3 78.0Z" fill="#70b42c"/>
<path d="M97.5 76.0C100.2 74.6 98.4 71.8 95.7 69.7C94.5 72.9 94.5 76.2 97.5 76.0Z" fill="#8ed03c"/>
<path d="M75.1 114.2C74.6 111.0 71.5 112.0 68.8 114.0C71.4 116.2 74.4 117.3 75.1 114.2Z" fill="#9cd848"/>
<path d="M92.1 84.6C91.0 86.6 93.1 87.5 95.6 87.6C95.1 85.2 93.9 83.2 92.1 84.6Z" fill="#9cd848"/>
<path d="M95.2 111.2C98.1 110.7 97.4 107.5 95.6 104.7C93.5 107.3 92.4 110.4 95.2 111.2Z" fill="#5c9e24"/>
<path d="M99.5 63.5C98.2 65.3 100.1 66.5 102.5 66.9C102.3 64.5 101.5 62.4 99.5 63.5Z" fill="#a8de54"/>
<path d="M109.9 81.0C108.5 77.9 105.8 79.7 103.7 82.5C106.8 84.0 110.0 84.3 109.9 81.0Z" fill="#a8de54"/>
<path d="M107.8 56.5C107.8 54.3 105.6 54.5 103.4 55.5C105.0 57.3 106.9 58.5 107.8 56.5Z" fill="#94d440"/>
<path d="M103.4 84.4C100.4 83.7 100.0 87.0 100.7 90.3C103.7 88.7 105.9 86.2 103.4 84.4Z" fill="#9cd848"/>
<path d="M96.9 65.9C95.6 63.3 93.2 64.9 91.3 67.4C94.1 68.6 97.1 68.8 96.9 65.9Z" fill="#8ed03c"/>
<path d="M95.1 59.8C96.1 58.2 94.2 57.0 92.0 56.5C92.4 58.7 93.5 60.7 95.1 59.8Z" fill="#8ed03c"/>
<path d="M70.9 123.8C72.2 126.3 74.9 124.7 77.0 122.1C73.9 121.0 70.7 120.9 70.9 123.8Z" fill="#94d440"/>
<path d="M72.3 65.2C70.5 64.1 69.5 66.1 69.2 68.4C71.6 68.1 73.5 67.0 72.3 65.2Z" fill="#86c834"/>
<path d="M89.4 87.6C89.8 84.9 86.8 84.7 83.8 85.5C85.5 88.1 87.8 90.0 89.4 87.6Z" fill="#66aa28"/>
<path d="M85.1 71.9C87.1 72.1 87.2 69.9 86.5 67.6C84.6 69.0 83.3 70.8 85.1 71.9Z" fill="#78bc30"/>
<path d="M96.4 93.3C97.4 91.1 94.8 90.2 92.1 90.1C92.9 92.7 94.5 94.9 96.4 93.3Z" fill="#66aa28"/>
<path d="M86.3 91.5C83.7 91.1 83.2 94.1 83.7 97.1C86.4 95.5 88.3 93.1 86.3 91.5Z" fill="#8ed03c"/>
<path d="M95.6 73.2C93.8 74.5 95.3 76.4 97.4 77.8C98.0 75.3 97.7 72.9 95.6 73.2Z" fill="#a8de54"/>
<path d="M106.5 115.2C106.5 112.5 103.6 112.7 100.7 113.9C102.8 116.2 105.4 117.6 106.5 115.2Z" fill="#8ed03c"/>
<path d="M102.9 57.8C103.8 59.8 106.1 58.7 107.9 56.9C105.6 55.8 103.1 55.5 102.9 57.8Z" fill="#8ed03c"/>
<path d="M97.4 83.7C97.9 86.9 101.1 86.0 104.0 84.0C101.3 81.7 98.2 80.5 97.4 83.7Z" fill="#62a626"/>
<path d="M99.6 109.0C101.4 107.1 99.2 105.1 96.3 104.0C96.3 107.0 97.2 109.9 99.6 109.0Z" fill="#70b42c"/>
<path d="M90.0 83.4C87.4 85.3 89.6 87.9 92.7 89.6C93.6 86.1 93.2 82.7 90.0 83.4Z" fill="#94d440"/>
<path d="M97.4 86.5C95.2 84.5 93.4 86.9 92.5 90.1C95.7 90.2 98.7 89.3 97.4 86.5Z" fill="#a8de54"/>
<path d="M95.4 70.1C92.9 71.9 95.1 74.5 98.0 76.2C98.8 72.9 98.4 69.6 95.4 70.1Z" fill="#8ed03c"/>
<path d="M91.6 110.8C88.8 111.5 89.8 114.1 91.8 116.4C93.7 114.0 94.5 111.3 91.6 110.8Z" fill="#62a626"/>
<path d="M97.9 61.7C98.0 59.4 95.5 59.4 93.0 60.3C94.6 62.4 96.8 63.7 97.9 61.7Z" fill="#a8de54"/>
<path d="M109.3 114.4C106.8 115.3 107.9 118.3 109.9 120.9C111.5 118.0 112.0 114.8 109.3 114.4Z" fill="#a8de54"/>
<path d="M85.5 71.4C83.9 72.6 85.4 74.5 87.4 75.9C87.9 73.5 87.6 71.0 85.5 71.4Z" fill="#94d440"/>
<path d="M92.5 67.0C95.1 64.9 92.6 62.6 89.3 61.2C88.7 64.7 89.4 68.0 92.5 67.0Z" fill="#5c9e24"/>
<path d="M88.7 67.1C86.3 67.5 87.0 70.0 88.5 72.1C90.3 70.1 91.2 67.7 88.7 67.1Z" fill="#8ed03c"/>
<path d="M77.6 73.5C75.6 72.9 75.0 75.2 75.2 77.6C77.4 76.5 79.0 74.9 77.6 73.5Z" fill="#86c834"/>
<path d="M104.8 93.5C102.2 91.9 101.0 94.6 100.9 97.7C104.0 97.3 106.5 95.9 104.8 93.5Z" fill="#66aa28"/>
<path d="M73.5 88.6C72.1 86.8 70.0 88.4 68.6 90.7C71.2 91.2 73.9 90.9 73.5 88.6Z" fill="#8ed03c"/>
<path d="M86.8 70.4C86.5 67.8 83.5 68.2 80.6 69.6C83.0 71.6 85.9 72.8 86.8 70.4Z" fill="#9cd848"/>
<path d="M101.9 59.6C99.6 60.7 101.0 63.1 103.2 64.9C104.3 62.3 104.5 59.6 101.9 59.6Z" fill="#86c834"/>
<path d="M75.6 109.3C74.9 106.8 72.2 107.8 70.0 109.7C72.5 111.3 75.2 111.9 75.6 109.3Z" fill="#9cd848"/>
<path d="M102.2 98.4C100.6 96.4 98.6 98.2 97.3 100.8C100.1 101.3 102.8 101.0 102.2 98.4Z" fill="#8ed03c"/>
<path d="M78.1 87.4C77.1 89.6 79.6 90.5 82.4 90.5C81.5 87.9 79.9 85.8 78.1 87.4Z" fill="#86c834"/>
<path d="M88.0 85.0C86.0 86.4 87.7 88.5 90.1 90.0C90.7 87.3 90.4 84.6 88.0 85.0Z" fill="#5c9e24"/>
<path d="M72.0 64.8C72.5 62.7 70.2 62.4 67.8 62.8C69.0 64.9 70.7 66.4 72.0 64.8Z" fill="#5c9e24"/>
<path d="M100.6 55.3C97.8 54.7 97.2 57.9 97.6 61.3C100.5 59.6 102.7 57.1 100.6 55.3Z" fill="#8ed03c"/>
<path d="M80.8 103.7C78.8 103.1 78.4 105.3 78.7 107.6C80.8 106.6 82.3 105.0 80.8 103.7Z" fill="#86c834"/>
<path d="M68.3 102.4C70.0 104.5 72.1 102.5 73.5 99.8C70.5 99.2 67.6 99.7 68.3 102.4Z" fill="#3a621c"/>
<path d="M103.0 105.9C105.6 105.2 104.6 102.5 102.7 100.1C101.1 102.6 100.4 105.5 103.0 105.9Z" fill="#86c834"/>
<path d="M97.1 63.0C94.2 62.2 93.9 65.1 94.6 68.1C97.4 66.8 99.4 64.7 97.1 63.0Z" fill="#a8de54"/>
<path d="M72.3 107.2C74.8 106.9 74.3 104.1 72.9 101.6C71.0 103.8 70.0 106.4 72.3 107.2Z" fill="#a8de54"/>
<path d="M94.3 78.9C94.0 81.4 96.5 81.3 99.0 80.3C97.5 78.1 95.5 76.7 94.3 78.9Z" fill="#62a626"/>
<path d="M78.7 114.0C78.7 111.8 76.4 112.1 74.3 113.3C75.9 115.1 77.9 116.1 78.7 114.0Z" fill="#8ed03c"/>
<path d="M87.8 60.8C89.7 58.9 87.4 56.9 84.5 55.7C84.4 58.8 85.3 61.7 87.8 60.8Z" fill="#9cd848"/>
<path d="M87.9 67.1C85.9 66.9 85.7 69.2 86.3 71.5C88.2 70.1 89.6 68.2 87.9 67.1Z" fill="#a8de54"/>
<path d="M75.1 61.1C75.0 58.1 71.8 58.6 68.9 60.1C71.2 62.5 74.0 63.9 75.1 61.1Z" fill="#a8de54"/>
<path d="M93.7 87.2C92.6 85.0 90.3 86.3 88.5 88.4C91.1 89.5 93.7 89.7 93.7 87.2Z" fill="#8ed03c"/>
<path d="M91.5 102.6C93.6 101.0 91.7 98.9 89.1 97.6C88.5 100.5 89.0 103.3 91.5 102.6Z" fill="#8ed03c"/>
<path d="M94.8 63.6C96.8 61.6 94.4 59.5 91.5 58.3C91.3 61.5 92.1 64.5 94.8 63.6Z" fill="#70b42c"/>
<path d="M94.6 60.8C93.7 58.6 91.3 59.8 89.3 61.7C91.8 62.8 94.4 63.2 94.6 60.8Z" fill="#a8de54"/>
<path d="M90.3 117.4C88.2 118.3 89.3 120.5 91.1 122.2C92.3 120.0 92.6 117.5 90.3 117.4Z" fill="#66aa28"/>
<path d="M100.0 108.7C98.0 106.2 95.7 108.5 94.2 111.7C97.6 112.3 100.8 111.8 100.0 108.7Z" fill="#66aa28"/>
<path d="M100.7 64.4C102.3 65.7 103.7 63.7 104.5 61.4C102.1 61.7 99.9 62.6 100.7 64.4Z" fill="#94d440"/>
<path d="M75.4 70.0C74.8 67.3 71.7 68.2 69.1 70.0C71.7 71.9 74.8 72.8 75.4 70.0Z" fill="#94d440"/>
<path d="M86.7 72.9C89.1 73.8 90.1 71.0 90.1 68.0C87.3 69.1 85.0 71.0 86.7 72.9Z" fill="#78bc30"/>
<path d="M75.2 73.1C76.5 76.1 79.4 74.4 81.6 71.7C78.5 70.2 75.1 69.8 75.2 73.1Z" fill="#78bc30"/>
<path d="M102.0 76.7C102.2 73.8 99.3 73.9 96.4 75.0C98.2 77.5 100.6 79.2 102.0 76.7Z" fill="#8ed03c"/>
<path d="M78.9 79.1C77.2 80.1 78.5 82.0 80.4 83.4C81.1 81.1 81.0 78.9 78.9 79.1Z" fill="#9cd848"/>
<path d="M92.1 111.9C92.9 108.7 89.7 108.3 86.4 109.0C87.8 112.1 90.1 114.4 92.1 111.9Z" fill="#70b42c"/>
<path d="M91.0 102.8C93.7 104.2 95.1 101.2 95.4 97.7C92.0 98.5 89.1 100.3 91.0 102.8Z" fill="#a8de54"/>
<path d="M79.4 74.2C76.8 75.0 77.9 77.6 80.0 79.8C81.6 77.3 82.2 74.5 79.4 74.2Z" fill="#62a626"/>
<path d="M75.1 115.3C73.8 114.0 72.3 115.6 71.3 117.7C73.6 117.8 75.8 117.2 75.1 115.3Z" fill="#8ed03c"/>
<path d="M95.5 106.0C93.7 104.9 92.4 107.1 91.8 109.6C94.4 109.1 96.6 107.9 95.5 106.0Z" fill="#8ed03c"/>
<path d="M93.0 58.0C95.1 59.2 95.9 57.0 95.9 54.5C93.4 55.0 91.5 56.2 93.0 58.0Z" fill="#86c834"/>
<path d="M107.4 99.1C109.6 101.0 111.5 98.4 112.5 95.2C109.2 95.3 106.2 96.5 107.4 99.1Z" fill="#9cd848"/>
<path d="M72.3 67.0C70.8 65.1 69.2 66.8 68.1 69.1C70.6 69.6 73.0 69.3 72.3 67.0Z" fill="#66aa28"/>
<path d="M80.3 70.0C78.9 68.0 76.6 69.7 75.0 72.0C77.8 72.6 80.6 72.4 80.3 70.0Z" fill="#78bc30"/>
<path d="M95.7 90.9C95.7 87.6 92.4 88.0 89.2 89.6C91.5 92.3 94.4 94.0 95.7 90.9Z" fill="#9cd848"/>
<path d="M105.6 112.4C104.4 110.5 102.7 111.9 101.5 114.0C103.8 114.7 106.0 114.6 105.6 112.4Z" fill="#8ed03c"/>
<path d="M100.9 79.7C101.9 76.7 98.8 76.1 95.5 76.6C96.7 79.8 98.8 82.1 100.9 79.7Z" fill="#94d440"/>
<path d="M90.8 71.2C90.6 74.0 93.9 74.1 97.1 73.2C95.0 70.6 92.2 68.8 90.8 71.2Z" fill="#9cd848"/>
<path d="M79.5 69.4C77.2 71.2 79.3 73.6 82.2 75.2C82.8 71.9 82.4 68.7 79.5 69.4Z" fill="#70b42c"/>
<path d="M65.6 91.1C65.3 93.8 68.1 93.8 70.8 92.7C69.2 90.2 66.9 88.6 65.6 91.1Z" fill="#9cd848"/>
<path d="M95.5 83.1C97.6 84.2 98.5 81.8 98.7 79.1C96.1 79.8 94.0 81.3 95.5 83.1Z" fill="#9cd848"/>
<path d="M88.9 64.4C86.8 65.2 87.9 67.4 89.7 69.3C90.8 67.0 91.1 64.5 88.9 64.4Z" fill="#a8de54"/>
<path d="M84.3 121.1C84.8 117.9 81.6 117.8 78.4 119.0C80.1 121.9 82.6 123.8 84.3 121.1Z" fill="#a8de54"/>
<path d="M72.0 69.3C73.6 67.9 71.9 66.3 69.8 65.2C69.5 67.6 70.1 69.9 72.0 69.3Z" fill="#66aa28"/>
<path d="M88.8 90.3C86.3 89.0 85.1 91.8 84.9 94.9C87.9 94.2 90.5 92.6 88.8 90.3Z" fill="#94d440"/>
<path d="M81.6 83.8C83.7 82.2 81.7 79.8 79.0 78.1C78.5 81.2 79.0 84.3 81.6 83.8Z" fill="#86c834"/>
<path d="M109.6 102.4C107.5 102.1 107.3 104.5 107.9 106.9C109.9 105.5 111.4 103.6 109.6 102.4Z" fill="#a8de54"/>
<path d="M104.8 77.6C104.2 80.0 107.0 80.7 109.9 80.5C108.6 77.9 106.5 75.8 104.8 77.6Z" fill="#9cd848"/>
<path d="M85.9 99.9C87.8 101.6 89.7 99.3 90.8 96.5C87.8 96.5 84.9 97.6 85.9 99.9Z" fill="#8ed03c"/>
<path d="M73.1 108.3C69.8 107.7 69.7 111.0 70.8 114.3C73.9 112.5 75.9 110.0 73.1 108.3Z" fill="#8ed03c"/>
<path d="M103.4 109.9C100.8 108.0 99.2 110.9 98.6 114.3C102.0 114.0 105.0 112.6 103.4 109.9Z" fill="#94d440"/>
<path d="M83.1 64.3C85.2 66.0 86.6 63.7 87.2 60.9C84.3 61.0 81.9 62.0 83.1 64.3Z" fill="#94d440"/>
<path d="M98.2 75.1C95.6 74.6 95.3 77.3 96.1 80.0C98.6 78.7 100.4 76.6 98.2 75.1Z" fill="#a8de54"/>
<path d="M79.0 92.9C77.2 91.0 75.4 93.1 74.4 95.8C77.2 96.1 79.9 95.4 79.0 92.9Z" fill="#2f5218"/>
<path d="M77.3 113.4C75.3 114.5 76.7 116.8 78.7 118.5C79.5 115.9 79.5 113.3 77.3 113.4Z" fill="#8ed03c"/>
<path d="M82.5 82.9C80.1 84.3 81.8 86.6 84.3 88.2C85.2 85.4 85.2 82.6 82.5 82.9Z" fill="#86c834"/>
<path d="M73.3 74.8C71.4 73.5 70.3 75.7 69.9 78.1C72.4 77.8 74.5 76.7 73.3 74.8Z" fill="#70b42c"/>
<path d="M82.5 72.7C83.2 75.6 86.4 74.7 89.3 72.8C86.5 70.7 83.3 69.7 82.5 72.7Z" fill="#62a626"/>
<path d="M74.4 97.4C76.0 99.2 77.9 97.4 79.1 94.9C76.4 94.5 73.8 95.0 74.4 97.4Z" fill="#9cd848"/>
<path d="M78.3 110.6C80.9 112.5 82.6 109.6 83.2 106.2C79.7 106.4 76.7 107.8 78.3 110.6Z" fill="#a8de54"/>
<path d="M108.2 89.5C109.4 87.5 107.0 86.1 104.2 85.6C104.8 88.3 106.2 90.7 108.2 89.5Z" fill="#8ed03c"/>
<path d="M93.8 63.5C92.9 61.0 90.6 62.2 88.7 64.3C91.1 65.7 93.7 66.2 93.8 63.5Z" fill="#8ed03c"/>
<path d="M86.1 90.6C86.9 93.5 90.1 92.3 92.7 90.2C89.8 88.4 86.6 87.6 86.1 90.6Z" fill="#66aa28"/>
<path d="M92.6 100.8C93.4 103.7 96.3 102.7 98.8 100.6C96.1 98.7 93.1 97.9 92.6 100.8Z" fill="#9cd848"/>
<path d="M103.5 57.0C103.0 59.0 105.4 59.5 107.8 59.1C106.6 56.9 104.8 55.3 103.5 57.0Z" fill="#a8de54"/>
<path d="M102.9 72.7C105.5 73.3 105.7 70.6 105.1 67.9C102.5 69.2 100.7 71.2 102.9 72.7Z" fill="#5c9e24"/>
<path d="M87.8 92.7C85.6 93.3 86.4 95.8 88.0 97.9C89.4 95.7 90.0 93.2 87.8 92.7Z" fill="#9cd848"/>
<path d="M75.4 63.0C73.2 64.0 74.5 66.0 76.5 67.5C77.6 65.2 77.8 62.9 75.4 63.0Z" fill="#94d440"/>
<path d="M67.6 109.1C68.9 111.9 71.6 110.3 73.6 107.7C70.6 106.2 67.5 105.9 67.6 109.1Z" fill="#8ed03c"/>
<rect x="115.5" y="59.5" width="37.0" height="61.5" rx="2" fill="#17210c"/>
<path d="M143.3 78.5C145.4 79.6 146.3 77.3 146.5 74.6C143.9 75.2 141.8 76.6 143.3 78.5Z" fill="#5c9e24"/>
<path d="M143.7 102.0C141.0 102.8 142.0 105.7 143.9 108.3C145.7 105.6 146.5 102.6 143.7 102.0Z" fill="#94d440"/>
<path d="M149.4 93.3C151.5 94.3 152.2 92.1 152.2 89.6C149.7 90.2 147.8 91.5 149.4 93.3Z" fill="#9cd848"/>
<path d="M126.0 76.1C124.0 77.6 125.8 79.8 128.3 81.2C128.9 78.4 128.5 75.6 126.0 76.1Z" fill="#94d440"/>
<path d="M141.3 81.8C140.0 84.6 143.0 85.8 146.4 86.0C145.6 82.7 143.7 79.9 141.3 81.8Z" fill="#86c834"/>
<path d="M120.7 78.2C120.7 80.4 123.0 80.2 125.3 79.2C123.7 77.3 121.6 76.1 120.7 78.2Z" fill="#9cd848"/>
<path d="M129.2 65.4C130.4 62.2 127.1 61.5 123.6 62.0C124.8 65.3 127.0 67.9 129.2 65.4Z" fill="#8ed03c"/>
<path d="M123.8 103.4C121.0 101.9 119.8 105.0 119.7 108.4C123.1 107.6 125.8 105.8 123.8 103.4Z" fill="#86c834"/>
<path d="M138.3 117.7C140.0 116.2 138.2 114.3 135.9 113.0C135.6 115.7 136.2 118.2 138.3 117.7Z" fill="#a8de54"/>
<path d="M140.1 60.0C142.3 57.8 139.8 55.7 136.5 54.6C136.3 58.0 137.1 61.2 140.1 60.0Z" fill="#86c834"/>
<path d="M143.8 108.1C143.5 110.8 146.6 111.0 149.7 110.1C147.8 107.6 145.2 105.8 143.8 108.1Z" fill="#70b42c"/>
<path d="M142.2 92.2C142.6 89.9 140.0 89.6 137.3 90.0C138.7 92.3 140.8 94.0 142.2 92.2Z" fill="#3a621c"/>
<path d="M124.8 120.6C127.0 119.6 125.7 117.5 123.6 116.0C122.5 118.3 122.3 120.8 124.8 120.6Z" fill="#9cd848"/>
<path d="M133.6 58.7C132.3 57.1 130.7 58.5 129.5 60.6C131.8 61.0 134.0 60.7 133.6 58.7Z" fill="#9cd848"/>
<path d="M116.4 102.9C116.4 105.1 118.8 104.9 121.1 103.9C119.4 102.0 117.3 100.9 116.4 102.9Z" fill="#66aa28"/>
<path d="M127.0 81.0C124.8 80.6 124.5 83.0 125.0 85.5C127.1 84.2 128.7 82.3 127.0 81.0Z" fill="#8ed03c"/>
<path d="M131.6 87.1C130.0 84.4 127.6 86.3 125.8 89.1C128.9 90.1 132.0 90.1 131.6 87.1Z" fill="#66aa28"/>
<path d="M123.9 99.6C122.6 97.5 120.3 99.1 118.6 101.3C121.3 102.1 124.1 101.9 123.9 99.6Z" fill="#70b42c"/>
<path d="M151.9 93.1C151.1 95.4 153.6 96.1 156.3 95.9C155.3 93.3 153.6 91.3 151.9 93.1Z" fill="#a8de54"/>
<path d="M136.9 95.8C139.4 95.6 139.0 92.8 137.7 90.3C135.7 92.4 134.5 94.9 136.9 95.8Z" fill="#a8de54"/>
<path d="M120.7 72.9C119.2 75.1 121.8 76.6 124.7 77.2C124.3 74.2 123.0 71.5 120.7 72.9Z" fill="#70b42c"/>
<path d="M123.2 95.1C125.2 96.6 126.9 94.2 127.8 91.4C124.8 91.7 122.2 92.8 123.2 95.1Z" fill="#a8de54"/>
<path d="M126.8 94.9C129.6 94.7 129.0 91.9 127.4 89.3C125.3 91.5 124.2 94.1 126.8 94.9Z" fill="#a8de54"/>
<path d="M123.3 111.5C121.8 108.8 119.0 110.6 116.9 113.3C120.1 114.5 123.4 114.5 123.3 111.5Z" fill="#9cd848"/>
<path d="M140.1 71.1C137.2 70.3 136.5 73.5 136.8 76.9C139.8 75.4 142.2 73.1 140.1 71.1Z" fill="#94d440"/>
<path d="M147.8 64.3C145.0 63.9 144.6 67.2 145.4 70.5C148.1 68.6 150.1 65.9 147.8 64.3Z" fill="#a8de54"/>
<path d="M147.9 110.9C146.6 108.6 144.0 110.3 142.1 112.7C145.1 113.6 148.1 113.6 147.9 110.9Z" fill="#70b42c"/>
<path d="M121.7 71.0C122.4 74.0 125.3 72.9 127.7 70.8C125.1 68.9 122.2 68.1 121.7 71.0Z" fill="#86c834"/>
<path d="M123.5 58.1C121.5 56.6 120.0 58.8 119.3 61.5C122.1 61.3 124.6 60.3 123.5 58.1Z" fill="#86c834"/>
<path d="M147.6 73.1C149.5 70.6 146.7 69.0 143.3 68.4C143.6 71.8 144.9 74.8 147.6 73.1Z" fill="#2f5218"/>
<path d="M138.0 109.8C136.0 111.0 137.4 112.8 139.5 114.2C140.4 111.8 140.4 109.5 138.0 109.8Z" fill="#8ed03c"/>
<path d="M155.2 122.2C156.0 119.2 152.8 118.5 149.3 119.0C150.8 122.2 153.1 124.5 155.2 122.2Z" fill="#9cd848"/>
<path d="M144.5 114.2C145.5 111.8 142.8 110.8 139.8 110.9C140.8 113.7 142.6 115.9 144.5 114.2Z" fill="#9cd848"/>
<path d="M151.2 94.5C152.0 92.2 149.7 91.7 147.1 92.2C148.1 94.6 149.7 96.3 151.2 94.5Z" fill="#5c9e24"/>
<path d="M136.3 108.3C134.0 107.8 133.5 110.4 133.9 113.1C136.3 111.8 138.1 109.8 136.3 108.3Z" fill="#8ed03c"/>
<path d="M118.5 120.2C117.4 117.9 114.7 119.3 112.5 121.5C115.4 122.6 118.5 122.8 118.5 120.2Z" fill="#70b42c"/>
<path d="M132.9 87.9C134.4 85.9 132.2 84.6 129.7 84.1C129.8 86.7 130.8 89.0 132.9 87.9Z" fill="#a8de54"/>
<path d="M130.0 124.6C133.4 124.9 133.3 121.5 131.9 118.1C128.9 120.2 126.9 123.0 130.0 124.6Z" fill="#8ed03c"/>
<path d="M135.6 85.2C135.8 83.0 133.3 82.8 130.8 83.5C132.3 85.6 134.4 87.1 135.6 85.2Z" fill="#78bc30"/>
<path d="M129.1 68.5C128.1 66.0 125.2 67.2 122.7 69.3C125.6 70.7 128.8 71.2 129.1 68.5Z" fill="#8ed03c"/>
<path d="M129.8 87.7C127.1 87.9 127.6 90.6 129.2 93.1C131.3 91.1 132.4 88.6 129.8 87.7Z" fill="#5c9e24"/>
<path d="M126.2 62.9C125.9 65.8 128.7 65.7 131.5 64.5C129.8 62.0 127.5 60.4 126.2 62.9Z" fill="#a8de54"/>
<path d="M138.1 89.4C140.8 87.9 139.1 85.2 136.4 83.1C135.2 86.3 135.1 89.6 138.1 89.4Z" fill="#9cd848"/>
<path d="M130.0 112.1C130.0 115.1 132.9 114.7 135.6 113.2C133.6 110.8 131.1 109.4 130.0 112.1Z" fill="#5c9e24"/>
<path d="M125.1 63.5C127.5 62.4 126.2 59.6 124.1 57.2C122.8 60.1 122.5 63.3 125.1 63.5Z" fill="#66aa28"/>
<path d="M123.0 108.8C121.3 107.3 119.9 109.2 119.2 111.5C121.7 111.6 123.9 110.9 123.0 108.8Z" fill="#66aa28"/>
<path d="M138.7 68.3C140.7 68.2 140.5 65.8 139.6 63.7C138.0 65.4 137.0 67.5 138.7 68.3Z" fill="#5c9e24"/>
<path d="M146.3 111.5C148.2 110.2 146.6 108.1 144.4 106.6C143.8 109.2 144.0 111.8 146.3 111.5Z" fill="#86c834"/>
<path d="M125.0 97.9C123.5 99.4 125.3 101.1 127.5 102.1C127.6 99.7 127.0 97.3 125.0 97.9Z" fill="#a8de54"/>
<path d="M144.8 119.6C147.9 119.3 147.1 116.4 145.3 113.7C143.1 116.1 141.9 118.8 144.8 119.6Z" fill="#66aa28"/>
<path d="M148.5 92.1C150.7 93.3 151.7 90.9 151.9 88.2C149.2 88.7 146.9 90.0 148.5 92.1Z" fill="#94d440"/>
<path d="M117.3 106.7C118.2 109.0 120.4 107.8 122.1 105.9C119.8 104.6 117.4 104.2 117.3 106.7Z" fill="#94d440"/>
<path d="M139.4 57.7C137.4 56.6 136.2 59.0 135.9 61.7C138.5 61.1 140.8 59.6 139.4 57.7Z" fill="#a8de54"/>
<path d="M113.5 110.2C115.2 112.7 117.9 110.8 119.8 108.0C116.5 107.0 113.2 107.2 113.5 110.2Z" fill="#5c9e24"/>
<path d="M121.2 96.9C121.9 98.9 124.2 98.0 126.1 96.5C123.9 95.2 121.5 94.8 121.2 96.9Z" fill="#a8de54"/>
<path d="M144.9 70.4C143.2 68.0 140.9 69.9 139.3 72.7C142.4 73.6 145.5 73.4 144.9 70.4Z" fill="#86c834"/>
<path d="M143.0 112.4C139.9 111.5 139.5 114.6 140.2 117.8C143.2 116.5 145.5 114.4 143.0 112.4Z" fill="#8ed03c"/>
<path d="M147.6 62.9C146.3 60.5 144.2 62.1 142.6 64.4C145.2 65.5 147.9 65.6 147.6 62.9Z" fill="#94d440"/>
<path d="M148.1 73.0C150.2 70.7 147.6 69.0 144.4 68.3C144.3 71.5 145.3 74.4 148.1 73.0Z" fill="#8ed03c"/>
<path d="M116.0 69.3C114.8 67.5 112.8 69.0 111.3 71.1C113.8 71.7 116.3 71.5 116.0 69.3Z" fill="#9cd848"/>
<path d="M113.3 86.8C112.7 88.6 114.8 89.3 117.1 89.2C116.2 87.1 114.7 85.5 113.3 86.8Z" fill="#94d440"/>
<path d="M141.8 74.9C143.8 74.6 143.3 72.2 142.2 70.1C140.7 72.0 139.9 74.3 141.8 74.9Z" fill="#94d440"/>
<path d="M128.8 88.0C129.3 85.1 126.3 85.0 123.3 85.9C124.9 88.6 127.2 90.4 128.8 88.0Z" fill="#78bc30"/>
<path d="M124.4 106.0C121.4 105.6 121.2 108.8 122.2 112.1C125.1 110.2 127.0 107.6 124.4 106.0Z" fill="#a8de54"/>
<path d="M150.1 105.0C148.2 103.3 146.7 105.5 146.0 108.2C148.8 108.2 151.3 107.3 150.1 105.0Z" fill="#a8de54"/>
<path d="M130.8 78.4C128.4 77.0 127.0 79.7 126.6 82.8C129.7 82.2 132.3 80.7 130.8 78.4Z" fill="#70b42c"/>
<path d="M115.0 109.4C113.8 112.0 116.5 112.9 119.5 112.8C118.7 109.9 117.1 107.6 115.0 109.4Z" fill="#70b42c"/>
<path d="M134.6 119.6C137.4 120.6 138.3 117.5 138.1 114.1C135.0 115.4 132.5 117.5 134.6 119.6Z" fill="#9cd848"/>
<path d="M133.1 68.3C135.1 70.7 137.4 68.3 138.8 65.1C135.4 64.6 132.1 65.3 133.1 68.3Z" fill="#8ed03c"/>
<path d="M127.5 76.8C129.5 79.1 131.5 76.9 132.7 73.9C129.6 73.3 126.6 73.8 127.5 76.8Z" fill="#8ed03c"/>
<path d="M122.5 118.0C120.9 116.3 119.3 118.1 118.5 120.5C121.0 120.7 123.3 120.2 122.5 118.0Z" fill="#62a626"/>
<path d="M126.2 118.6C126.1 116.2 123.3 116.4 120.7 117.6C122.7 119.6 125.2 120.9 126.2 118.6Z" fill="#5c9e24"/>
<path d="M146.0 86.0C144.5 87.2 146.0 88.9 147.9 90.1C148.2 87.8 147.8 85.6 146.0 86.0Z" fill="#86c834"/>
<path d="M146.5 81.8C149.1 81.7 148.7 79.0 147.4 76.5C145.4 78.4 144.1 80.8 146.5 81.8Z" fill="#86c834"/>
<path d="M133.9 79.0C134.6 81.7 137.1 80.7 139.3 78.7C136.9 77.0 134.3 76.2 133.9 79.0Z" fill="#62a626"/>
<path d="M156.7 90.3C156.1 87.6 153.3 88.6 151.0 90.5C153.5 92.3 156.3 93.1 156.7 90.3Z" fill="#a8de54"/>
<path d="M152.0 78.9C150.3 80.7 152.2 82.1 154.7 82.7C154.8 80.2 154.2 77.9 152.0 78.9Z" fill="#a8de54"/>
<path d="M120.0 72.7C120.5 70.5 118.3 70.3 115.9 70.9C117.0 73.0 118.7 74.6 120.0 72.7Z" fill="#9cd848"/>
<path d="M150.5 114.6C149.2 117.0 152.1 118.4 155.4 118.9C154.5 115.8 152.7 113.0 150.5 114.6Z" fill="#62a626"/>
<path d="M147.6 99.0C149.5 97.5 147.7 95.3 145.3 93.9C144.8 96.7 145.2 99.5 147.6 99.0Z" fill="#70b42c"/>
<path d="M119.3 79.6C119.2 82.4 122.3 82.3 125.2 81.1C123.2 78.7 120.6 77.1 119.3 79.6Z" fill="#66aa28"/>
<path d="M124.4 92.3C124.0 95.4 127.4 95.4 130.7 94.3C128.7 91.5 125.9 89.6 124.4 92.3Z" fill="#8ed03c"/>
<path d="M149.9 110.5C147.3 109.1 146.2 111.8 146.2 115.0C149.3 114.4 151.8 112.9 149.9 110.5Z" fill="#86c834"/>
<path d="M132.4 61.1C132.6 64.3 135.7 63.7 138.6 61.9C136.3 59.4 133.4 58.0 132.4 61.1Z" fill="#70b42c"/>
<path d="M121.2 70.0C120.4 67.8 118.2 68.9 116.3 70.7C118.6 72.0 121.0 72.4 121.2 70.0Z" fill="#9cd848"/>
<path d="M152.6 74.9C151.3 73.0 149.3 74.6 147.9 76.8C150.4 77.4 153.0 77.2 152.6 74.9Z" fill="#8ed03c"/>
<path d="M114.7 120.1C117.4 120.3 117.3 117.5 116.3 114.8C113.9 116.5 112.3 118.8 114.7 120.1Z" fill="#94d440"/>
<path d="M138.1 91.5C137.8 94.1 140.9 94.5 144.1 93.9C142.3 91.3 139.7 89.3 138.1 91.5Z" fill="#44701f"/>
<path d="M120.6 98.1C119.7 100.8 122.9 101.8 126.3 101.6C124.9 98.5 122.6 96.1 120.6 98.1Z" fill="#9cd848"/>
<path d="M123.6 68.1C124.2 65.9 121.9 65.5 119.4 65.9C120.5 68.1 122.2 69.8 123.6 68.1Z" fill="#9cd848"/>
<path d="M125.7 83.7C126.9 81.5 124.3 80.2 121.4 79.7C122.1 82.5 123.6 85.0 125.7 83.7Z" fill="#a8de54"/>
<path d="M134.8 95.3C132.9 94.5 132.2 96.7 132.2 99.0C134.4 98.3 136.2 96.8 134.8 95.3Z" fill="#86c834"/>
<path d="M143.2 80.9C143.3 78.0 140.3 78.2 137.5 79.5C139.5 81.9 142.0 83.4 143.2 80.9Z" fill="#70b42c"/>
<path d="M125.5 108.4C125.8 111.5 128.9 110.8 131.7 109.1C129.3 106.7 126.5 105.4 125.5 108.4Z" fill="#8ed03c"/>
<path d="M145.3 77.3C145.5 80.5 148.7 79.8 151.6 78.0C149.2 75.5 146.2 74.2 145.3 77.3Z" fill="#44701f"/>
<path d="M138.4 103.1C137.7 106.0 140.8 106.4 143.9 105.6C142.5 102.7 140.2 100.7 138.4 103.1Z" fill="#62a626"/>
<path d="M128.4 113.6C126.7 116.0 129.4 117.7 132.6 118.4C132.3 115.1 131.0 112.2 128.4 113.6Z" fill="#86c834"/>
<path d="M140.1 98.4C141.5 99.8 143.0 98.2 144.0 96.1C141.7 95.9 139.5 96.4 140.1 98.4Z" fill="#5c9e24"/>
<path d="M148.3 87.6C148.3 91.1 151.6 90.5 154.8 88.7C152.4 86.0 149.5 84.4 148.3 87.6Z" fill="#8ed03c"/>
<path d="M146.0 101.3C143.1 100.9 142.8 104.1 143.7 107.3C146.5 105.5 148.4 103.0 146.0 101.3Z" fill="#8ed03c"/>
<path d="M154.7 87.7C154.1 85.1 151.1 86.0 148.6 87.7C151.2 89.5 154.1 90.3 154.7 87.7Z" fill="#94d440"/>
<path d="M124.9 112.4C126.9 111.1 125.4 109.1 123.3 107.5C122.4 110.1 122.5 112.6 124.9 112.4Z" fill="#94d440"/>
<path d="M144.5 84.3C145.7 86.9 148.3 85.4 150.3 83.1C147.5 81.8 144.5 81.5 144.5 84.3Z" fill="#94d440"/>
<path d="M133.5 120.6C134.2 118.1 131.2 117.5 128.2 117.8C129.7 120.5 131.9 122.5 133.5 120.6Z" fill="#a8de54"/>
<path d="M118.5 65.3C116.8 67.4 119.2 68.9 122.0 69.5C121.9 66.6 120.8 64.0 118.5 65.3Z" fill="#9cd848"/>
<path d="M120.5 117.9C119.0 116.0 117.0 117.9 115.7 120.4C118.4 120.8 121.1 120.3 120.5 117.9Z" fill="#94d440"/>
<path d="M119.8 115.9C119.4 118.7 122.5 119.0 125.7 118.2C123.9 115.6 121.3 113.7 119.8 115.9Z" fill="#9cd848"/>
<path d="M125.4 96.2C124.2 98.4 126.6 99.4 129.4 99.6C128.7 96.9 127.3 94.7 125.4 96.2Z" fill="#8ed03c"/>
<path d="M112.0 96.7C112.6 99.5 115.5 98.6 118.0 96.7C115.5 94.8 112.6 93.9 112.0 96.7Z" fill="#5c9e24"/>
<path d="M151.1 121.5C151.5 123.9 154.0 123.2 156.3 121.7C154.2 120.1 151.7 119.2 151.1 121.5Z" fill="#78bc30"/>
<path d="M117.4 118.6C120.4 119.8 121.4 116.6 121.2 113.1C117.9 114.2 115.2 116.3 117.4 118.6Z" fill="#78bc30"/>
<path d="M127.1 81.6C125.6 80.0 123.7 81.8 122.5 84.2C125.2 84.4 127.7 83.8 127.1 81.6Z" fill="#8ed03c"/>
<path d="M142.2 92.0C142.9 89.5 140.3 89.1 137.6 89.7C138.8 92.2 140.6 94.0 142.2 92.0Z" fill="#a8de54"/>
<path d="M122.3 105.8C122.0 107.8 124.3 108.0 126.5 107.4C125.2 105.5 123.4 104.1 122.3 105.8Z" fill="#8ed03c"/>
<path d="M116.2 93.0C114.1 92.3 113.4 94.7 113.5 97.3C115.9 96.3 117.7 94.6 116.2 93.0Z" fill="#78bc30"/>
<path d="M120.5 63.1C118.4 64.0 119.5 66.4 121.4 68.3C122.6 65.9 122.9 63.3 120.5 63.1Z" fill="#70b42c"/>
<path d="M142.7 72.9C142.2 70.4 139.4 71.1 136.9 72.7C139.3 74.5 142.0 75.4 142.7 72.9Z" fill="#86c834"/>
<path d="M138.0 77.2C140.1 75.7 138.2 73.3 135.6 71.6C135.0 74.6 135.5 77.7 138.0 77.2Z" fill="#66aa28"/>
<path d="M137.2 89.1C135.1 90.6 136.7 92.5 139.1 93.8C139.8 91.2 139.6 88.7 137.2 89.1Z" fill="#94d440"/>
<path d="M152.2 83.1C153.7 80.6 150.9 79.4 147.7 79.2C148.3 82.3 149.9 84.9 152.2 83.1Z" fill="#a8de54"/>
<path d="M141.2 115.0C139.1 112.8 136.9 115.3 135.5 118.4C138.9 118.6 142.1 117.8 141.2 115.0Z" fill="#a8de54"/>
<path d="M119.3 84.1C117.3 82.8 115.8 85.3 115.2 88.1C118.0 87.6 120.5 86.1 119.3 84.1Z" fill="#a8de54"/>
<path d="M140.3 75.6C139.4 73.2 137.0 74.3 134.9 76.3C137.4 77.6 140.0 78.1 140.3 75.6Z" fill="#66aa28"/>
<path d="M131.3 109.4C129.7 111.5 132.2 113.3 135.3 114.2C135.0 111.0 133.7 108.2 131.3 109.4Z" fill="#94d440"/>
<path d="M134.3 65.2C134.9 68.1 137.8 67.2 140.4 65.3C137.9 63.3 134.9 62.4 134.3 65.2Z" fill="#94d440"/>
<path d="M142.0 109.0C141.6 111.3 144.1 111.5 146.5 110.8C145.1 108.6 143.2 107.1 142.0 109.0Z" fill="#5c9e24"/>
<path d="M153.5 59.4C151.0 58.3 149.9 61.1 149.9 64.2C152.9 63.3 155.3 61.6 153.5 59.4Z" fill="#94d440"/>
<path d="M153.7 63.8C154.5 60.8 151.2 60.2 147.8 60.7C149.3 63.8 151.7 66.2 153.7 63.8Z" fill="#8ed03c"/>
<path d="M122.3 105.1C120.3 105.8 121.1 108.2 122.7 110.2C124.0 108.0 124.5 105.5 122.3 105.1Z" fill="#66aa28"/>
<path d="M135.5 101.5C137.0 99.7 134.7 98.0 132.0 97.1C132.3 99.9 133.4 102.5 135.5 101.5Z" fill="#86c834"/>
<path d="M118.5 87.6C121.2 88.9 122.5 85.8 122.8 82.4C119.5 83.3 116.7 85.3 118.5 87.6Z" fill="#62a626"/>
<path d="M124.2 117.0C125.7 115.5 124.0 114.0 121.8 113.0C121.7 115.4 122.3 117.6 124.2 117.0Z" fill="#8ed03c"/>
<path d="M141.5 67.5C142.5 65.6 140.3 64.7 137.9 64.5C138.5 66.9 139.8 68.9 141.5 67.5Z" fill="#86c834"/>
<path d="M123.0 60.2C121.0 62.4 123.5 64.4 126.6 65.6C126.7 62.3 125.7 59.2 123.0 60.2Z" fill="#94d440"/>
<path d="M126.8 110.6C125.0 112.1 126.7 114.0 129.0 115.3C129.4 112.7 129.1 110.2 126.8 110.6Z" fill="#86c834"/>
<path d="M123.3 98.1C123.4 100.0 125.6 99.7 127.7 98.7C126.0 97.2 124.0 96.3 123.3 98.1Z" fill="#9cd848"/>
<path d="M129.1 70.1C127.1 71.9 129.2 73.9 131.9 75.1C132.3 72.2 131.7 69.4 129.1 70.1Z" fill="#9cd848"/>
<path d="M149.1 112.7C145.8 112.9 146.5 116.2 148.4 119.2C150.9 116.7 152.3 113.7 149.1 112.7Z" fill="#8ed03c"/>
<path d="M141.3 120.0C143.9 119.2 142.9 116.6 140.9 114.3C139.2 116.8 138.6 119.6 141.3 120.0Z" fill="#8ed03c"/>
<path d="M143.7 105.4C140.4 104.9 140.3 108.3 141.4 111.7C144.4 109.8 146.5 107.1 143.7 105.4Z" fill="#9cd848"/>
<path d="M117.8 78.6C117.1 81.4 120.2 82.0 123.5 81.5C121.9 78.6 119.6 76.4 117.8 78.6Z" fill="#9cd848"/>
<path d="M120.8 85.5C119.5 83.7 117.6 85.2 116.3 87.3C118.7 87.9 121.1 87.7 120.8 85.5Z" fill="#5c9e24"/>
<path d="M127.1 108.6C128.1 106.5 125.9 105.8 123.4 105.8C124.1 108.2 125.4 110.1 127.1 108.6Z" fill="#78bc30"/>
<path d="M137.2 72.4C136.7 69.9 134.3 70.7 132.1 72.4C134.3 74.0 136.7 74.8 137.2 72.4Z" fill="#94d440"/>
<path d="M118.3 78.0C115.5 78.8 116.6 82.0 118.7 84.7C120.5 81.8 121.3 78.5 118.3 78.0Z" fill="#a8de54"/>
<path d="M135.8 101.4C134.1 103.3 136.3 104.7 138.9 105.3C138.9 102.6 138.0 100.2 135.8 101.4Z" fill="#94d440"/>
<path d="M121.6 65.8C120.1 64.1 118.1 66.0 116.7 68.5C119.5 68.7 122.2 68.1 121.6 65.8Z" fill="#9cd848"/>
<path d="M131.3 101.3C133.8 101.4 133.8 98.6 132.9 95.9C130.6 97.6 129.1 100.0 131.3 101.3Z" fill="#5c9e24"/>
<path d="M122.2 78.6C120.5 80.0 122.1 81.7 124.3 82.7C124.7 80.3 124.3 78.0 122.2 78.6Z" fill="#86c834"/>
<path d="M129.9 83.7C131.2 81.6 128.9 80.5 126.3 80.3C126.7 82.9 127.9 85.1 129.9 83.7Z" fill="#9cd848"/>
<path d="M135.3 116.0C133.4 117.6 135.3 119.7 137.8 121.0C138.2 118.2 137.7 115.4 135.3 116.0Z" fill="#9cd848"/>
<path d="M118.6 76.7C120.6 75.5 119.1 73.7 117.0 72.5C116.2 74.9 116.3 77.1 118.6 76.7Z" fill="#8ed03c"/>
<path d="M148.1 110.6C145.5 110.5 145.6 113.5 146.6 116.3C148.9 114.3 150.4 111.8 148.1 110.6Z" fill="#a8de54"/>
<path d="M141.8 85.2C142.1 82.8 139.7 82.7 137.2 83.6C138.6 85.8 140.5 87.4 141.8 85.2Z" fill="#94d440"/>
<path d="M120.3 115.9C119.6 113.9 117.3 114.8 115.3 116.4C117.6 117.6 120.0 118.0 120.3 115.9Z" fill="#62a626"/>
<path d="M116.6 116.6C115.2 118.9 117.7 120.3 120.7 120.8C120.3 117.8 118.9 115.2 116.6 116.6Z" fill="#a8de54"/>
<path d="M153.1 100.9C150.3 100.0 149.6 103.1 150.1 106.3C153.1 105.0 155.4 102.8 153.1 100.9Z" fill="#86c834"/>
<path d="M135.2 90.0C133.0 89.4 132.5 91.9 132.9 94.4C135.2 93.2 136.9 91.4 135.2 90.0Z" fill="#94d440"/>
<path d="M126.2 113.5C128.2 113.0 127.4 110.7 126.0 108.7C124.7 110.8 124.2 113.1 126.2 113.5Z" fill="#70b42c"/>
<path d="M156.3 80.1C155.7 78.1 153.4 78.9 151.4 80.5C153.6 81.7 156.0 82.2 156.3 80.1Z" fill="#a8de54"/>
<path d="M129.6 76.9C131.8 78.3 133.3 75.7 133.9 72.8C130.9 73.2 128.3 74.6 129.6 76.9Z" fill="#8ed03c"/>
<path d="M115.4 100.5C116.6 103.4 119.6 101.9 122.0 99.3C118.9 97.7 115.6 97.3 115.4 100.5Z" fill="#9cd848"/>
<path d="M132.9 77.8C133.5 79.9 135.9 79.1 137.9 77.5C135.7 76.3 133.3 75.7 132.9 77.8Z" fill="#78bc30"/>
<path d="M139.9 63.0C137.4 64.1 138.8 66.6 141.0 68.5C142.3 65.8 142.6 63.0 139.9 63.0Z" fill="#86c834"/>
<path d="M150.3 96.2C152.5 97.4 153.9 94.8 154.4 91.8C151.5 92.5 149.0 94.1 150.3 96.2Z" fill="#a8de54"/>
<path d="M122.7 82.8C124.0 85.1 126.5 83.5 128.4 81.2C125.5 80.2 122.6 80.1 122.7 82.8Z" fill="#8ed03c"/>
<path d="M146.5 93.0C147.1 90.9 144.7 90.3 142.2 90.4C143.3 92.7 145.0 94.5 146.5 93.0Z" fill="#62a626"/>
<path d="M141.4 116.3C141.7 118.6 144.4 118.0 146.8 116.7C144.6 115.0 142.1 114.1 141.4 116.3Z" fill="#9cd848"/>
<path d="M141.1 87.8C143.8 86.4 142.1 83.9 139.4 82.1C138.2 85.0 138.0 88.0 141.1 87.8Z" fill="#66aa28"/>
<path d="M119.5 64.8C118.1 62.4 115.4 64.2 113.3 66.8C116.5 67.8 119.8 67.6 119.5 64.8Z" fill="#9cd848"/>
<path d="M132.3 119.5C132.2 117.3 129.9 117.7 127.9 118.9C129.6 120.6 131.6 121.5 132.3 119.5Z" fill="#94d440"/>
<path d="M129.0 62.0C131.2 61.4 130.3 59.1 128.6 57.1C127.2 59.3 126.6 61.7 129.0 62.0Z" fill="#8ed03c"/>
<path d="M123.1 84.2C126.3 82.8 124.5 79.9 121.6 77.6C120.0 80.9 119.6 84.3 123.1 84.2Z" fill="#86c834"/>
<path d="M148.4 122.4C151.4 122.6 151.3 119.6 150.1 116.6C147.4 118.5 145.7 121.0 148.4 122.4Z" fill="#a8de54"/>
<path d="M130.9 74.9C128.3 74.1 127.4 77.2 127.5 80.4C130.5 79.0 132.8 76.8 130.9 74.9Z" fill="#94d440"/>
<path d="M131.3 79.5C131.7 81.6 133.9 81.0 135.9 79.7C134.0 78.2 131.8 77.4 131.3 79.5Z" fill="#78bc30"/>
<path d="M121.9 115.4C122.7 117.8 125.7 116.7 128.1 114.8C125.4 113.3 122.3 112.8 121.9 115.4Z" fill="#94d440"/>
<path d="M143.6 93.5C143.8 90.3 140.5 90.5 137.3 91.9C139.4 94.7 142.2 96.5 143.6 93.5Z" fill="#86c834"/>
<path d="M113.0 100.5C114.6 102.2 116.4 100.3 117.5 97.9C114.8 97.7 112.3 98.3 113.0 100.5Z" fill="#94d440"/>
<path d="M140.5 109.9C137.7 109.7 137.8 112.6 139.0 115.3C141.4 113.5 142.9 111.2 140.5 109.9Z" fill="#35591a"/>
<path d="M116.9 82.3C114.7 84.4 116.9 86.3 119.9 87.5C120.3 84.3 119.7 81.4 116.9 82.3Z" fill="#78bc30"/>
<path d="M144.6 77.8C145.9 75.5 143.2 74.2 140.2 73.7C140.9 76.7 142.5 79.2 144.6 77.8Z" fill="#86c834"/>
<path d="M149.6 75.7C152.4 77.0 153.3 74.1 153.2 70.8C150.0 71.6 147.5 73.4 149.6 75.7Z" fill="#94d440"/>
<path d="M131.5 72.9C133.1 70.7 130.6 69.1 127.6 68.4C127.9 71.5 129.2 74.2 131.5 72.9Z" fill="#86c834"/>
<path d="M136.4 120.1C138.2 121.2 139.4 119.2 139.9 116.8C137.5 117.2 135.4 118.2 136.4 120.1Z" fill="#5c9e24"/>
<path d="M150.3 103.2C152.5 104.5 153.8 102.0 154.2 99.1C151.3 99.6 148.8 101.0 150.3 103.2Z" fill="#9cd848"/>
<path d="M137.2 95.1C136.8 92.7 134.0 93.4 131.5 94.9C133.9 96.6 136.6 97.4 137.2 95.1Z" fill="#3a621c"/>
<path d="M131.7 102.7C133.4 100.6 131.1 99.2 128.3 98.6C128.4 101.5 129.3 104.0 131.7 102.7Z" fill="#94d440"/>
<path d="M124.4 76.1C121.9 78.2 124.3 80.3 127.4 81.5C128.0 78.2 127.4 75.1 124.4 76.1Z" fill="#a8de54"/>
<path d="M130.8 93.4C132.9 94.1 133.6 91.6 133.5 88.9C131.1 90.0 129.2 91.8 130.8 93.4Z" fill="#9cd848"/>
<path d="M138.7 76.6C141.5 78.0 142.7 74.8 142.8 71.3C139.4 72.2 136.6 74.2 138.7 76.6Z" fill="#8ed03c"/>
<path d="M143.4 108.8C141.6 107.4 140.2 109.5 139.5 112.0C142.1 111.8 144.4 110.8 143.4 108.8Z" fill="#2f5218"/>
<path d="M146.4 119.5C146.4 117.1 143.5 117.1 140.8 118.1C142.7 120.2 145.3 121.6 146.4 119.5Z" fill="#62a626"/>
<path d="M142.3 66.9C143.3 68.7 145.2 67.4 146.5 65.5C144.3 64.8 142.1 64.8 142.3 66.9Z" fill="#9cd848"/>
<path d="M141.8 80.9C139.0 80.0 138.4 83.0 138.9 86.1C141.8 84.9 144.0 82.8 141.8 80.9Z" fill="#62a626"/>
<path d="M150.3 101.3C149.3 98.6 146.4 99.9 144.0 102.0C146.8 103.5 149.9 104.0 150.3 101.3Z" fill="#70b42c"/>
<path d="M126.3 67.9C129.2 67.0 128.0 63.8 125.8 61.2C124.0 64.1 123.2 67.4 126.3 67.9Z" fill="#8ed03c"/>
<path d="M130.7 59.9C132.9 59.9 132.8 57.6 131.9 55.3C130.0 56.9 128.8 58.9 130.7 59.9Z" fill="#86c834"/>
<path d="M130.5 95.5C131.1 93.5 128.9 93.0 126.4 93.2C127.4 95.4 129.0 97.1 130.5 95.5Z" fill="#94d440"/>
<path d="M154.5 114.8C154.4 112.5 152.1 112.9 150.0 114.1C151.6 115.9 153.7 117.0 154.5 114.8Z" fill="#62a626"/>
<path d="M115.2 67.5C117.5 67.2 116.9 64.6 115.5 62.3C113.8 64.4 112.9 66.9 115.2 67.5Z" fill="#8ed03c"/>
<path d="M127.5 69.6C127.8 71.8 130.4 71.4 132.9 70.1C130.7 68.4 128.2 67.4 127.5 69.6Z" fill="#a8de54"/>
<path d="M121.7 94.9C121.2 97.1 123.7 97.5 126.2 97.1C124.9 94.9 123.1 93.2 121.7 94.9Z" fill="#94d440"/>
<path d="M153.1 73.2C154.5 70.5 151.6 69.5 148.3 69.6C149.1 72.7 150.9 75.3 153.1 73.2Z" fill="#a8de54"/>
<path d="M125.2 112.2C125.9 114.4 128.1 113.5 130.1 111.7C127.9 110.4 125.5 109.8 125.2 112.2Z" fill="#66aa28"/>
<path d="M144.1 86.2C144.8 88.8 147.7 87.9 150.2 86.1C147.6 84.3 144.7 83.6 144.1 86.2Z" fill="#9cd848"/>
<path d="M127.4 107.6C130.0 107.1 129.3 104.2 127.7 101.7C125.8 104.0 124.8 106.8 127.4 107.6Z" fill="#3a621c"/>
<path d="M135.8 93.1C133.7 94.0 134.9 96.1 136.8 97.7C137.9 95.4 138.1 93.0 135.8 93.1Z" fill="#78bc30"/>
<path d="M128.6 77.8C130.0 75.2 127.2 74.1 124.0 73.9C124.6 77.1 126.2 79.7 128.6 77.8Z" fill="#a8de54"/>
<path d="M141.5 60.5C142.1 63.0 144.7 62.1 147.0 60.3C144.7 58.7 142.0 57.9 141.5 60.5Z" fill="#70b42c"/>
<path d="M120.4 85.6C122.0 84.4 120.5 82.6 118.5 81.5C118.1 83.8 118.5 86.0 120.4 85.6Z" fill="#9cd848"/>
<path d="M137.7 110.3C135.8 111.4 137.2 113.5 139.2 115.2C139.9 112.7 139.9 110.2 137.7 110.3Z" fill="#a8de54"/>
<path d="M142.8 122.2C144.7 120.7 143.0 118.9 140.7 117.6C140.1 120.2 140.4 122.7 142.8 122.2Z" fill="#94d440"/>
<path d="M145.4 78.8C142.7 79.1 143.2 82.0 144.7 84.7C146.7 82.4 147.9 79.7 145.4 78.8Z" fill="#9cd848"/>
<path d="M145.0 76.8C147.2 74.9 145.1 72.9 142.1 71.7C141.6 74.8 142.1 77.7 145.0 76.8Z" fill="#9cd848"/>
<path d="M123.5 70.9C123.0 73.2 125.3 73.4 127.7 72.7C126.6 70.5 124.9 69.0 123.5 70.9Z" fill="#94d440"/>
<path d="M113.4 93.5C114.7 95.4 116.4 93.7 117.5 91.5C115.1 91.0 112.8 91.3 113.4 93.5Z" fill="#86c834"/>
<path d="M119.5 113.9C118.6 111.1 115.6 112.3 113.0 114.3C115.9 116.0 119.0 116.7 119.5 113.9Z" fill="#44701f"/>
<path d="M133.0 105.0C131.3 107.9 134.3 109.2 137.9 109.3C137.4 105.8 135.7 102.9 133.0 105.0Z" fill="#94d440"/>
<path d="M143.1 99.6C144.6 98.2 142.9 96.7 140.9 95.7C140.7 98.0 141.3 100.2 143.1 99.6Z" fill="#9cd848"/>
<path d="M122.7 85.0C124.7 87.0 126.6 84.7 127.8 81.8C124.6 81.6 121.7 82.4 122.7 85.0Z" fill="#8ed03c"/>
<path d="M147.4 104.1C149.5 104.1 149.4 101.7 148.6 99.5C146.7 101.1 145.5 103.1 147.4 104.1Z" fill="#2f5218"/>
<path d="M132.9 66.7C131.1 68.9 133.5 70.6 136.6 71.4C136.6 68.2 135.5 65.4 132.9 66.7Z" fill="#9cd848"/>
<path d="M144.4 117.0C146.2 115.5 144.5 113.9 142.2 112.9C141.8 115.3 142.2 117.7 144.4 117.0Z" fill="#70b42c"/>
<path d="M142.8 81.1C145.5 81.7 145.8 78.9 145.1 76.0C142.5 77.4 140.6 79.5 142.8 81.1Z" fill="#94d440"/>
<path d="M117.3 59.6C118.9 62.1 121.6 60.1 123.5 57.3C120.2 56.4 116.9 56.7 117.3 59.6Z" fill="#9cd848"/>
<path d="M146.3 89.8C143.6 89.1 143.1 92.0 143.6 95.0C146.4 93.7 148.4 91.6 146.3 89.8Z" fill="#94d440"/>
<path d="M116.1 106.6C116.2 108.9 118.7 108.7 121.2 107.7C119.3 105.8 117.1 104.6 116.1 106.6Z" fill="#94d440"/>
<path d="M127.8 119.4C127.3 121.5 129.7 121.9 132.1 121.5C130.9 119.3 129.1 117.7 127.8 119.4Z" fill="#62a626"/>
<path d="M124.0 69.3C126.3 70.1 127.1 67.5 127.1 64.6C124.5 65.7 122.4 67.5 124.0 69.3Z" fill="#66aa28"/>
<path d="M141.9 98.7C140.3 100.5 142.5 102.4 145.2 103.4C145.1 100.5 144.2 97.8 141.9 98.7Z" fill="#78bc30"/>
<path d="M153.5 94.9C151.2 93.1 149.7 95.6 149.1 98.6C152.2 98.5 154.9 97.4 153.5 94.9Z" fill="#a8de54"/>
<path d="M148.4 123.1C150.3 126.0 152.9 123.8 154.7 120.6C151.2 119.6 147.8 119.8 148.4 123.1Z" fill="#66aa28"/>
<path d="M150.2 101.5C148.5 103.6 150.8 105.0 153.6 105.6C153.5 102.8 152.5 100.3 150.2 101.5Z" fill="#8ed03c"/>
</g></g>
<g filter="url(#bl)">
<rect x="156.9" y="14.4" width="5.1" height="4.4" fill="#1b1b1b"/>
<rect x="156.8" y="18.8" width="5.0" height="107.2" fill="#c4c8e2"/>

<path d="M159.8 19.50H162" stroke="#7779a4" stroke-width="0.5"/>
<path d="M160.8 21.46H162" stroke="#7779a4" stroke-width="0.5"/>
<path d="M160.8 23.42H162" stroke="#7779a4" stroke-width="0.5"/>
<path d="M160.8 25.38H162" stroke="#7779a4" stroke-width="0.5"/>
<path d="M160.8 27.34H162" stroke="#7779a4" stroke-width="0.5"/>
<path d="M159.8 29.30H162" stroke="#7779a4" stroke-width="0.5"/>
<path d="M160.8 31.26H162" stroke="#7779a4" stroke-width="0.5"/>
<path d="M160.8 33.22H162" stroke="#7779a4" stroke-width="0.5"/>
<path d="M160.8 35.18H162" stroke="#7779a4" stroke-width="0.5"/>
<path d="M160.8 37.14H162" stroke="#7779a4" stroke-width="0.5"/>
<path d="M159.8 39.10H162" stroke="#7779a4" stroke-width="0.5"/>
<path d="M160.8 41.06H162" stroke="#7779a4" stroke-width="0.5"/>
<path d="M160.8 43.02H162" stroke="#7779a4" stroke-width="0.5"/>
<path d="M160.8 44.98H162" stroke="#7779a4" stroke-width="0.5"/>
<path d="M160.8 46.94H162" stroke="#7779a4" stroke-width="0.5"/>
<path d="M159.8 48.90H162" stroke="#7779a4" stroke-width="0.5"/>
<path d="M160.8 50.86H162" stroke="#7779a4" stroke-width="0.5"/>
<path d="M160.8 52.82H162" stroke="#7779a4" stroke-width="0.5"/>
<path d="M160.8 54.78H162" stroke="#7779a4" stroke-width="0.5"/>
<path d="M160.8 56.74H162" stroke="#7779a4" stroke-width="0.5"/>
<path d="M159.8 58.70H162" stroke="#7779a4" stroke-width="0.5"/>
<path d="M160.8 60.66H162" stroke="#7779a4" stroke-width="0.5"/>
<path d="M160.8 62.62H162" stroke="#7779a4" stroke-width="0.5"/>
<path d="M160.8 64.58H162" stroke="#7779a4" stroke-width="0.5"/>
<path d="M160.8 66.54H162" stroke="#7779a4" stroke-width="0.5"/>
<path d="M159.8 68.50H162" stroke="#7779a4" stroke-width="0.5"/>
<path d="M160.8 70.46H162" stroke="#7779a4" stroke-width="0.5"/>
<path d="M160.8 72.42H162" stroke="#7779a4" stroke-width="0.5"/>
<path d="M160.8 74.38H162" stroke="#7779a4" stroke-width="0.5"/>
<path d="M160.8 76.34H162" stroke="#7779a4" stroke-width="0.5"/>
<path d="M159.8 78.30H162" stroke="#7779a4" stroke-width="0.5"/>
<path d="M160.8 80.26H162" stroke="#7779a4" stroke-width="0.5"/>
<path d="M160.8 82.22H162" stroke="#7779a4" stroke-width="0.5"/>
<path d="M160.8 84.18H162" stroke="#7779a4" stroke-width="0.5"/>
<path d="M160.8 86.14H162" stroke="#7779a4" stroke-width="0.5"/>
<path d="M159.8 88.10H162" stroke="#7779a4" stroke-width="0.5"/>
<path d="M160.8 90.06H162" stroke="#7779a4" stroke-width="0.5"/>
<path d="M160.8 92.02H162" stroke="#7779a4" stroke-width="0.5"/>
<path d="M160.8 93.98H162" stroke="#7779a4" stroke-width="0.5"/>
<path d="M160.8 95.94H162" stroke="#7779a4" stroke-width="0.5"/>
<path d="M159.8 97.90H162" stroke="#7779a4" stroke-width="0.5"/>
<path d="M160.8 99.86H162" stroke="#7779a4" stroke-width="0.5"/>
<path d="M160.8 101.82H162" stroke="#7779a4" stroke-width="0.5"/>
<path d="M160.8 103.78H162" stroke="#7779a4" stroke-width="0.5"/>
<path d="M160.8 105.74H162" stroke="#7779a4" stroke-width="0.5"/>
<path d="M159.8 107.70H162" stroke="#7779a4" stroke-width="0.5"/>
<path d="M160.8 109.66H162" stroke="#7779a4" stroke-width="0.5"/>
<path d="M160.8 111.62H162" stroke="#7779a4" stroke-width="0.5"/>
<path d="M160.8 113.58H162" stroke="#7779a4" stroke-width="0.5"/>
<path d="M160.8 115.54H162" stroke="#7779a4" stroke-width="0.5"/>
<path d="M159.8 117.50H162" stroke="#7779a4" stroke-width="0.5"/>
<path d="M160.8 119.46H162" stroke="#7779a4" stroke-width="0.5"/>
<path d="M160.8 121.42H162" stroke="#7779a4" stroke-width="0.5"/>
<path d="M160.8 123.38H162" stroke="#7779a4" stroke-width="0.5"/>
<path d="M160.8 125.34H162" stroke="#7779a4" stroke-width="0.5"/>
</g>
<g id="photoA2" clip-path="url(#cpR)"><g filter="url(#bl)">
<rect x="161" y="13" width="114" height="114" fill="#0b0b0b"/>
<path d="M175.8 49C175.6 58 176.2 66 176 76" stroke="#8fae55" stroke-width="1.0" fill="none"/>
<path d="M175.6 56C172 55 169 53 168.4 50.8" stroke="#b9cf8a" stroke-width="0.8" fill="none"/>
<path d="M176 58.6C180 58 183.5 56.5 185.4 54" stroke="#a9c47a" stroke-width="0.8" fill="none"/>
<path d="M176.6 48.3C180.1 46.8 178.3 42.3 175.2 38.5C173.3 43.0 172.8 47.8 176.6 48.3Z" fill="#5da02b"/>
<path d="M177.2 47.8C178.6 46.7 177.6 43.0 176.0 39.8C175.4 43.3 175.5 47.2 177.2 47.8Z" fill="#79bd3a" opacity="0.8"/>
<path d="M176.2 49.4C175.1 47.7 171.4 48.9 168.2 50.6C171.7 51.3 175.6 51.4 176.2 49.4Z" fill="#86b54a"/>
<path d="M176.6 49.5C175.4 52.1 178.8 54.0 182.6 54.9C181.3 51.3 179.0 48.0 176.6 49.5Z" fill="#4f8f26"/>
<path d="M176 60V73" stroke="#b9c088" stroke-width="1.0"/>
<path d="M175.2 72C173.6 75 174.2 78 175 80C173.8 83 174.6 87 175.4 90C175.2 96 175.8 104 176.2 113.5C176.6 113.5 176.9 113 176.8 112C176.9 104 177.2 96 177.4 90C178.6 86 178.2 83 177.4 80.5C178.6 77.5 178.2 74.5 176.9 72Z" fill="#aaa577"/>
<path d="M176.1 74C175.4 78 176.6 82 176 86C175.8 90 176.4 94 176.3 100" stroke="#6a6646" stroke-width="0.8" fill="none" opacity="0.8"/>
<path d="M209 31.5C208.4 40 209.6 52 210.6 64C211 70 211 72 211 76" stroke="#83a64a" stroke-width="1.2" fill="none"/>
<path d="M208.8 35C206 32 203.5 30 201.5 29" stroke="#83a64a" stroke-width="0.7" fill="none"/>
<path d="M208.8 33C209.5 30 211.5 29 213.5 30" stroke="#83a64a" stroke-width="0.8" fill="none"/>
<path d="M209.6 50C206 46.5 203 43.5 200.4 42" stroke="#83a64a" stroke-width="0.7" fill="none"/>
<path d="M210.6 60C212.5 56 215.5 53 220.4 50" stroke="#b5cc86" stroke-width="0.9" fill="none"/>
<path d="M201.8 28.6C200.6 23.4 191.8 24.0 183.8 26.4C190.9 30.7 199.4 33.3 201.8 28.6Z" fill="#3f7a28"/>
<path d="M200.5 27.5C199.2 25.4 191.7 25.2 185.1 25.7C191.4 27.7 198.7 29.3 200.5 27.5Z" fill="#54923a" opacity="0.8"/>
<path d="M210.6 28.0C209.8 24.7 204.9 25.5 200.6 27.4C204.7 29.8 209.4 31.1 210.6 28.0Z" fill="#44812a"/>
<path d="M212.8 29.1C213.0 34.9 220.7 35.0 228.0 32.9C222.5 27.6 215.7 24.0 212.8 29.1Z" fill="#3f7a28"/>
<path d="M213.8 28.7C214.8 31.0 220.8 31.1 226.2 30.5C221.2 28.3 215.3 26.8 213.8 28.7Z" fill="#54923a" opacity="0.8"/>
<path d="M208.9 35.5C204.9 41.0 211.6 45.7 219.5 48.1C218.5 39.9 215.0 32.5 208.9 35.5Z" fill="#417d29"/>
<path d="M211.0 35.6C210.0 38.2 214.6 42.4 219.4 45.6C217.1 40.3 213.7 35.1 211.0 35.6Z" fill="#56953b" opacity="0.75"/>
<path d="M200.7 40.8C198.9 37.4 191.5 39.1 185.1 41.8C191.8 43.7 199.4 44.3 200.7 40.8Z" fill="#4a882d"/>
<path d="M203.5 47.1C202.1 49.3 205.3 52.6 208.9 54.9C208.0 50.7 206.0 46.5 203.5 47.1Z" fill="#417b28"/>
<path d="M211 62V77" stroke="#c2c48e" stroke-width="1.2"/>
<path d="M210.4 75.2C207.4 75.6 205.2 78.4 205.4 81.6C205.4 85.4 207.4 88.4 209.6 90.2C210 97 210.4 106 211.4 124.6C211.9 124.6 212.4 124.2 212.4 123.4C212.3 110 212.6 98 212.8 90C215.4 88 216.6 84.6 216.4 81C216.2 77.6 213.8 75 210.4 75.2Z" fill="#9c986c"/>
<path d="M211.6 78.2C209.4 78.8 208.6 81.4 209.2 84C209.8 86.6 211.6 88 213 87C214.6 85.6 214.8 82.4 214.2 80.2C213.8 78.6 212.8 77.8 211.6 78.2Z" fill="#5c5840"/>
<ellipse cx="208.4" cy="80" rx="1.6" ry="2.6" fill="#b5b186"/>
<path d="M211.3 92C211.5 100 211.7 110 211.9 122" stroke="#6e6a48" stroke-width="0.7" fill="none" opacity="0.7"/>
<path d="M245.0 29C245.8 40 244.8 55 245.2 76" stroke="#83a64a" stroke-width="1.2" fill="none"/>
<path d="M245 46C243 44 241 42.5 239 41.5" stroke="#83a64a" stroke-width="0.7" fill="none"/>
<path d="M245.2 36C248 33 251 32.5 254 33" stroke="#83a64a" stroke-width="0.7" fill="none"/>
<path d="M245.2 54C247.5 51 249.5 49 251.6 47.6" stroke="#83a64a" stroke-width="0.7" fill="none"/>
<path d="M244.8 29.4C247.7 24.5 240.8 19.5 233.2 16.6C235.3 24.5 239.5 31.8 244.8 29.4Z" fill="#3f7a28"/>
<path d="M243.1 28.8C243.7 26.4 238.7 21.8 233.7 18.4C236.6 23.7 240.6 29.2 243.1 28.8Z" fill="#54923a" opacity="0.8"/>
<path d="M250.0 30.5C252.7 31.8 254.3 28.4 254.8 24.7C251.3 25.9 248.2 28.1 250.0 30.5Z" fill="#3d7527"/>
<path d="M253.9 32.9C253.1 38.1 261.6 41.2 270.1 42.1C265.0 35.3 258.0 29.5 253.9 32.9Z" fill="#3f7a28"/>
<path d="M256.1 32.9C256.4 35.3 263.0 38.3 269.1 40.4C264.3 36.1 258.4 31.9 256.1 32.9Z" fill="#54923a" opacity="0.8"/>
<path d="M246.1 29.3C241.5 28.8 240.5 35.1 241.3 41.3C246.1 37.4 249.8 32.2 246.1 29.3Z" fill="#46832b"/>
<path d="M239.6 40.8C236.9 37.4 229.8 40.7 224.0 45.2C231.3 46.0 239.1 45.1 239.6 40.8Z" fill="#48862c"/>
<path d="M251.4 49.1C254.9 51.9 258.5 47.5 260.6 42.3C255.0 42.8 249.8 44.9 251.4 49.1Z" fill="#44812a"/>
<path d="M246.6 59.3C248.8 60.0 251.0 56.4 252.2 52.7C248.7 54.5 245.5 57.2 246.6 59.3Z" fill="#a9c672"/>
<path d="M245.2 62V77" stroke="#c2c48e" stroke-width="1.2"/>
<path d="M244.8 74.6C242 75.4 240.4 79 240.6 83C240.8 87.4 242.6 90.8 244.2 92.4C244.6 99 245 107 245.6 115.8C246.1 115.8 246.6 115.4 246.6 114.6C246.6 106 246.8 98 247 92.2C249.2 90 250.4 86.4 250.2 82.4C250 78 248 74.2 244.8 74.6Z" fill="#9c986c"/>
<path d="M245.8 78C243.8 78.6 243.2 82 243.6 85.4C244 88.6 245.6 90.4 247 89.2C248.4 87.8 248.8 84 248.2 81C247.8 79 247 77.6 245.8 78Z" fill="#625e44"/>
<ellipse cx="242.8" cy="80.4" rx="1.4" ry="2.6" fill="#b5b186"/>
<path d="M245.5 94C245.7 100 245.9 107 246.1 114" stroke="#6e6a48" stroke-width="0.7" fill="none" opacity="0.7"/>
</g>
<path d="M165.8 80.6V83.0" stroke="#dcdcdc" stroke-width="0.8"/>
<text transform="translate(164.0 84.6) rotate(90) scale(1.05 1)" style="font-size:6.5px;font-weight:bold;fill:#dcdcdc">1cm</text>
</g>
<text transform="translate(50.0 133.4) scale(1.04 1)" text-anchor="middle" class="p">CK</text>
<text transform="translate(91.6 133.4) scale(1.04 1)" text-anchor="middle" class="p">TY-12</text>
<text transform="translate(133.6 133.4) scale(1.04 1)" text-anchor="middle" class="p">8-6</text>
<text transform="translate(177.4 133.4) scale(1.04 1)" text-anchor="middle" class="p">CK</text>
<text transform="translate(214.7 133.4) scale(1.04 1)" text-anchor="middle" class="p">TY-12</text>
<text transform="translate(248.3 133.4) scale(1.04 1)" text-anchor="middle" class="p">8-6</text>
<text x="14.4" y="18.6" class="L">A</text>
<g id="chartB">
<rect x="319.3" y="98.3" width="17.60" height="26.50" fill="#7f7f7f"/>
<rect x="353.7" y="40.0" width="17.50" height="84.80" fill="#5fa316"/>
<rect x="387.3" y="50.8" width="17.30" height="74.00" fill="#c5e0b3"/>
<rect x="319.55" y="98.55" width="17.10" height="26.50" fill="none" stroke="#a9cf6b" stroke-width="0.5"/>
<rect x="387.55" y="51.05" width="16.80" height="74.00" fill="none" stroke="#a9d490" stroke-width="0.6"/>
<path d="M311.3 10.600000000000001V124.8H413" fill="none" stroke="#000" stroke-width="1.25"/>
<path d="M309.0 21.8H311.3" stroke="#000" stroke-width="1.25"/>
<text transform="translate(308.40 24.25) scale(1.08 1)" text-anchor="end" class="t">0.25</text>
<path d="M309.0 42.4H311.3" stroke="#000" stroke-width="1.25"/>
<text transform="translate(308.40 44.85) scale(1.08 1)" text-anchor="end" class="t">0.20</text>
<path d="M309.0 63.0H311.3" stroke="#000" stroke-width="1.25"/>
<text transform="translate(308.40 65.45) scale(1.08 1)" text-anchor="end" class="t">0.15</text>
<path d="M309.0 83.6H311.3" stroke="#000" stroke-width="1.25"/>
<text transform="translate(308.40 86.05) scale(1.08 1)" text-anchor="end" class="t">0.10</text>
<path d="M309.0 104.2H311.3" stroke="#000" stroke-width="1.25"/>
<text transform="translate(308.40 106.65) scale(1.08 1)" text-anchor="end" class="t">0.05</text>
<path d="M309.0 124.8H311.3" stroke="#000" stroke-width="1.25"/>
<text transform="translate(308.40 127.25) scale(1.08 1)" text-anchor="end" class="t">0.00</text>
<path d="M328.4 124.8V126.8" stroke="#000" stroke-width="1"/>
<text transform="translate(328.40 133.10) scale(1.1 1)" text-anchor="middle" class="t">CK</text>
<path d="M362.4 124.8V126.8" stroke="#000" stroke-width="1"/>
<text transform="translate(362.40 133.10) scale(1.1 1)" text-anchor="middle" class="t">TY-12</text>
<path d="M396.1 124.8V126.8" stroke="#000" stroke-width="1"/>
<text transform="translate(396.10 133.10) scale(1.1 1)" text-anchor="middle" class="t">8-6</text>
<path d="M328.4 90.6V106.4M327.15 90.6H329.65M327.15 106.4H329.65" stroke="#000" stroke-width="1.25" fill="none"/>
<path d="M362.4 22.8V57.6M361.15 22.8H363.65M361.15 57.6H363.65" stroke="#000" stroke-width="1.25" fill="none"/>
<path d="M396.1 36.8V65.6M394.85 36.8H397.35M394.85 65.6H397.35" stroke="#000" stroke-width="1.25" fill="none"/>
<path d="M328.4 13.6V11.0H396.1V30M328.4 83.0V18.6H362.4V22.4" stroke="#000" stroke-width="1.25" fill="none"/>
<text x="346.2" y="18.2" text-anchor="middle" class="s">***</text>
<text x="362.7" y="10.7" text-anchor="middle" class="s">***</text>
<text transform="translate(291.50 67.40) rotate(-90) scale(1.04 1)" text-anchor="middle" class="t">Dry Weight (g)</text>
<text x="279.9" y="18.5" class="L">B</text>
</g>
<g id="chartC">
<rect x="451.0" y="104.6" width="17.00" height="20.00" fill="#7f7f7f"/>
<rect x="485" y="38.9" width="17.20" height="85.70" fill="#5fa316"/>
<rect x="518.8" y="39.9" width="17.70" height="84.70" fill="#c5e0b3"/>
<rect x="451.25" y="104.85" width="16.50" height="20.00" fill="none" stroke="#a9cf6b" stroke-width="0.5"/>
<rect x="519.05" y="40.15" width="17.20" height="84.70" fill="none" stroke="#a9d490" stroke-width="0.6"/>
<path d="M442.2 10.200000000000001V124.6H545.2" fill="none" stroke="#000" stroke-width="1.25"/>
<path d="M439.9 10.6H442.2" stroke="#000" stroke-width="1.25"/>
<text transform="translate(439.30 13.05) scale(1.08 1)" text-anchor="end" class="t">2.5</text>
<path d="M439.9 33.4H442.2" stroke="#000" stroke-width="1.25"/>
<text transform="translate(439.30 35.85) scale(1.08 1)" text-anchor="end" class="t">2.0</text>
<path d="M439.9 56.2H442.2" stroke="#000" stroke-width="1.25"/>
<text transform="translate(439.30 58.65) scale(1.08 1)" text-anchor="end" class="t">1.5</text>
<path d="M439.9 79.0H442.2" stroke="#000" stroke-width="1.25"/>
<text transform="translate(439.30 81.45) scale(1.08 1)" text-anchor="end" class="t">1.0</text>
<path d="M439.9 101.8H442.2" stroke="#000" stroke-width="1.25"/>
<text transform="translate(439.30 104.25) scale(1.08 1)" text-anchor="end" class="t">0.5</text>
<path d="M439.9 124.7H442.2" stroke="#000" stroke-width="1.25"/>
<text transform="translate(439.30 127.15) scale(1.08 1)" text-anchor="end" class="t">0.0</text>
<path d="M459.2 124.6V126.6" stroke="#000" stroke-width="1"/>
<text transform="translate(459.20 132.90) scale(1.1 1)" text-anchor="middle" class="t">CK</text>
<path d="M493.5 124.6V126.6" stroke="#000" stroke-width="1"/>
<text transform="translate(493.50 132.90) scale(1.1 1)" text-anchor="middle" class="t">TY-12</text>
<path d="M527.7 124.6V126.6" stroke="#000" stroke-width="1"/>
<text transform="translate(527.70 132.90) scale(1.1 1)" text-anchor="middle" class="t">8-6</text>
<path d="M459.2 98.5V110.9M457.95 98.5H460.45M457.95 110.9H460.45" stroke="#000" stroke-width="1.25" fill="none"/>
<path d="M493.5 25.4V53.2M492.25 25.4H494.75M492.25 53.2H494.75" stroke="#000" stroke-width="1.25" fill="none"/>
<path d="M527.7 25.4V55.2M526.45 25.4H528.95M526.45 55.2H528.95" stroke="#000" stroke-width="1.25" fill="none"/>
<path d="M459.2 16.0V13.4H527.7V22.4M459.2 92.6V22.2H493.5V25.4" stroke="#000" stroke-width="1.25" fill="none"/>
<text x="476.2" y="21.9" text-anchor="middle" class="s">***</text>
<text x="493.5" y="13.4" text-anchor="middle" class="s">***</text>
<text transform="translate(426.00 67.50) rotate(-90) scale(1.05 1)" text-anchor="middle" class="t">Fresh Weight (g)</text>
<text x="413.0" y="18.6" class="L">C</text>
</g>
<g id="chartD">
<rect x="34.3" y="252.5" width="17.60" height="32.00" fill="#7f7f7f"/>
<rect x="69.2" y="187" width="17.80" height="97.50" fill="#5fa316"/>
<rect x="104.3" y="190.3" width="17.70" height="94.20" fill="#c5e0b3"/>
<rect x="34.55" y="252.75" width="17.10" height="32.00" fill="none" stroke="#a9cf6b" stroke-width="0.5"/>
<rect x="104.55" y="190.55" width="17.20" height="94.20" fill="none" stroke="#a9d490" stroke-width="0.6"/>
<path d="M25.7 164.5V284.5H131" fill="none" stroke="#000" stroke-width="1.25"/>
<path d="M23.4 164.9H25.7" stroke="#000" stroke-width="1.25"/>
<text transform="translate(22.80 167.35) scale(1.1 1)" text-anchor="end" class="t">2.5</text>
<path d="M23.4 188.8H25.7" stroke="#000" stroke-width="1.25"/>
<text transform="translate(22.80 191.25) scale(1.1 1)" text-anchor="end" class="t">2.0</text>
<path d="M23.4 212.7H25.7" stroke="#000" stroke-width="1.25"/>
<text transform="translate(22.80 215.15) scale(1.1 1)" text-anchor="end" class="t">1.5</text>
<path d="M23.4 236.7H25.7" stroke="#000" stroke-width="1.25"/>
<text transform="translate(22.80 239.15) scale(1.1 1)" text-anchor="end" class="t">1.0</text>
<path d="M23.4 260.6H25.7" stroke="#000" stroke-width="1.25"/>
<text transform="translate(22.80 263.05) scale(1.1 1)" text-anchor="end" class="t">0.5</text>
<path d="M23.4 284.5H25.7" stroke="#000" stroke-width="1.25"/>
<text transform="translate(22.80 286.95) scale(1.1 1)" text-anchor="end" class="t">0.0</text>
<path d="M43.1 284.5V286.5" stroke="#000" stroke-width="1"/>
<text transform="translate(43.10 292.80) scale(1.1 1)" text-anchor="middle" class="t">CK</text>
<path d="M78.4 284.5V286.5" stroke="#000" stroke-width="1"/>
<text transform="translate(78.40 292.80) scale(1.1 1)" text-anchor="middle" class="t">TY-12</text>
<path d="M113.2 284.5V286.5" stroke="#000" stroke-width="1"/>
<text transform="translate(113.20 292.80) scale(1.1 1)" text-anchor="middle" class="t">8-6</text>
<path d="M43.1 245.0V258.6M41.85 245.0H44.35M41.85 258.6H44.35" stroke="#000" stroke-width="1.25" fill="none"/>
<path d="M78.4 183.7V190.9M77.15 183.7H79.65M77.15 190.9H79.65" stroke="#000" stroke-width="1.25" fill="none"/>
<path d="M113.2 184.2V196.2M111.95 184.2H114.45M111.95 196.2H114.45" stroke="#000" stroke-width="1.25" fill="none"/>
<path d="M43.1 172.9V170.3H113.2V179.4M43.1 237.7V179.0H78.4V181.6" stroke="#000" stroke-width="1.25" fill="none"/>
<text x="61.6" y="178.7" text-anchor="middle" class="s">***</text>
<text x="78.1" y="169.7" text-anchor="middle" class="s">***</text>
<text transform="translate(10.30 223.50) rotate(-90) scale(1.04 1)" text-anchor="middle" class="t">Stem Diameter (mm)</text>
<text x="14.5" y="154.0" class="L">D</text>
</g>
<g id="chartE">
<rect x="171.6" y="239.5" width="17.60" height="44.60" fill="#7f7f7f"/>
<rect x="206.5" y="188.5" width="17.90" height="95.60" fill="#5fa316"/>
<rect x="241.6" y="198.4" width="18.00" height="85.70" fill="#c5e0b3"/>
<rect x="171.85" y="239.75" width="17.10" height="44.60" fill="none" stroke="#a9cf6b" stroke-width="0.5"/>
<rect x="241.85" y="198.65" width="17.50" height="85.70" fill="none" stroke="#a9d490" stroke-width="0.6"/>
<path d="M162.5 165.60000000000002V284.1H269" fill="none" stroke="#000" stroke-width="1.25"/>
<path d="M160.2 173.7H162.5" stroke="#000" stroke-width="1.25"/>
<text transform="translate(159.30 176.15) scale(1.06 1)" text-anchor="end" class="t">14</text>
<path d="M160.2 189.5H162.5" stroke="#000" stroke-width="1.25"/>
<text transform="translate(159.30 191.95) scale(1.06 1)" text-anchor="end" class="t">12</text>
<path d="M160.2 205.2H162.5" stroke="#000" stroke-width="1.25"/>
<text transform="translate(159.30 207.65) scale(1.06 1)" text-anchor="end" class="t">10</text>
<path d="M160.2 221.0H162.5" stroke="#000" stroke-width="1.25"/>
<text transform="translate(159.30 223.45) scale(1.06 1)" text-anchor="end" class="t">8</text>
<path d="M160.2 236.8H162.5" stroke="#000" stroke-width="1.25"/>
<text transform="translate(159.30 239.25) scale(1.06 1)" text-anchor="end" class="t">6</text>
<path d="M160.2 252.6H162.5" stroke="#000" stroke-width="1.25"/>
<text transform="translate(159.30 255.05) scale(1.06 1)" text-anchor="end" class="t">4</text>
<path d="M160.2 268.3H162.5" stroke="#000" stroke-width="1.25"/>
<text transform="translate(159.30 270.75) scale(1.06 1)" text-anchor="end" class="t">2</text>
<path d="M160.2 284.1H162.5" stroke="#000" stroke-width="1.25"/>
<text transform="translate(159.30 286.55) scale(1.06 1)" text-anchor="end" class="t">0</text>
<path d="M180.6 284.1V286.1" stroke="#000" stroke-width="1"/>
<text transform="translate(180.60 292.40) scale(1.1 1)" text-anchor="middle" class="t">CK</text>
<path d="M216 284.1V286.1" stroke="#000" stroke-width="1"/>
<text transform="translate(216.00 292.40) scale(1.1 1)" text-anchor="middle" class="t">TY-12</text>
<path d="M250.8 284.1V286.1" stroke="#000" stroke-width="1"/>
<text transform="translate(250.80 292.40) scale(1.1 1)" text-anchor="middle" class="t">8-6</text>
<path d="M180.6 233V245.7M179.35 233H181.85M179.35 245.7H181.85" stroke="#000" stroke-width="1.25" fill="none"/>
<path d="M216 180.7V196M214.75 180.7H217.25M214.75 196H217.25" stroke="#000" stroke-width="1.25" fill="none"/>
<path d="M250.8 189.6V207.4M249.55 189.6H252.05M249.55 207.4H252.05" stroke="#000" stroke-width="1.25" fill="none"/>
<path d="M180.6 172.6V170H250.8V185.8M180.6 225.5V178.2H216V180.7" stroke="#000" stroke-width="1.25" fill="none"/>
<text x="198.5" y="177.5" text-anchor="middle" class="s">***</text>
<text x="216" y="168.5" text-anchor="middle" class="s">***</text>
<text transform="translate(149.00 226.20) rotate(-90) scale(1.01 1)" text-anchor="middle" class="t">Stem Length (cm)</text>
<text x="155" y="155.3" class="L">E</text>
</g>
<g id="chartF">
<rect x="308.2" y="234.7" width="17.80" height="49.40" fill="#7f7f7f"/>
<rect x="343" y="204" width="17.80" height="80.10" fill="#5fa316"/>
<rect x="377.8" y="221.8" width="18.40" height="62.30" fill="#c5e0b3"/>
<rect x="308.45" y="234.95" width="17.30" height="49.40" fill="none" stroke="#a9cf6b" stroke-width="0.5"/>
<rect x="378.05" y="222.05" width="17.90" height="62.30" fill="none" stroke="#a9d490" stroke-width="0.6"/>
<path d="M299.5 166.8V284.1H404.8" fill="none" stroke="#000" stroke-width="1.25"/>
<path d="M297.2 167.1H299.5" stroke="#000" stroke-width="1.25"/>
<text transform="translate(296.10 169.55) scale(1.06 1)" text-anchor="end" class="t">25</text>
<path d="M297.2 190.5H299.5" stroke="#000" stroke-width="1.25"/>
<text transform="translate(296.10 192.95) scale(1.06 1)" text-anchor="end" class="t">20</text>
<path d="M297.2 213.9H299.5" stroke="#000" stroke-width="1.25"/>
<text transform="translate(296.10 216.35) scale(1.06 1)" text-anchor="end" class="t">15</text>
<path d="M297.2 237.3H299.5" stroke="#000" stroke-width="1.25"/>
<text transform="translate(296.10 239.75) scale(1.06 1)" text-anchor="end" class="t">10</text>
<path d="M297.2 260.7H299.5" stroke="#000" stroke-width="1.25"/>
<text transform="translate(296.10 263.15) scale(1.06 1)" text-anchor="end" class="t">5</text>
<path d="M297.2 284.1H299.5" stroke="#000" stroke-width="1.25"/>
<text transform="translate(296.10 286.55) scale(1.06 1)" text-anchor="end" class="t">0</text>
<path d="M317.1 284.1V286.1" stroke="#000" stroke-width="1"/>
<text transform="translate(317.10 292.40) scale(1.1 1)" text-anchor="middle" class="t">CK</text>
<path d="M352 284.1V286.1" stroke="#000" stroke-width="1"/>
<text transform="translate(352.00 292.40) scale(1.1 1)" text-anchor="middle" class="t">TY-12</text>
<path d="M386.9 284.1V286.1" stroke="#000" stroke-width="1"/>
<text transform="translate(386.90 292.40) scale(1.1 1)" text-anchor="middle" class="t">8-6</text>
<path d="M317.1 228.0V241.0M315.85 228.0H318.35M315.85 241.0H318.35" stroke="#000" stroke-width="1.25" fill="none"/>
<path d="M352 183.7V225.4M350.75 183.7H353.25M350.75 225.4H353.25" stroke="#000" stroke-width="1.25" fill="none"/>
<path d="M386.9 211.8V233.6M385.65 211.8H388.15M385.65 233.6H388.15" stroke="#000" stroke-width="1.25" fill="none"/>
<path d="M317.1 171.1V168.5H386.9V210.4M317.1 222.6V178.7H352V183.7" stroke="#000" stroke-width="1.25" fill="none"/>
<text x="334.7" y="178.0" text-anchor="middle" class="s">***</text>
<text x="351.8" y="168.3" text-anchor="middle" class="s">*</text>
<text transform="translate(284.80 225.60) rotate(-90) scale(1.045 1)" text-anchor="middle" class="t">Root Length (cm)</text>
<text x="280.5" y="155.0" class="L">F</text>
</g>
<g id="chartG">
<rect x="448.2" y="236.0" width="17.80" height="48.00" fill="#7f7f7f"/>
<rect x="483.3" y="196.8" width="17.90" height="87.20" fill="#5fa316"/>
<rect x="518.3" y="203.8" width="17.40" height="80.20" fill="#c5e0b3"/>
<rect x="448.45" y="236.25" width="17.30" height="48.00" fill="none" stroke="#a9cf6b" stroke-width="0.5"/>
<rect x="518.55" y="204.05" width="16.90" height="80.20" fill="none" stroke="#a9d490" stroke-width="0.6"/>
<path d="M439.9 166.5V284.0H544.4" fill="none" stroke="#000" stroke-width="1.25"/>
<path d="M437.59999999999997 166.8H439.9" stroke="#000" stroke-width="1.25"/>
<text transform="translate(436.50 169.25) scale(1.06 1)" text-anchor="end" class="t">2500</text>
<path d="M437.59999999999997 190.2H439.9" stroke="#000" stroke-width="1.25"/>
<text transform="translate(436.50 192.65) scale(1.06 1)" text-anchor="end" class="t">2000</text>
<path d="M437.59999999999997 213.7H439.9" stroke="#000" stroke-width="1.25"/>
<text transform="translate(436.50 216.15) scale(1.06 1)" text-anchor="end" class="t">1500</text>
<path d="M437.59999999999997 237.1H439.9" stroke="#000" stroke-width="1.25"/>
<text transform="translate(436.50 239.55) scale(1.06 1)" text-anchor="end" class="t">1000</text>
<path d="M437.59999999999997 260.6H439.9" stroke="#000" stroke-width="1.25"/>
<text transform="translate(436.50 263.05) scale(1.06 1)" text-anchor="end" class="t">500</text>
<path d="M437.59999999999997 284.0H439.9" stroke="#000" stroke-width="1.25"/>
<text transform="translate(436.50 286.45) scale(1.06 1)" text-anchor="end" class="t">0</text>
<path d="M456.6 284.0V286.0" stroke="#000" stroke-width="1"/>
<text transform="translate(456.60 292.30) scale(1.1 1)" text-anchor="middle" class="t">CK</text>
<path d="M492.0 284.0V286.0" stroke="#000" stroke-width="1"/>
<text transform="translate(492.00 292.30) scale(1.1 1)" text-anchor="middle" class="t">TY-12</text>
<path d="M527.1 284.0V286.0" stroke="#000" stroke-width="1"/>
<text transform="translate(527.10 292.30) scale(1.1 1)" text-anchor="middle" class="t">8-6</text>
<path d="M456.6 229.3V242.7M455.35 229.3H457.85M455.35 242.7H457.85" stroke="#000" stroke-width="1.25" fill="none"/>
<path d="M492.0 183.3V210.5M490.75 183.3H493.25M490.75 210.5H493.25" stroke="#000" stroke-width="1.25" fill="none"/>
<path d="M527.1 183.3V226.1M525.85 183.3H528.35M525.85 226.1H528.35" stroke="#000" stroke-width="1.25" fill="none"/>
<path d="M456.6 173.0V170.4H527.1V181.5M456.6 221.3V178.9H492.0V182.0" stroke="#000" stroke-width="1.25" fill="none"/>
<text x="474.8" y="179.5" text-anchor="middle" class="s">*</text>
<text x="491.9" y="169.8" text-anchor="middle" class="s">*</text>
<text transform="translate(416.30 226.00) rotate(-90) scale(1.29 1)" text-anchor="middle" class="t2">Chlorophyll Content (mg/g)</text>
<text x="413.3" y="155.8" class="L">G</text>
</g>
</svg>
</body></html>
